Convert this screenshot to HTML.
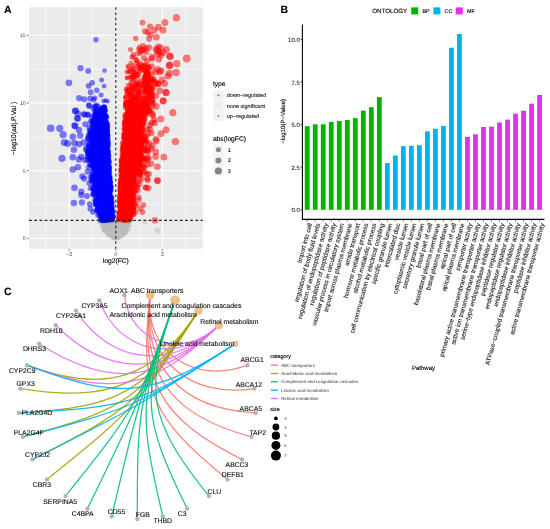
<!DOCTYPE html>
<html><head><meta charset="utf-8"><style>
html,body{margin:0;padding:0;background:#fff;}
svg{display:block;will-change:transform;filter:blur(0.25px);}
text{font-family:"Liberation Sans", sans-serif;text-rendering:geometricPrecision;}
text{stroke-width:0.12px;}
</style></head><body>
<svg width="550" height="529" viewBox="0 0 550 529">
<rect width="550" height="529" fill="#fff"/>
<text x="4" y="13" font-size="10.5" font-weight="bold" fill="#000" stroke="#000">A</text>
<rect x="29.0" y="7.2" width="173.8" height="241.6" fill="#EBEBEB"/>
<line x1="46.0" y1="7.2" x2="46.0" y2="248.8" stroke="#fff" stroke-width="0.5"/>
<line x1="92.5" y1="7.2" x2="92.5" y2="248.8" stroke="#fff" stroke-width="0.5"/>
<line x1="139.1" y1="7.2" x2="139.1" y2="248.8" stroke="#fff" stroke-width="0.5"/>
<line x1="185.6" y1="7.2" x2="185.6" y2="248.8" stroke="#fff" stroke-width="0.5"/>
<line x1="29.0" y1="204.6" x2="202.8" y2="204.6" stroke="#fff" stroke-width="0.5"/>
<line x1="29.0" y1="136.9" x2="202.8" y2="136.9" stroke="#fff" stroke-width="0.5"/>
<line x1="29.0" y1="69.2" x2="202.8" y2="69.2" stroke="#fff" stroke-width="0.5"/>
<line x1="69.2" y1="7.2" x2="69.2" y2="248.8" stroke="#fff" stroke-width="1"/>
<line x1="115.8" y1="7.2" x2="115.8" y2="248.8" stroke="#fff" stroke-width="1"/>
<line x1="162.4" y1="7.2" x2="162.4" y2="248.8" stroke="#fff" stroke-width="1"/>
<line x1="29.0" y1="238.4" x2="202.8" y2="238.4" stroke="#fff" stroke-width="1"/>
<line x1="29.0" y1="170.7" x2="202.8" y2="170.7" stroke="#fff" stroke-width="1"/>
<line x1="29.0" y1="103.0" x2="202.8" y2="103.0" stroke="#fff" stroke-width="1"/>
<line x1="29.0" y1="35.3" x2="202.8" y2="35.3" stroke="#fff" stroke-width="1"/>
<clipPath id="ca"><rect x="29.0" y="7.2" width="173.8" height="241.6"/></clipPath>
<g clip-path="url(#ca)">
<g fill="#BEBEBE" fill-opacity="0.5"><circle cx="123.9" cy="231.9" r="1.5"/><circle cx="126.0" cy="226.3" r="1.9"/><circle cx="116.0" cy="234.9" r="1.6"/><circle cx="114.5" cy="225.5" r="1.7"/><circle cx="114.9" cy="238.4" r="2.0"/><circle cx="105.5" cy="224.8" r="1.4"/><circle cx="114.2" cy="221.6" r="2.0"/><circle cx="114.9" cy="232.0" r="1.5"/><circle cx="106.5" cy="221.2" r="1.5"/><circle cx="104.0" cy="227.5" r="1.5"/><circle cx="126.4" cy="225.7" r="1.9"/><circle cx="119.4" cy="232.2" r="1.7"/><circle cx="126.5" cy="229.9" r="1.8"/><circle cx="113.3" cy="222.0" r="1.5"/><circle cx="114.9" cy="235.3" r="1.8"/><circle cx="118.5" cy="231.6" r="1.5"/><circle cx="109.4" cy="228.7" r="1.5"/><circle cx="113.9" cy="237.9" r="1.6"/><circle cx="117.7" cy="236.3" r="1.9"/><circle cx="118.4" cy="237.5" r="1.5"/><circle cx="127.6" cy="224.4" r="1.5"/><circle cx="116.5" cy="236.5" r="1.6"/><circle cx="110.0" cy="228.2" r="1.9"/><circle cx="118.1" cy="229.2" r="1.9"/><circle cx="112.7" cy="221.4" r="1.5"/><circle cx="116.0" cy="237.9" r="1.7"/><circle cx="113.7" cy="236.3" r="1.8"/><circle cx="116.3" cy="227.2" r="1.9"/><circle cx="128.1" cy="223.6" r="1.9"/><circle cx="110.2" cy="235.2" r="1.9"/><circle cx="119.1" cy="221.2" r="1.7"/><circle cx="111.6" cy="233.7" r="1.6"/><circle cx="112.4" cy="224.1" r="1.7"/><circle cx="108.6" cy="227.0" r="1.7"/><circle cx="115.8" cy="238.2" r="1.9"/><circle cx="116.9" cy="234.0" r="1.9"/><circle cx="125.5" cy="228.2" r="1.7"/><circle cx="126.4" cy="230.1" r="1.9"/><circle cx="120.1" cy="232.8" r="1.6"/><circle cx="107.7" cy="228.0" r="1.5"/><circle cx="119.2" cy="237.0" r="1.7"/><circle cx="118.8" cy="231.4" r="2.0"/><circle cx="119.2" cy="229.2" r="1.5"/><circle cx="113.4" cy="222.1" r="1.9"/><circle cx="108.9" cy="233.8" r="1.9"/><circle cx="115.8" cy="236.4" r="1.4"/><circle cx="102.3" cy="221.5" r="1.5"/><circle cx="117.4" cy="224.3" r="1.8"/><circle cx="120.9" cy="223.9" r="1.6"/><circle cx="117.1" cy="237.4" r="1.8"/><circle cx="110.3" cy="231.7" r="1.4"/><circle cx="123.9" cy="235.0" r="1.4"/><circle cx="110.3" cy="226.9" r="1.8"/><circle cx="111.4" cy="235.0" r="1.9"/><circle cx="123.6" cy="223.3" r="1.5"/><circle cx="118.1" cy="231.0" r="1.5"/><circle cx="118.9" cy="232.6" r="1.9"/><circle cx="121.1" cy="226.7" r="1.9"/><circle cx="103.0" cy="223.8" r="1.5"/><circle cx="125.7" cy="230.9" r="1.6"/><circle cx="120.5" cy="229.0" r="1.6"/><circle cx="121.6" cy="223.3" r="1.6"/><circle cx="115.2" cy="227.5" r="1.5"/><circle cx="116.1" cy="226.8" r="1.9"/><circle cx="112.7" cy="231.1" r="1.9"/><circle cx="105.7" cy="223.3" r="1.4"/><circle cx="112.9" cy="236.9" r="1.9"/><circle cx="108.4" cy="231.8" r="1.9"/><circle cx="123.0" cy="227.6" r="1.8"/><circle cx="121.4" cy="234.6" r="1.6"/><circle cx="116.6" cy="222.1" r="1.5"/><circle cx="118.0" cy="225.7" r="1.9"/><circle cx="106.6" cy="223.2" r="1.8"/><circle cx="125.5" cy="233.6" r="1.9"/><circle cx="114.6" cy="234.6" r="1.5"/><circle cx="121.5" cy="234.3" r="1.7"/><circle cx="113.4" cy="227.6" r="1.9"/><circle cx="113.2" cy="230.5" r="1.8"/><circle cx="124.1" cy="227.7" r="1.6"/><circle cx="121.9" cy="223.4" r="1.5"/><circle cx="121.1" cy="233.5" r="1.5"/><circle cx="129.6" cy="222.6" r="1.7"/><circle cx="121.3" cy="228.8" r="1.9"/><circle cx="123.2" cy="224.8" r="1.7"/><circle cx="109.7" cy="221.6" r="1.8"/><circle cx="106.6" cy="229.0" r="1.9"/><circle cx="113.6" cy="237.0" r="1.5"/><circle cx="102.9" cy="223.2" r="1.5"/><circle cx="125.3" cy="224.1" r="1.5"/><circle cx="111.7" cy="232.7" r="1.6"/><circle cx="119.2" cy="230.0" r="1.6"/><circle cx="122.1" cy="234.8" r="1.5"/><circle cx="127.8" cy="223.0" r="1.5"/><circle cx="114.5" cy="238.0" r="1.7"/><circle cx="112.6" cy="237.0" r="1.8"/><circle cx="107.5" cy="222.2" r="1.9"/><circle cx="121.4" cy="234.3" r="1.8"/><circle cx="119.2" cy="235.9" r="1.6"/><circle cx="122.8" cy="223.9" r="2.0"/><circle cx="113.1" cy="231.4" r="1.5"/><circle cx="105.0" cy="230.0" r="1.7"/><circle cx="112.5" cy="235.1" r="1.8"/><circle cx="124.1" cy="232.3" r="1.6"/><circle cx="123.4" cy="233.1" r="1.8"/><circle cx="117.2" cy="224.7" r="1.4"/><circle cx="109.1" cy="233.7" r="1.7"/><circle cx="121.2" cy="228.2" r="1.8"/><circle cx="118.1" cy="222.5" r="2.0"/><circle cx="114.6" cy="221.7" r="1.7"/><circle cx="117.7" cy="222.3" r="1.5"/><circle cx="111.4" cy="236.4" r="1.9"/><circle cx="117.7" cy="233.4" r="1.7"/><circle cx="122.9" cy="231.9" r="1.8"/><circle cx="117.3" cy="228.1" r="1.8"/><circle cx="115.1" cy="227.7" r="1.7"/><circle cx="124.6" cy="226.9" r="1.9"/><circle cx="113.6" cy="234.7" r="1.4"/><circle cx="123.8" cy="227.8" r="1.7"/><circle cx="119.8" cy="232.6" r="1.7"/><circle cx="109.5" cy="224.2" r="1.7"/><circle cx="114.7" cy="238.5" r="1.6"/><circle cx="125.9" cy="231.2" r="1.6"/><circle cx="128.1" cy="225.7" r="1.8"/><circle cx="125.3" cy="222.3" r="1.7"/><circle cx="114.5" cy="224.5" r="1.9"/><circle cx="123.7" cy="229.3" r="1.6"/><circle cx="110.2" cy="230.6" r="1.8"/><circle cx="108.2" cy="234.5" r="1.9"/><circle cx="104.5" cy="228.8" r="1.5"/><circle cx="113.5" cy="232.3" r="1.6"/><circle cx="116.6" cy="229.3" r="1.5"/><circle cx="114.2" cy="237.8" r="1.6"/><circle cx="113.8" cy="222.2" r="1.8"/><circle cx="106.1" cy="224.4" r="1.9"/><circle cx="125.8" cy="229.5" r="1.8"/><circle cx="118.7" cy="234.4" r="1.6"/><circle cx="115.5" cy="228.7" r="1.7"/><circle cx="108.6" cy="232.2" r="1.5"/><circle cx="128.2" cy="226.0" r="1.5"/><circle cx="115.5" cy="223.9" r="1.7"/><circle cx="109.2" cy="223.9" r="1.5"/><circle cx="114.3" cy="231.8" r="1.9"/><circle cx="127.6" cy="223.8" r="1.8"/><circle cx="119.3" cy="221.9" r="1.9"/><circle cx="128.7" cy="224.7" r="1.5"/><circle cx="101.3" cy="226.5" r="1.9"/><circle cx="115.7" cy="238.3" r="1.8"/><circle cx="127.5" cy="231.0" r="1.6"/><circle cx="103.7" cy="230.0" r="1.8"/><circle cx="124.9" cy="228.4" r="1.6"/><circle cx="106.2" cy="222.4" r="1.6"/><circle cx="126.2" cy="228.8" r="1.9"/><circle cx="123.2" cy="232.9" r="1.4"/><circle cx="111.9" cy="234.8" r="1.9"/><circle cx="110.4" cy="233.0" r="2.0"/><circle cx="121.5" cy="225.7" r="1.9"/><circle cx="116.9" cy="223.1" r="1.7"/><circle cx="111.2" cy="235.8" r="1.9"/><circle cx="112.1" cy="231.6" r="1.7"/><circle cx="113.6" cy="236.1" r="1.8"/><circle cx="115.3" cy="234.0" r="1.8"/><circle cx="104.6" cy="227.8" r="1.8"/><circle cx="122.7" cy="224.6" r="1.7"/><circle cx="115.8" cy="236.0" r="1.6"/><circle cx="107.8" cy="222.3" r="1.5"/><circle cx="115.2" cy="222.1" r="1.8"/><circle cx="113.3" cy="237.1" r="1.7"/><circle cx="105.5" cy="222.3" r="1.7"/><circle cx="110.9" cy="235.1" r="1.9"/><circle cx="110.6" cy="236.2" r="1.6"/><circle cx="109.3" cy="234.3" r="1.9"/><circle cx="113.6" cy="229.2" r="1.6"/><circle cx="113.1" cy="221.7" r="1.4"/><circle cx="125.1" cy="230.9" r="1.8"/><circle cx="117.9" cy="226.7" r="1.8"/><circle cx="117.4" cy="235.0" r="1.7"/><circle cx="110.4" cy="229.6" r="1.9"/><circle cx="119.1" cy="223.4" r="1.6"/><circle cx="113.0" cy="225.7" r="1.8"/><circle cx="108.8" cy="230.8" r="2.0"/><circle cx="108.3" cy="222.8" r="1.9"/><circle cx="112.5" cy="236.9" r="1.5"/><circle cx="125.5" cy="229.2" r="1.5"/><circle cx="114.5" cy="229.5" r="1.7"/><circle cx="113.7" cy="223.5" r="1.9"/><circle cx="123.6" cy="223.0" r="1.9"/><circle cx="126.9" cy="221.2" r="1.7"/><circle cx="115.9" cy="232.6" r="1.5"/><circle cx="102.4" cy="226.0" r="1.5"/><circle cx="113.7" cy="229.1" r="1.6"/><circle cx="111.1" cy="221.6" r="1.6"/><circle cx="122.1" cy="228.1" r="1.9"/><circle cx="116.4" cy="237.1" r="1.6"/><circle cx="114.9" cy="223.4" r="2.0"/><circle cx="122.2" cy="223.6" r="1.5"/><circle cx="117.0" cy="238.0" r="1.9"/><circle cx="103.9" cy="222.8" r="2.0"/><circle cx="129.2" cy="221.6" r="1.4"/><circle cx="114.5" cy="231.0" r="1.8"/><circle cx="125.0" cy="232.9" r="1.9"/><circle cx="123.4" cy="228.2" r="2.0"/><circle cx="114.0" cy="225.7" r="2.0"/><circle cx="126.8" cy="227.5" r="1.6"/><circle cx="116.2" cy="234.2" r="1.6"/><circle cx="107.6" cy="228.6" r="1.9"/><circle cx="120.1" cy="230.9" r="1.5"/><circle cx="109.7" cy="225.1" r="1.9"/><circle cx="111.5" cy="227.5" r="1.5"/><circle cx="121.5" cy="222.9" r="1.6"/><circle cx="107.1" cy="232.1" r="1.7"/><circle cx="114.2" cy="225.4" r="1.8"/><circle cx="122.5" cy="223.7" r="2.0"/><circle cx="108.3" cy="224.5" r="2.0"/><circle cx="117.5" cy="226.0" r="2.0"/><circle cx="115.0" cy="221.7" r="1.8"/><circle cx="111.4" cy="226.9" r="1.4"/><circle cx="105.5" cy="230.6" r="1.6"/><circle cx="103.7" cy="222.2" r="1.7"/><circle cx="121.6" cy="224.6" r="1.5"/><circle cx="118.1" cy="237.8" r="1.5"/><circle cx="101.9" cy="226.6" r="1.4"/><circle cx="120.9" cy="223.2" r="1.5"/><circle cx="115.2" cy="236.8" r="1.5"/><circle cx="118.7" cy="234.9" r="1.8"/><circle cx="109.6" cy="222.8" r="2.0"/><circle cx="117.7" cy="235.3" r="1.4"/><circle cx="111.6" cy="236.6" r="1.8"/><circle cx="120.6" cy="235.2" r="1.5"/><circle cx="127.0" cy="221.6" r="1.5"/><circle cx="115.6" cy="236.2" r="1.7"/><circle cx="113.2" cy="221.1" r="1.8"/><circle cx="124.8" cy="229.8" r="1.6"/><circle cx="127.9" cy="225.9" r="1.5"/><circle cx="130.8" cy="221.8" r="1.4"/><circle cx="117.0" cy="229.9" r="2.0"/><circle cx="113.9" cy="237.6" r="1.6"/><circle cx="118.7" cy="235.6" r="1.7"/><circle cx="124.7" cy="224.7" r="1.8"/><circle cx="116.3" cy="224.4" r="1.7"/><circle cx="113.4" cy="222.0" r="1.4"/><circle cx="102.4" cy="225.4" r="1.6"/><circle cx="110.8" cy="229.8" r="1.5"/><circle cx="121.3" cy="236.9" r="1.7"/><circle cx="114.3" cy="236.0" r="1.6"/><circle cx="111.3" cy="233.6" r="2.0"/><circle cx="125.4" cy="222.0" r="1.6"/><circle cx="104.7" cy="227.1" r="1.8"/><circle cx="119.9" cy="222.7" r="2.0"/><circle cx="119.4" cy="236.6" r="2.0"/><circle cx="126.2" cy="224.5" r="1.8"/><circle cx="109.0" cy="230.1" r="1.6"/><circle cx="106.0" cy="223.2" r="2.0"/><circle cx="102.2" cy="223.5" r="1.5"/><circle cx="118.0" cy="224.3" r="1.7"/><circle cx="120.9" cy="224.6" r="1.6"/><circle cx="127.4" cy="229.1" r="1.8"/><circle cx="126.9" cy="226.4" r="1.7"/><circle cx="116.2" cy="236.4" r="1.5"/><circle cx="114.1" cy="238.3" r="2.0"/><circle cx="105.1" cy="221.3" r="1.5"/><circle cx="117.4" cy="229.3" r="1.5"/><circle cx="119.0" cy="235.2" r="1.5"/><circle cx="119.4" cy="230.5" r="1.9"/><circle cx="115.4" cy="227.8" r="1.7"/><circle cx="119.6" cy="234.4" r="2.0"/><circle cx="115.5" cy="233.6" r="1.9"/><circle cx="118.7" cy="224.1" r="1.7"/><circle cx="114.7" cy="236.3" r="1.6"/><circle cx="113.7" cy="237.1" r="1.6"/><circle cx="119.0" cy="237.4" r="2.0"/><circle cx="105.1" cy="231.6" r="1.4"/><circle cx="110.6" cy="230.6" r="1.6"/><circle cx="123.8" cy="231.5" r="1.6"/><circle cx="103.7" cy="231.0" r="2.0"/><circle cx="126.2" cy="223.1" r="1.6"/><circle cx="112.6" cy="234.6" r="1.4"/><circle cx="122.4" cy="223.1" r="1.5"/><circle cx="110.7" cy="230.0" r="1.8"/><circle cx="112.6" cy="236.0" r="2.0"/><circle cx="124.8" cy="229.0" r="1.9"/><circle cx="124.2" cy="231.2" r="1.9"/><circle cx="122.8" cy="222.0" r="1.6"/><circle cx="118.4" cy="226.7" r="2.0"/><circle cx="107.6" cy="221.2" r="1.9"/><circle cx="116.2" cy="230.6" r="1.8"/><circle cx="106.1" cy="226.1" r="1.9"/><circle cx="105.9" cy="231.5" r="1.6"/><circle cx="117.2" cy="231.2" r="1.6"/><circle cx="118.8" cy="228.1" r="1.8"/><circle cx="122.9" cy="229.2" r="2.0"/><circle cx="105.5" cy="225.9" r="1.6"/><circle cx="117.5" cy="235.8" r="1.5"/><circle cx="108.5" cy="234.8" r="1.9"/><circle cx="106.1" cy="226.3" r="1.7"/><circle cx="115.2" cy="223.2" r="1.6"/><circle cx="125.2" cy="232.2" r="1.5"/><circle cx="115.0" cy="229.4" r="1.5"/><circle cx="125.3" cy="229.9" r="1.6"/><circle cx="111.8" cy="230.7" r="1.5"/><circle cx="102.5" cy="224.6" r="1.6"/><circle cx="119.0" cy="236.8" r="1.6"/><circle cx="111.1" cy="221.0" r="1.9"/><circle cx="122.0" cy="222.0" r="2.0"/><circle cx="123.2" cy="233.5" r="1.6"/><circle cx="122.3" cy="222.7" r="1.6"/><circle cx="116.3" cy="238.4" r="2.0"/><circle cx="128.9" cy="226.0" r="1.6"/><circle cx="106.9" cy="226.7" r="1.5"/><circle cx="126.4" cy="221.2" r="1.8"/><circle cx="108.8" cy="233.8" r="1.7"/><circle cx="114.8" cy="221.9" r="1.8"/><circle cx="107.8" cy="231.8" r="1.9"/><circle cx="118.1" cy="223.2" r="2.0"/><circle cx="113.7" cy="224.0" r="1.8"/><circle cx="118.8" cy="237.4" r="1.4"/><circle cx="124.3" cy="233.4" r="1.9"/><circle cx="114.6" cy="224.1" r="1.8"/><circle cx="116.7" cy="238.3" r="1.8"/><circle cx="111.7" cy="229.2" r="1.7"/><circle cx="109.2" cy="225.9" r="1.7"/><circle cx="126.9" cy="226.1" r="1.6"/><circle cx="124.7" cy="231.8" r="1.7"/><circle cx="118.9" cy="228.8" r="1.5"/><circle cx="117.1" cy="237.9" r="1.8"/><circle cx="115.3" cy="236.2" r="1.6"/><circle cx="121.0" cy="229.9" r="1.4"/><circle cx="120.1" cy="234.8" r="1.6"/><circle cx="108.3" cy="232.5" r="1.7"/><circle cx="113.6" cy="231.8" r="1.8"/><circle cx="121.2" cy="229.1" r="1.5"/><circle cx="119.7" cy="230.5" r="1.9"/><circle cx="123.9" cy="222.0" r="1.8"/><circle cx="109.9" cy="227.6" r="1.7"/><circle cx="119.3" cy="233.2" r="1.6"/><circle cx="114.1" cy="232.9" r="1.7"/><circle cx="103.0" cy="230.8" r="1.5"/><circle cx="105.4" cy="227.8" r="1.9"/><circle cx="107.3" cy="227.2" r="1.5"/><circle cx="113.0" cy="236.6" r="1.7"/><circle cx="111.4" cy="223.1" r="1.8"/><circle cx="115.4" cy="238.3" r="1.5"/><circle cx="114.9" cy="231.1" r="1.9"/><circle cx="109.3" cy="234.1" r="1.9"/><circle cx="114.6" cy="238.4" r="2.0"/><circle cx="118.8" cy="234.0" r="1.6"/><circle cx="125.6" cy="231.9" r="1.6"/><circle cx="121.3" cy="221.4" r="1.9"/><circle cx="120.7" cy="225.1" r="1.7"/><circle cx="113.8" cy="224.3" r="1.5"/><circle cx="113.3" cy="222.6" r="1.9"/><circle cx="120.2" cy="235.3" r="1.8"/><circle cx="123.0" cy="224.3" r="1.8"/><circle cx="123.1" cy="233.2" r="1.8"/><circle cx="112.8" cy="230.1" r="1.5"/><circle cx="113.5" cy="229.6" r="1.9"/><circle cx="120.8" cy="232.9" r="1.5"/><circle cx="106.3" cy="229.9" r="2.0"/><circle cx="122.4" cy="222.5" r="1.7"/><circle cx="116.3" cy="235.0" r="1.7"/><circle cx="110.3" cy="224.4" r="2.0"/><circle cx="107.7" cy="226.9" r="1.5"/><circle cx="118.0" cy="237.9" r="1.7"/><circle cx="106.4" cy="224.5" r="1.6"/><circle cx="127.3" cy="228.1" r="1.5"/><circle cx="108.7" cy="230.7" r="2.0"/><circle cx="106.3" cy="226.9" r="1.8"/><circle cx="103.3" cy="229.1" r="1.6"/><circle cx="115.1" cy="234.7" r="1.7"/><circle cx="126.0" cy="232.8" r="1.4"/><circle cx="111.1" cy="229.7" r="1.5"/><circle cx="130.0" cy="225.3" r="1.9"/><circle cx="112.7" cy="233.2" r="1.7"/><circle cx="114.1" cy="226.1" r="1.4"/><circle cx="114.8" cy="225.8" r="1.8"/><circle cx="110.4" cy="233.7" r="1.6"/><circle cx="122.0" cy="225.9" r="1.8"/><circle cx="110.9" cy="221.6" r="2.0"/><circle cx="113.0" cy="231.4" r="1.8"/><circle cx="114.9" cy="236.1" r="1.4"/><circle cx="125.1" cy="223.4" r="1.6"/><circle cx="119.0" cy="234.9" r="1.6"/><circle cx="121.2" cy="232.2" r="1.5"/><circle cx="117.2" cy="237.9" r="1.7"/><circle cx="107.4" cy="222.4" r="1.5"/><circle cx="114.3" cy="224.5" r="1.6"/><circle cx="108.6" cy="235.3" r="1.9"/><circle cx="114.7" cy="230.3" r="1.7"/><circle cx="126.9" cy="224.9" r="1.6"/><circle cx="127.6" cy="221.4" r="1.8"/><circle cx="122.2" cy="236.0" r="1.7"/><circle cx="115.4" cy="235.7" r="1.7"/><circle cx="124.4" cy="226.9" r="1.5"/><circle cx="112.3" cy="223.9" r="2.0"/><circle cx="118.1" cy="237.5" r="1.8"/><circle cx="112.5" cy="225.7" r="1.9"/><circle cx="103.6" cy="225.8" r="1.6"/><circle cx="108.9" cy="233.7" r="1.9"/><circle cx="118.7" cy="236.0" r="1.5"/><circle cx="118.7" cy="236.3" r="1.5"/><circle cx="114.4" cy="224.8" r="1.4"/><circle cx="115.3" cy="228.1" r="1.6"/><circle cx="111.2" cy="226.8" r="1.7"/><circle cx="124.5" cy="224.5" r="1.7"/><circle cx="122.4" cy="233.5" r="1.9"/><circle cx="120.6" cy="232.7" r="1.8"/><circle cx="107.6" cy="225.5" r="1.6"/><circle cx="119.0" cy="221.3" r="1.9"/><circle cx="118.9" cy="223.3" r="1.4"/><circle cx="110.8" cy="224.4" r="1.5"/><circle cx="112.1" cy="230.4" r="1.7"/><circle cx="109.2" cy="233.0" r="1.8"/><circle cx="107.7" cy="233.6" r="1.7"/><circle cx="114.3" cy="225.8" r="1.7"/><circle cx="111.1" cy="225.3" r="1.9"/><circle cx="103.8" cy="228.7" r="1.5"/><circle cx="128.8" cy="221.2" r="1.7"/><circle cx="104.6" cy="227.3" r="2.0"/><circle cx="115.7" cy="224.3" r="1.5"/><circle cx="121.3" cy="232.6" r="1.8"/><circle cx="108.5" cy="221.3" r="1.8"/><circle cx="113.4" cy="227.8" r="1.4"/><circle cx="108.4" cy="225.7" r="1.5"/><circle cx="113.4" cy="221.8" r="1.5"/><circle cx="111.3" cy="235.7" r="1.5"/><circle cx="112.3" cy="236.4" r="1.9"/><circle cx="104.0" cy="225.5" r="1.7"/><circle cx="123.4" cy="229.4" r="1.7"/><circle cx="114.6" cy="229.5" r="1.5"/><circle cx="107.8" cy="226.2" r="1.9"/><circle cx="107.3" cy="223.0" r="1.6"/><circle cx="112.5" cy="225.2" r="1.8"/><circle cx="116.9" cy="238.0" r="1.7"/><circle cx="110.6" cy="228.3" r="1.4"/><circle cx="121.4" cy="224.6" r="1.6"/><circle cx="116.4" cy="237.4" r="1.5"/><circle cx="112.2" cy="236.6" r="1.9"/><circle cx="119.4" cy="237.5" r="1.5"/><circle cx="114.9" cy="221.6" r="2.0"/><circle cx="110.3" cy="221.1" r="1.4"/><circle cx="105.4" cy="229.7" r="1.8"/><circle cx="124.6" cy="227.5" r="1.6"/><circle cx="123.3" cy="235.8" r="1.6"/><circle cx="119.3" cy="236.8" r="1.5"/><circle cx="116.3" cy="236.2" r="1.7"/><circle cx="128.2" cy="226.4" r="1.5"/><circle cx="110.2" cy="221.8" r="1.5"/><circle cx="127.6" cy="229.0" r="1.6"/><circle cx="111.0" cy="235.4" r="1.9"/><circle cx="118.2" cy="223.5" r="1.8"/><circle cx="111.9" cy="226.4" r="1.6"/><circle cx="127.4" cy="224.1" r="1.6"/><circle cx="116.2" cy="233.1" r="1.6"/><circle cx="114.7" cy="237.9" r="2.0"/><circle cx="122.3" cy="226.2" r="1.8"/><circle cx="119.5" cy="235.1" r="1.8"/><circle cx="115.4" cy="238.1" r="1.5"/><circle cx="113.3" cy="222.5" r="1.9"/><circle cx="130.3" cy="221.3" r="1.6"/><circle cx="122.4" cy="235.6" r="1.6"/><circle cx="125.1" cy="229.1" r="1.9"/><circle cx="115.8" cy="234.7" r="1.6"/><circle cx="120.3" cy="234.1" r="1.7"/><circle cx="115.7" cy="231.6" r="2.0"/><circle cx="113.1" cy="237.9" r="1.7"/><circle cx="125.6" cy="223.2" r="1.8"/><circle cx="116.3" cy="235.5" r="1.9"/><circle cx="123.4" cy="233.1" r="1.9"/><circle cx="114.7" cy="236.3" r="1.6"/><circle cx="109.3" cy="221.1" r="1.5"/><circle cx="115.8" cy="234.4" r="1.6"/><circle cx="123.7" cy="227.3" r="1.8"/><circle cx="117.8" cy="228.4" r="1.6"/><circle cx="119.9" cy="230.1" r="2.0"/><circle cx="109.9" cy="229.7" r="1.9"/><circle cx="126.3" cy="232.0" r="1.7"/><circle cx="122.7" cy="234.0" r="1.8"/><circle cx="116.9" cy="227.8" r="1.9"/><circle cx="118.5" cy="235.5" r="1.4"/><circle cx="115.4" cy="234.5" r="1.6"/><circle cx="124.3" cy="229.2" r="1.6"/><circle cx="124.6" cy="229.5" r="1.9"/><circle cx="111.3" cy="225.3" r="1.8"/><circle cx="120.0" cy="236.4" r="1.8"/><circle cx="113.5" cy="232.1" r="1.9"/><circle cx="125.9" cy="229.4" r="1.5"/><circle cx="114.7" cy="234.4" r="1.7"/><circle cx="125.1" cy="223.6" r="1.5"/><circle cx="124.5" cy="225.5" r="1.9"/><circle cx="112.1" cy="229.8" r="1.5"/><circle cx="109.4" cy="229.7" r="1.6"/><circle cx="114.2" cy="222.1" r="1.8"/><circle cx="117.6" cy="238.1" r="1.9"/><circle cx="122.7" cy="228.8" r="1.7"/><circle cx="116.3" cy="238.1" r="1.9"/><circle cx="124.7" cy="226.5" r="1.5"/><circle cx="109.1" cy="224.1" r="1.4"/><circle cx="118.5" cy="226.2" r="1.9"/><circle cx="109.9" cy="227.7" r="1.5"/><circle cx="109.6" cy="222.1" r="2.0"/><circle cx="116.6" cy="233.8" r="1.8"/><circle cx="111.6" cy="232.0" r="1.5"/><circle cx="118.6" cy="234.7" r="1.4"/><circle cx="114.1" cy="236.8" r="1.8"/><circle cx="123.1" cy="230.6" r="1.8"/><circle cx="120.2" cy="223.8" r="1.4"/><circle cx="115.7" cy="223.3" r="1.9"/><circle cx="100.4" cy="223.1" r="1.6"/><circle cx="108.5" cy="229.9" r="1.6"/><circle cx="108.4" cy="234.8" r="2.0"/><circle cx="111.7" cy="230.8" r="1.5"/><circle cx="125.2" cy="226.7" r="1.9"/><circle cx="105.8" cy="232.7" r="1.8"/><circle cx="110.9" cy="232.8" r="1.5"/><circle cx="106.7" cy="228.5" r="1.5"/><circle cx="123.4" cy="224.1" r="1.8"/><circle cx="119.0" cy="233.8" r="1.8"/><circle cx="108.9" cy="223.0" r="1.5"/><circle cx="119.9" cy="222.9" r="1.6"/><circle cx="108.6" cy="227.8" r="1.7"/><circle cx="112.1" cy="237.3" r="2.0"/><circle cx="122.6" cy="227.1" r="1.8"/><circle cx="119.3" cy="226.1" r="1.5"/><circle cx="103.4" cy="229.4" r="1.9"/><circle cx="122.4" cy="221.8" r="1.5"/><circle cx="119.3" cy="230.2" r="1.7"/><circle cx="116.6" cy="238.1" r="1.4"/><circle cx="127.6" cy="223.1" r="1.9"/><circle cx="117.3" cy="231.1" r="1.8"/><circle cx="115.1" cy="226.8" r="1.8"/><circle cx="104.7" cy="224.8" r="1.5"/><circle cx="120.4" cy="236.0" r="1.7"/><circle cx="116.0" cy="236.1" r="1.6"/><circle cx="120.1" cy="223.6" r="1.6"/><circle cx="121.8" cy="225.5" r="1.7"/><circle cx="122.1" cy="225.5" r="1.8"/><circle cx="114.1" cy="233.9" r="1.6"/><circle cx="117.6" cy="238.3" r="1.9"/><circle cx="120.7" cy="230.5" r="1.5"/><circle cx="118.2" cy="225.2" r="1.5"/><circle cx="112.6" cy="237.8" r="1.9"/><circle cx="115.0" cy="229.5" r="1.5"/><circle cx="121.9" cy="232.0" r="1.6"/><circle cx="116.0" cy="237.4" r="2.0"/><circle cx="126.8" cy="223.7" r="1.8"/><circle cx="116.4" cy="235.7" r="1.6"/><circle cx="121.1" cy="236.1" r="1.9"/><circle cx="107.9" cy="225.8" r="1.7"/><circle cx="107.3" cy="225.9" r="1.6"/><circle cx="107.7" cy="234.5" r="1.8"/><circle cx="110.6" cy="221.9" r="2.0"/><circle cx="111.8" cy="235.9" r="1.7"/><circle cx="115.0" cy="224.0" r="1.9"/><circle cx="104.6" cy="227.9" r="2.0"/><circle cx="110.2" cy="229.9" r="1.8"/><circle cx="111.0" cy="229.4" r="1.6"/><circle cx="108.5" cy="221.9" r="1.4"/><circle cx="120.7" cy="233.7" r="1.8"/><circle cx="119.6" cy="224.9" r="1.8"/><circle cx="129.4" cy="229.6" r="1.7"/><circle cx="110.8" cy="232.9" r="1.8"/><circle cx="115.7" cy="236.7" r="1.5"/><circle cx="106.6" cy="230.3" r="1.9"/><circle cx="113.0" cy="222.2" r="1.9"/><circle cx="113.4" cy="222.4" r="1.8"/><circle cx="124.8" cy="233.3" r="1.8"/><circle cx="119.6" cy="234.0" r="1.4"/><circle cx="122.0" cy="222.5" r="1.6"/><circle cx="116.3" cy="221.2" r="1.8"/><circle cx="123.3" cy="227.0" r="1.7"/><circle cx="123.3" cy="222.7" r="1.5"/><circle cx="118.3" cy="237.8" r="1.9"/><circle cx="128.0" cy="227.6" r="2.0"/><circle cx="122.3" cy="222.1" r="1.7"/><circle cx="106.0" cy="232.1" r="1.5"/><circle cx="113.1" cy="233.9" r="1.6"/><circle cx="127.9" cy="225.1" r="1.8"/><circle cx="121.9" cy="233.3" r="1.4"/><circle cx="107.8" cy="229.2" r="2.0"/><circle cx="114.4" cy="232.0" r="1.9"/><circle cx="109.3" cy="230.3" r="2.0"/><circle cx="118.2" cy="237.2" r="1.6"/><circle cx="108.7" cy="232.4" r="1.4"/><circle cx="123.3" cy="221.2" r="1.8"/><circle cx="120.4" cy="234.6" r="1.9"/><circle cx="124.0" cy="232.5" r="1.4"/><circle cx="113.0" cy="225.7" r="1.5"/><circle cx="111.0" cy="236.3" r="1.9"/><circle cx="110.4" cy="224.9" r="1.9"/><circle cx="107.0" cy="228.9" r="2.0"/><circle cx="110.7" cy="234.8" r="1.6"/><circle cx="112.5" cy="233.6" r="1.4"/><circle cx="125.9" cy="226.2" r="1.8"/><circle cx="110.7" cy="234.1" r="1.9"/><circle cx="116.3" cy="238.3" r="2.0"/><circle cx="116.1" cy="238.4" r="1.6"/><circle cx="115.4" cy="229.1" r="1.4"/><circle cx="117.8" cy="234.4" r="1.5"/><circle cx="119.7" cy="225.1" r="1.7"/><circle cx="117.8" cy="224.5" r="1.9"/><circle cx="115.0" cy="236.7" r="1.9"/><circle cx="121.4" cy="234.8" r="1.6"/><circle cx="125.7" cy="225.2" r="1.6"/><circle cx="115.9" cy="236.3" r="1.7"/><circle cx="109.4" cy="224.9" r="1.6"/><circle cx="106.4" cy="230.0" r="1.5"/><circle cx="119.4" cy="228.8" r="1.6"/><circle cx="117.4" cy="230.9" r="1.9"/><circle cx="124.5" cy="223.1" r="1.8"/><circle cx="114.4" cy="223.8" r="1.9"/><circle cx="112.7" cy="235.1" r="1.7"/><circle cx="123.0" cy="232.7" r="2.0"/><circle cx="119.3" cy="236.4" r="1.7"/><circle cx="123.6" cy="224.0" r="1.5"/><circle cx="118.5" cy="234.0" r="2.0"/><circle cx="110.8" cy="229.4" r="1.9"/><circle cx="115.7" cy="226.9" r="1.8"/><circle cx="123.6" cy="228.0" r="1.8"/><circle cx="104.1" cy="225.4" r="2.0"/><circle cx="126.2" cy="232.3" r="1.8"/><circle cx="113.3" cy="228.3" r="1.5"/><circle cx="116.4" cy="228.5" r="1.6"/><circle cx="118.9" cy="226.0" r="1.8"/><circle cx="118.3" cy="232.6" r="1.6"/><circle cx="122.3" cy="235.8" r="1.4"/><circle cx="116.9" cy="237.8" r="1.9"/><circle cx="125.4" cy="231.4" r="1.7"/><circle cx="109.9" cy="232.7" r="1.6"/><circle cx="121.9" cy="233.4" r="2.0"/><circle cx="121.5" cy="232.0" r="1.5"/><circle cx="123.9" cy="233.5" r="1.9"/><circle cx="127.2" cy="222.0" r="1.8"/><circle cx="122.1" cy="228.5" r="1.7"/><circle cx="102.9" cy="225.6" r="1.9"/><circle cx="105.0" cy="224.7" r="1.7"/><circle cx="122.2" cy="231.3" r="2.0"/><circle cx="115.3" cy="236.5" r="2.0"/><circle cx="119.5" cy="225.0" r="1.9"/><circle cx="115.5" cy="224.5" r="1.9"/><circle cx="118.4" cy="231.8" r="1.5"/><circle cx="120.6" cy="236.0" r="2.0"/><circle cx="111.0" cy="230.8" r="1.6"/><circle cx="115.5" cy="230.0" r="2.0"/><circle cx="113.2" cy="235.2" r="1.9"/><circle cx="117.1" cy="234.5" r="1.7"/><circle cx="109.1" cy="222.9" r="1.6"/><circle cx="114.0" cy="228.4" r="1.5"/><circle cx="120.1" cy="221.9" r="1.7"/><circle cx="115.7" cy="237.4" r="1.9"/><circle cx="113.3" cy="237.7" r="2.0"/><circle cx="126.3" cy="229.1" r="1.4"/><circle cx="157.3" cy="230.5" r="3.1"/><circle cx="145.0" cy="222.5" r="2.2"/></g>
<polygon fill="#0000FF" points="99.0,118.0 98.7,120.6 98.3,123.3 97.9,125.9 97.5,128.6 97.2,131.2 96.8,133.8 96.5,136.5 96.1,139.1 96.0,141.8 96.0,144.4 96.0,147.1 96.0,149.7 96.0,152.3 96.0,155.0 96.3,157.6 96.7,160.3 97.1,162.9 97.4,165.5 97.8,168.2 98.1,170.8 98.2,173.5 98.4,176.1 98.6,178.7 98.8,181.4 98.9,184.0 99.2,186.7 99.5,189.3 99.9,191.9 100.2,194.6 100.5,197.2 100.9,199.9 101.2,202.5 101.5,205.2 102.3,207.8 103.1,210.4 103.9,213.1 104.9,215.7 106.2,218.4 107.5,221.0 113.8,221.0 113.6,218.4 113.4,215.7 113.2,213.1 113.0,210.4 112.8,207.8 112.6,205.2 112.4,202.5 112.2,199.9 112.0,197.2 111.8,194.6 111.6,191.9 111.3,189.3 111.1,186.7 110.8,184.0 110.6,181.4 110.4,178.7 110.1,176.1 109.9,173.5 109.7,170.8 109.5,168.2 109.4,165.5 109.3,162.9 109.3,160.3 109.2,157.6 109.1,155.0 109.0,152.3 108.8,149.7 108.7,147.1 108.6,144.4 108.4,141.8 108.3,139.1 108.1,136.5 108.0,133.8 107.9,131.2 107.7,128.6 107.6,125.9 107.3,123.3 107.1,120.6 106.8,118.0"/>
<polygon fill="#FF0000" points="125.2,112.0 125.0,114.8 124.9,117.6 124.7,120.4 124.6,123.2 124.3,126.0 124.0,128.8 123.7,131.6 123.5,134.4 123.2,137.2 122.9,139.9 122.6,142.7 122.3,145.5 122.1,148.3 121.8,151.1 121.5,153.9 121.3,156.7 121.1,159.5 121.0,162.3 120.8,165.1 120.7,167.9 120.5,170.7 120.4,173.5 120.2,176.3 120.1,179.1 120.0,181.9 119.8,184.7 119.7,187.5 119.5,190.3 119.4,193.1 119.3,195.8 119.1,198.6 119.0,201.4 118.9,204.2 118.7,207.0 118.6,209.8 118.5,212.6 118.3,215.4 118.2,218.2 118.0,221.0 126.0,221.0 126.7,218.2 127.4,215.4 128.0,212.6 128.5,209.8 129.1,207.0 129.4,204.2 129.1,201.4 128.7,198.6 128.5,195.8 128.5,193.1 128.5,190.3 128.5,187.5 128.6,184.7 129.3,181.9 130.1,179.1 130.8,176.3 131.5,173.5 132.3,170.7 133.0,167.9 133.7,165.1 134.3,162.3 134.9,159.5 135.5,156.7 135.5,153.9 135.5,151.1 135.5,148.3 135.5,145.5 135.5,142.7 135.5,139.9 135.7,137.2 135.9,134.4 136.1,131.6 136.2,128.8 136.4,126.0 136.9,123.2 137.4,120.4 138.0,117.6 138.5,114.8 139.1,112.0"/>
<g fill="#0000FF" fill-opacity="0.5"><circle cx="111.4" cy="210.5" r="2.0"/><circle cx="97.2" cy="159.1" r="2.6"/><circle cx="108.3" cy="169.8" r="2.2"/><circle cx="110.3" cy="214.6" r="2.0"/><circle cx="97.5" cy="137.3" r="2.6"/><circle cx="110.9" cy="217.8" r="2.0"/><circle cx="93.2" cy="157.5" r="2.8"/><circle cx="100.8" cy="140.5" r="2.5"/><circle cx="100.6" cy="138.9" r="2.5"/><circle cx="102.9" cy="170.9" r="2.4"/><circle cx="98.3" cy="165.3" r="2.6"/><circle cx="112.8" cy="209.6" r="1.8"/><circle cx="101.5" cy="116.4" r="2.5"/><circle cx="99.1" cy="115.4" r="2.6"/><circle cx="107.6" cy="129.4" r="2.2"/><circle cx="102.9" cy="180.3" r="2.4"/><circle cx="106.3" cy="198.8" r="2.3"/><circle cx="103.9" cy="166.7" r="2.4"/><circle cx="103.1" cy="181.2" r="2.4"/><circle cx="102.0" cy="184.3" r="2.5"/><circle cx="101.0" cy="111.4" r="2.5"/><circle cx="93.8" cy="140.4" r="2.8"/><circle cx="102.6" cy="220.8" r="2.4"/><circle cx="105.1" cy="150.1" r="2.3"/><circle cx="112.2" cy="215.7" r="1.9"/><circle cx="109.0" cy="168.1" r="2.1"/><circle cx="104.7" cy="137.6" r="2.3"/><circle cx="104.8" cy="107.1" r="2.3"/><circle cx="98.6" cy="137.0" r="2.6"/><circle cx="98.4" cy="149.0" r="2.6"/><circle cx="100.4" cy="162.2" r="2.5"/><circle cx="104.0" cy="163.1" r="2.4"/><circle cx="103.7" cy="174.2" r="2.4"/><circle cx="106.1" cy="166.1" r="2.3"/><circle cx="98.1" cy="113.7" r="2.6"/><circle cx="104.0" cy="142.8" r="2.4"/><circle cx="107.8" cy="217.2" r="2.2"/><circle cx="104.9" cy="112.8" r="2.3"/><circle cx="96.2" cy="193.9" r="2.7"/><circle cx="104.4" cy="166.3" r="2.3"/><circle cx="111.0" cy="191.1" r="2.0"/><circle cx="104.9" cy="150.2" r="2.3"/><circle cx="100.1" cy="154.5" r="2.5"/><circle cx="106.1" cy="170.7" r="2.3"/><circle cx="113.0" cy="211.9" r="1.8"/><circle cx="100.2" cy="149.8" r="2.5"/><circle cx="104.1" cy="121.3" r="2.4"/><circle cx="98.7" cy="114.5" r="2.6"/><circle cx="104.3" cy="209.1" r="2.4"/><circle cx="97.9" cy="148.1" r="2.6"/><circle cx="94.7" cy="125.5" r="2.7"/><circle cx="106.1" cy="179.3" r="2.3"/><circle cx="105.1" cy="205.4" r="2.3"/><circle cx="107.1" cy="179.7" r="2.2"/><circle cx="105.6" cy="129.3" r="2.3"/><circle cx="106.5" cy="158.5" r="2.3"/><circle cx="107.2" cy="142.7" r="2.2"/><circle cx="104.3" cy="110.9" r="2.4"/><circle cx="111.6" cy="217.6" r="1.9"/><circle cx="99.7" cy="164.4" r="2.5"/><circle cx="104.9" cy="127.3" r="2.3"/><circle cx="112.8" cy="209.4" r="1.8"/><circle cx="110.0" cy="219.5" r="2.0"/><circle cx="110.0" cy="202.4" r="2.0"/><circle cx="98.3" cy="141.2" r="2.6"/><circle cx="105.4" cy="133.9" r="2.3"/><circle cx="102.1" cy="171.6" r="2.5"/><circle cx="108.2" cy="178.0" r="2.2"/><circle cx="107.0" cy="208.8" r="2.2"/><circle cx="101.4" cy="217.7" r="2.5"/><circle cx="107.0" cy="212.0" r="2.2"/><circle cx="102.4" cy="151.3" r="2.4"/><circle cx="109.8" cy="178.2" r="2.1"/><circle cx="107.8" cy="126.0" r="2.2"/><circle cx="97.9" cy="171.0" r="2.6"/><circle cx="103.7" cy="119.3" r="2.4"/><circle cx="99.5" cy="124.5" r="2.6"/><circle cx="102.8" cy="125.8" r="2.4"/><circle cx="96.0" cy="146.7" r="2.7"/><circle cx="106.2" cy="147.7" r="2.3"/><circle cx="104.8" cy="190.9" r="2.3"/><circle cx="101.3" cy="120.0" r="2.5"/><circle cx="98.1" cy="124.5" r="2.6"/><circle cx="111.1" cy="185.7" r="2.0"/><circle cx="106.3" cy="187.5" r="2.3"/><circle cx="105.0" cy="191.4" r="2.3"/><circle cx="103.5" cy="192.4" r="2.4"/><circle cx="109.5" cy="186.4" r="2.1"/><circle cx="102.5" cy="174.6" r="2.4"/><circle cx="102.2" cy="194.7" r="2.4"/><circle cx="99.2" cy="120.7" r="2.6"/><circle cx="105.4" cy="136.4" r="2.3"/><circle cx="105.9" cy="194.7" r="2.3"/><circle cx="104.3" cy="134.1" r="2.4"/><circle cx="104.6" cy="172.3" r="2.3"/><circle cx="103.3" cy="142.0" r="2.4"/><circle cx="94.7" cy="161.3" r="2.7"/><circle cx="98.4" cy="204.3" r="2.6"/><circle cx="110.4" cy="186.2" r="2.0"/><circle cx="106.7" cy="162.9" r="2.2"/><circle cx="104.6" cy="143.5" r="2.3"/><circle cx="96.1" cy="201.3" r="2.7"/><circle cx="96.9" cy="185.8" r="2.7"/><circle cx="109.6" cy="162.3" r="2.1"/><circle cx="104.9" cy="207.8" r="2.3"/><circle cx="93.6" cy="189.5" r="2.8"/><circle cx="105.8" cy="219.1" r="2.3"/><circle cx="111.5" cy="186.6" r="1.9"/><circle cx="104.2" cy="211.0" r="2.4"/><circle cx="103.2" cy="174.4" r="2.4"/><circle cx="97.3" cy="191.4" r="2.6"/><circle cx="106.9" cy="205.1" r="2.2"/><circle cx="106.9" cy="121.9" r="2.2"/><circle cx="104.6" cy="166.1" r="2.3"/><circle cx="105.0" cy="180.3" r="2.3"/><circle cx="107.2" cy="117.5" r="2.2"/><circle cx="105.9" cy="199.6" r="2.3"/><circle cx="96.3" cy="192.0" r="2.7"/><circle cx="99.2" cy="214.6" r="2.6"/><circle cx="106.2" cy="154.7" r="2.3"/><circle cx="91.2" cy="165.5" r="2.8"/><circle cx="108.2" cy="212.2" r="2.2"/><circle cx="103.8" cy="159.1" r="2.4"/><circle cx="100.4" cy="204.3" r="2.5"/><circle cx="106.5" cy="160.2" r="2.2"/><circle cx="104.9" cy="150.8" r="2.3"/><circle cx="108.1" cy="143.9" r="2.2"/><circle cx="96.2" cy="136.6" r="2.7"/><circle cx="102.2" cy="161.3" r="2.4"/><circle cx="100.2" cy="130.5" r="2.5"/><circle cx="96.1" cy="203.6" r="2.7"/><circle cx="111.2" cy="218.5" r="2.0"/><circle cx="101.4" cy="122.8" r="2.5"/><circle cx="101.9" cy="117.0" r="2.5"/><circle cx="103.9" cy="107.6" r="2.4"/><circle cx="111.0" cy="214.2" r="2.0"/><circle cx="103.5" cy="119.7" r="2.4"/><circle cx="100.8" cy="188.3" r="2.5"/><circle cx="106.6" cy="147.0" r="2.2"/><circle cx="90.1" cy="134.8" r="2.9"/><circle cx="104.7" cy="140.4" r="2.3"/><circle cx="110.0" cy="189.3" r="2.0"/><circle cx="103.3" cy="111.1" r="2.4"/><circle cx="108.2" cy="207.4" r="2.2"/><circle cx="100.6" cy="176.3" r="2.5"/><circle cx="88.0" cy="139.1" r="2.9"/><circle cx="96.8" cy="136.0" r="2.7"/><circle cx="106.9" cy="185.6" r="2.2"/><circle cx="105.2" cy="182.9" r="2.3"/><circle cx="107.2" cy="148.6" r="2.2"/><circle cx="90.7" cy="150.4" r="2.9"/><circle cx="99.3" cy="164.9" r="2.6"/><circle cx="113.3" cy="212.0" r="1.8"/><circle cx="100.1" cy="173.1" r="2.5"/><circle cx="109.9" cy="204.9" r="2.1"/><circle cx="104.6" cy="184.1" r="2.3"/><circle cx="100.7" cy="175.7" r="2.5"/><circle cx="107.5" cy="167.8" r="2.2"/><circle cx="103.9" cy="188.3" r="2.4"/><circle cx="97.7" cy="168.0" r="2.6"/><circle cx="109.8" cy="193.1" r="2.1"/><circle cx="101.9" cy="132.9" r="2.5"/><circle cx="106.4" cy="149.1" r="2.3"/><circle cx="111.4" cy="208.2" r="2.0"/><circle cx="101.9" cy="157.3" r="2.5"/><circle cx="106.7" cy="205.2" r="2.2"/><circle cx="106.2" cy="214.8" r="2.3"/><circle cx="92.1" cy="177.4" r="2.8"/><circle cx="103.8" cy="123.3" r="2.4"/><circle cx="105.4" cy="196.3" r="2.3"/><circle cx="101.6" cy="186.7" r="2.5"/><circle cx="96.0" cy="145.5" r="2.7"/><circle cx="104.0" cy="207.2" r="2.4"/><circle cx="102.5" cy="167.0" r="2.4"/><circle cx="105.8" cy="117.4" r="2.3"/><circle cx="97.0" cy="118.9" r="2.6"/><circle cx="102.7" cy="138.3" r="2.4"/><circle cx="91.4" cy="180.8" r="2.8"/><circle cx="95.8" cy="202.3" r="2.7"/><circle cx="106.8" cy="123.0" r="2.2"/><circle cx="102.3" cy="111.9" r="2.4"/><circle cx="99.4" cy="182.1" r="2.6"/><circle cx="103.4" cy="158.9" r="2.4"/><circle cx="96.9" cy="162.5" r="2.7"/><circle cx="107.3" cy="202.9" r="2.2"/><circle cx="103.6" cy="212.9" r="2.4"/><circle cx="112.8" cy="217.7" r="1.8"/><circle cx="108.5" cy="198.6" r="2.1"/><circle cx="104.8" cy="107.4" r="2.3"/><circle cx="98.4" cy="129.2" r="2.6"/><circle cx="103.9" cy="178.4" r="2.4"/><circle cx="106.6" cy="216.5" r="2.2"/><circle cx="104.8" cy="120.7" r="2.3"/><circle cx="99.4" cy="170.5" r="2.6"/><circle cx="91.6" cy="157.5" r="2.8"/><circle cx="104.7" cy="158.6" r="2.3"/><circle cx="91.9" cy="142.9" r="2.8"/><circle cx="92.1" cy="143.2" r="2.8"/><circle cx="100.2" cy="139.5" r="2.5"/><circle cx="106.8" cy="123.5" r="2.2"/><circle cx="104.2" cy="174.8" r="2.4"/><circle cx="101.0" cy="163.0" r="2.5"/><circle cx="108.2" cy="191.7" r="2.2"/><circle cx="105.0" cy="184.0" r="2.3"/><circle cx="109.8" cy="216.3" r="2.1"/><circle cx="108.1" cy="151.1" r="2.2"/><circle cx="112.5" cy="209.2" r="1.9"/><circle cx="97.1" cy="156.1" r="2.6"/><circle cx="111.5" cy="186.2" r="1.9"/><circle cx="97.9" cy="201.3" r="2.6"/><circle cx="92.3" cy="157.5" r="2.8"/><circle cx="109.8" cy="163.0" r="2.1"/><circle cx="109.5" cy="183.1" r="2.1"/><circle cx="104.0" cy="124.4" r="2.4"/><circle cx="107.7" cy="172.4" r="2.2"/><circle cx="107.0" cy="122.5" r="2.2"/><circle cx="93.5" cy="137.9" r="2.8"/><circle cx="99.8" cy="182.2" r="2.5"/><circle cx="111.4" cy="218.2" r="2.0"/><circle cx="103.8" cy="220.9" r="2.4"/><circle cx="103.9" cy="142.0" r="2.4"/><circle cx="106.5" cy="128.7" r="2.2"/><circle cx="108.2" cy="170.9" r="2.2"/><circle cx="103.6" cy="162.4" r="2.4"/><circle cx="96.3" cy="155.5" r="2.7"/><circle cx="111.4" cy="197.5" r="1.9"/><circle cx="105.7" cy="191.4" r="2.3"/><circle cx="105.4" cy="175.6" r="2.3"/><circle cx="96.0" cy="182.0" r="2.7"/><circle cx="101.1" cy="177.8" r="2.5"/><circle cx="106.9" cy="187.9" r="2.2"/><circle cx="105.9" cy="213.8" r="2.3"/><circle cx="104.4" cy="215.7" r="2.4"/><circle cx="105.8" cy="219.0" r="2.3"/><circle cx="101.7" cy="206.9" r="2.5"/><circle cx="104.3" cy="123.7" r="2.4"/><circle cx="105.7" cy="163.6" r="2.3"/><circle cx="110.9" cy="198.8" r="2.0"/><circle cx="105.1" cy="145.9" r="2.3"/><circle cx="109.3" cy="180.4" r="2.1"/><circle cx="99.0" cy="117.1" r="2.6"/><circle cx="107.9" cy="135.4" r="2.2"/><circle cx="106.6" cy="157.9" r="2.2"/><circle cx="98.7" cy="119.2" r="2.6"/><circle cx="97.8" cy="160.6" r="2.6"/><circle cx="93.6" cy="138.5" r="2.8"/><circle cx="112.6" cy="207.1" r="1.9"/><circle cx="96.5" cy="148.7" r="2.7"/><circle cx="105.0" cy="155.7" r="2.3"/><circle cx="101.7" cy="201.0" r="2.5"/><circle cx="110.3" cy="175.4" r="2.0"/><circle cx="106.8" cy="116.3" r="2.2"/><circle cx="99.8" cy="137.0" r="2.5"/><circle cx="100.9" cy="180.9" r="2.5"/><circle cx="100.5" cy="134.9" r="2.5"/><circle cx="100.7" cy="140.6" r="2.5"/><circle cx="102.3" cy="182.2" r="2.4"/><circle cx="108.1" cy="168.3" r="2.2"/><circle cx="108.0" cy="143.0" r="2.2"/><circle cx="105.4" cy="175.3" r="2.3"/><circle cx="103.1" cy="183.3" r="2.4"/><circle cx="104.5" cy="114.7" r="2.3"/><circle cx="106.2" cy="143.6" r="2.3"/><circle cx="102.2" cy="147.4" r="2.4"/><circle cx="107.9" cy="208.8" r="2.2"/><circle cx="104.4" cy="116.5" r="2.4"/><circle cx="93.1" cy="151.9" r="2.8"/><circle cx="107.9" cy="134.4" r="2.2"/><circle cx="104.8" cy="189.8" r="2.3"/><circle cx="109.5" cy="201.9" r="2.1"/><circle cx="103.7" cy="117.4" r="2.4"/><circle cx="112.9" cy="207.2" r="1.8"/><circle cx="110.7" cy="189.9" r="2.0"/><circle cx="108.2" cy="137.0" r="2.2"/><circle cx="112.1" cy="212.6" r="1.9"/><circle cx="99.0" cy="145.8" r="2.6"/><circle cx="111.6" cy="199.6" r="1.9"/><circle cx="96.9" cy="119.9" r="2.7"/><circle cx="105.8" cy="164.1" r="2.3"/><circle cx="100.0" cy="169.5" r="2.5"/><circle cx="96.2" cy="210.6" r="2.7"/><circle cx="105.1" cy="204.5" r="2.3"/><circle cx="103.6" cy="173.9" r="2.4"/><circle cx="103.9" cy="116.6" r="2.4"/><circle cx="105.3" cy="161.2" r="2.3"/><circle cx="108.2" cy="155.1" r="2.2"/><circle cx="108.1" cy="220.6" r="2.2"/><circle cx="108.8" cy="188.3" r="2.1"/><circle cx="103.0" cy="158.4" r="2.4"/><circle cx="90.3" cy="153.9" r="2.9"/><circle cx="108.0" cy="197.4" r="2.2"/><circle cx="92.5" cy="122.6" r="2.8"/><circle cx="104.8" cy="202.5" r="2.3"/><circle cx="108.3" cy="187.3" r="2.1"/><circle cx="99.9" cy="161.8" r="2.5"/><circle cx="106.4" cy="191.4" r="2.3"/><circle cx="101.1" cy="157.6" r="2.5"/><circle cx="103.0" cy="128.3" r="2.4"/><circle cx="108.5" cy="159.7" r="2.1"/><circle cx="95.2" cy="116.5" r="2.7"/><circle cx="95.6" cy="121.5" r="2.7"/><circle cx="105.5" cy="162.2" r="2.3"/><circle cx="111.0" cy="203.3" r="2.0"/><circle cx="104.2" cy="135.4" r="2.4"/><circle cx="105.3" cy="169.0" r="2.3"/><circle cx="112.3" cy="218.9" r="1.9"/><circle cx="109.2" cy="203.6" r="2.1"/><circle cx="109.8" cy="211.2" r="2.1"/><circle cx="95.9" cy="187.7" r="2.7"/><circle cx="98.7" cy="178.6" r="2.6"/><circle cx="110.1" cy="177.8" r="2.0"/><circle cx="108.2" cy="179.9" r="2.2"/><circle cx="90.8" cy="165.1" r="2.9"/><circle cx="108.4" cy="153.4" r="2.1"/><circle cx="100.9" cy="139.5" r="2.5"/><circle cx="104.2" cy="118.5" r="2.4"/><circle cx="106.4" cy="154.4" r="2.3"/><circle cx="103.7" cy="197.6" r="2.4"/><circle cx="101.6" cy="174.6" r="2.5"/><circle cx="105.8" cy="130.8" r="2.3"/><circle cx="105.2" cy="202.2" r="2.3"/><circle cx="102.5" cy="115.0" r="2.4"/><circle cx="103.6" cy="214.1" r="2.4"/><circle cx="110.4" cy="185.2" r="2.0"/><circle cx="107.1" cy="175.0" r="2.2"/><circle cx="100.9" cy="159.3" r="2.5"/><circle cx="112.5" cy="203.3" r="1.9"/><circle cx="100.8" cy="108.6" r="2.5"/><circle cx="95.1" cy="110.7" r="2.7"/><circle cx="98.9" cy="171.1" r="2.6"/><circle cx="105.3" cy="146.2" r="2.3"/><circle cx="91.0" cy="158.0" r="2.8"/><circle cx="110.3" cy="172.9" r="2.0"/><circle cx="106.3" cy="115.4" r="2.3"/><circle cx="109.6" cy="219.3" r="2.1"/><circle cx="111.1" cy="188.0" r="2.0"/><circle cx="95.8" cy="123.0" r="2.7"/><circle cx="104.0" cy="194.4" r="2.4"/><circle cx="101.1" cy="172.5" r="2.5"/><circle cx="105.6" cy="189.0" r="2.3"/><circle cx="93.4" cy="194.3" r="2.8"/><circle cx="110.1" cy="220.1" r="2.0"/><circle cx="104.5" cy="125.4" r="2.3"/><circle cx="112.9" cy="220.6" r="1.8"/><circle cx="105.3" cy="166.4" r="2.3"/><circle cx="103.5" cy="135.1" r="2.4"/><circle cx="108.3" cy="154.9" r="2.2"/><circle cx="94.3" cy="153.8" r="2.7"/><circle cx="106.5" cy="210.5" r="2.2"/><circle cx="109.3" cy="171.6" r="2.1"/><circle cx="101.3" cy="118.7" r="2.5"/><circle cx="102.6" cy="191.9" r="2.4"/><circle cx="108.9" cy="168.7" r="2.1"/><circle cx="97.5" cy="202.3" r="2.6"/><circle cx="104.4" cy="115.8" r="2.3"/><circle cx="103.3" cy="207.4" r="2.4"/><circle cx="109.1" cy="210.2" r="2.1"/><circle cx="96.2" cy="109.0" r="2.7"/><circle cx="105.3" cy="166.4" r="2.3"/><circle cx="99.3" cy="125.7" r="2.6"/><circle cx="97.2" cy="172.1" r="2.6"/><circle cx="104.3" cy="121.7" r="2.4"/><circle cx="106.5" cy="209.7" r="2.2"/><circle cx="102.7" cy="133.1" r="2.4"/><circle cx="101.6" cy="187.0" r="2.5"/><circle cx="108.1" cy="185.4" r="2.2"/><circle cx="96.0" cy="148.9" r="2.7"/><circle cx="98.2" cy="136.7" r="2.6"/><circle cx="111.5" cy="212.5" r="1.9"/><circle cx="103.9" cy="114.8" r="2.4"/><circle cx="103.7" cy="141.3" r="2.4"/><circle cx="91.2" cy="149.6" r="2.8"/><circle cx="101.7" cy="178.0" r="2.5"/><circle cx="93.9" cy="154.4" r="2.8"/><circle cx="94.9" cy="124.5" r="2.7"/><circle cx="110.5" cy="176.5" r="2.0"/><circle cx="110.6" cy="192.9" r="2.0"/><circle cx="101.8" cy="190.8" r="2.5"/><circle cx="104.4" cy="167.8" r="2.4"/><circle cx="96.1" cy="147.3" r="2.7"/><circle cx="102.5" cy="109.5" r="2.4"/><circle cx="100.3" cy="172.5" r="2.5"/><circle cx="106.0" cy="182.8" r="2.3"/><circle cx="100.8" cy="162.4" r="2.5"/><circle cx="106.3" cy="216.9" r="2.3"/><circle cx="103.1" cy="135.3" r="2.4"/><circle cx="105.9" cy="202.2" r="2.3"/><circle cx="99.7" cy="192.3" r="2.5"/><circle cx="99.1" cy="210.9" r="2.6"/><circle cx="112.9" cy="213.4" r="1.8"/><circle cx="96.0" cy="139.3" r="2.7"/><circle cx="108.2" cy="213.2" r="2.2"/><circle cx="94.1" cy="158.2" r="2.7"/><circle cx="106.3" cy="188.1" r="2.3"/><circle cx="102.3" cy="216.3" r="2.4"/><circle cx="100.4" cy="179.2" r="2.5"/><circle cx="94.0" cy="177.9" r="2.8"/><circle cx="96.1" cy="119.3" r="2.7"/><circle cx="105.3" cy="179.4" r="2.3"/><circle cx="99.0" cy="139.8" r="2.6"/><circle cx="103.2" cy="156.5" r="2.4"/><circle cx="98.2" cy="155.4" r="2.6"/><circle cx="108.5" cy="218.3" r="2.1"/><circle cx="100.3" cy="183.8" r="2.5"/><circle cx="100.0" cy="193.0" r="2.5"/><circle cx="100.6" cy="131.8" r="2.5"/><circle cx="94.2" cy="147.0" r="2.7"/><circle cx="101.4" cy="208.7" r="2.5"/><circle cx="107.9" cy="125.6" r="2.2"/><circle cx="106.8" cy="216.3" r="2.2"/><circle cx="104.6" cy="160.9" r="2.3"/><circle cx="94.8" cy="156.7" r="2.7"/><circle cx="99.3" cy="170.5" r="2.6"/><circle cx="106.1" cy="162.7" r="2.3"/><circle cx="100.5" cy="165.7" r="2.5"/><circle cx="94.2" cy="160.5" r="2.7"/><circle cx="106.5" cy="190.5" r="2.2"/><circle cx="101.5" cy="143.8" r="2.5"/><circle cx="101.0" cy="131.1" r="2.5"/><circle cx="104.5" cy="161.7" r="2.3"/><circle cx="102.0" cy="121.6" r="2.5"/><circle cx="95.0" cy="163.1" r="2.7"/><circle cx="105.4" cy="168.3" r="2.3"/><circle cx="102.8" cy="199.1" r="2.4"/><circle cx="93.6" cy="124.2" r="2.8"/><circle cx="96.2" cy="157.5" r="2.7"/><circle cx="101.1" cy="198.7" r="2.5"/><circle cx="89.9" cy="150.9" r="2.9"/><circle cx="95.3" cy="204.5" r="2.7"/><circle cx="108.5" cy="192.3" r="2.1"/><circle cx="100.7" cy="115.1" r="2.5"/><circle cx="108.2" cy="156.2" r="2.2"/><circle cx="103.8" cy="197.3" r="2.4"/><circle cx="99.9" cy="171.8" r="2.5"/><circle cx="100.6" cy="187.5" r="2.5"/><circle cx="104.6" cy="220.0" r="2.3"/><circle cx="110.0" cy="187.7" r="2.1"/><circle cx="98.4" cy="173.9" r="2.6"/><circle cx="112.8" cy="205.5" r="1.8"/><circle cx="106.2" cy="161.2" r="2.3"/><circle cx="104.2" cy="109.5" r="2.4"/><circle cx="97.0" cy="143.4" r="2.6"/><circle cx="104.4" cy="179.2" r="2.4"/><circle cx="104.3" cy="215.8" r="2.4"/><circle cx="101.1" cy="180.5" r="2.5"/><circle cx="95.9" cy="144.7" r="2.7"/><circle cx="106.7" cy="220.3" r="2.2"/><circle cx="94.8" cy="157.9" r="2.7"/><circle cx="103.4" cy="138.2" r="2.4"/><circle cx="101.3" cy="174.7" r="2.5"/><circle cx="100.1" cy="151.6" r="2.5"/><circle cx="98.3" cy="124.5" r="2.6"/><circle cx="100.1" cy="191.7" r="2.5"/><circle cx="107.3" cy="189.4" r="2.2"/><circle cx="112.8" cy="218.2" r="1.8"/><circle cx="98.5" cy="127.5" r="2.6"/><circle cx="105.0" cy="212.0" r="2.3"/><circle cx="108.8" cy="200.5" r="2.1"/><circle cx="108.0" cy="141.2" r="2.2"/><circle cx="109.6" cy="166.6" r="2.1"/><circle cx="107.6" cy="182.9" r="2.2"/><circle cx="104.9" cy="148.3" r="2.3"/><circle cx="105.4" cy="124.0" r="2.3"/><circle cx="112.3" cy="204.6" r="1.9"/><circle cx="106.0" cy="130.8" r="2.3"/><circle cx="104.8" cy="167.9" r="2.3"/><circle cx="108.4" cy="162.0" r="2.1"/><circle cx="110.9" cy="211.3" r="2.0"/><circle cx="104.1" cy="175.3" r="2.4"/><circle cx="96.6" cy="160.6" r="2.7"/><circle cx="103.5" cy="218.7" r="2.4"/><circle cx="107.5" cy="152.5" r="2.2"/><circle cx="108.2" cy="193.1" r="2.2"/><circle cx="98.6" cy="138.9" r="2.6"/><circle cx="106.5" cy="196.3" r="2.2"/><circle cx="104.1" cy="195.7" r="2.4"/><circle cx="102.6" cy="203.6" r="2.4"/><circle cx="100.2" cy="167.2" r="2.5"/><circle cx="92.2" cy="137.6" r="2.8"/><circle cx="106.8" cy="183.1" r="2.2"/><circle cx="113.2" cy="212.0" r="1.8"/><circle cx="101.0" cy="147.7" r="2.5"/><circle cx="101.6" cy="111.5" r="2.5"/><circle cx="104.9" cy="133.2" r="2.3"/><circle cx="113.1" cy="214.3" r="1.8"/><circle cx="102.9" cy="108.4" r="2.4"/><circle cx="105.4" cy="116.9" r="2.3"/><circle cx="105.5" cy="122.9" r="2.3"/><circle cx="108.5" cy="210.1" r="2.1"/><circle cx="92.1" cy="156.0" r="2.8"/><circle cx="101.4" cy="189.5" r="2.5"/><circle cx="106.5" cy="191.0" r="2.2"/><circle cx="103.6" cy="161.6" r="2.4"/><circle cx="110.2" cy="193.7" r="2.0"/><circle cx="107.1" cy="164.6" r="2.2"/><circle cx="99.1" cy="173.5" r="2.6"/><circle cx="102.5" cy="147.3" r="2.4"/><circle cx="103.9" cy="106.9" r="2.4"/><circle cx="96.2" cy="179.0" r="2.7"/><circle cx="104.9" cy="142.6" r="2.3"/><circle cx="102.3" cy="143.7" r="2.4"/><circle cx="105.9" cy="208.8" r="2.3"/><circle cx="106.9" cy="153.6" r="2.2"/><circle cx="102.7" cy="123.4" r="2.4"/><circle cx="107.0" cy="183.0" r="2.2"/><circle cx="98.5" cy="173.1" r="2.6"/><circle cx="106.2" cy="117.4" r="2.3"/><circle cx="88.0" cy="152.1" r="2.9"/><circle cx="106.2" cy="180.9" r="2.3"/><circle cx="107.9" cy="144.2" r="2.2"/><circle cx="101.7" cy="219.6" r="2.5"/><circle cx="111.8" cy="200.6" r="1.9"/><circle cx="102.3" cy="169.4" r="2.4"/><circle cx="108.8" cy="212.5" r="2.1"/><circle cx="101.2" cy="114.0" r="2.5"/><circle cx="103.7" cy="137.9" r="2.4"/><circle cx="100.3" cy="212.5" r="2.5"/><circle cx="98.1" cy="169.9" r="2.6"/><circle cx="104.7" cy="131.5" r="2.3"/><circle cx="101.1" cy="176.5" r="2.5"/><circle cx="105.9" cy="193.5" r="2.3"/><circle cx="103.2" cy="180.1" r="2.4"/><circle cx="101.8" cy="115.7" r="2.5"/><circle cx="100.9" cy="114.3" r="2.5"/><circle cx="108.6" cy="158.6" r="2.1"/><circle cx="105.5" cy="110.8" r="2.3"/><circle cx="96.3" cy="121.1" r="2.7"/><circle cx="106.0" cy="184.3" r="2.3"/><circle cx="106.1" cy="162.1" r="2.3"/><circle cx="100.2" cy="121.3" r="2.5"/><circle cx="98.9" cy="208.6" r="2.6"/><circle cx="104.4" cy="154.3" r="2.4"/><circle cx="108.8" cy="209.3" r="2.1"/><circle cx="110.7" cy="180.7" r="2.0"/><circle cx="109.8" cy="182.0" r="2.1"/><circle cx="109.0" cy="160.5" r="2.1"/><circle cx="106.8" cy="187.4" r="2.2"/><circle cx="93.1" cy="140.1" r="2.8"/><circle cx="100.5" cy="141.7" r="2.5"/><circle cx="110.6" cy="208.4" r="2.0"/><circle cx="108.1" cy="135.4" r="2.2"/><circle cx="96.3" cy="156.3" r="2.7"/><circle cx="110.5" cy="195.0" r="2.0"/><circle cx="107.2" cy="150.0" r="2.2"/><circle cx="96.4" cy="154.0" r="2.7"/><circle cx="110.5" cy="211.9" r="2.0"/><circle cx="105.7" cy="135.7" r="2.3"/><circle cx="93.5" cy="139.8" r="2.8"/><circle cx="102.6" cy="209.6" r="2.4"/><circle cx="104.3" cy="143.7" r="2.4"/><circle cx="100.4" cy="150.0" r="2.5"/><circle cx="109.3" cy="209.1" r="2.1"/><circle cx="103.9" cy="149.0" r="2.4"/><circle cx="104.2" cy="220.7" r="2.4"/><circle cx="110.4" cy="202.9" r="2.0"/><circle cx="103.0" cy="205.5" r="2.4"/><circle cx="106.6" cy="138.0" r="2.2"/><circle cx="104.2" cy="137.0" r="2.4"/><circle cx="111.4" cy="195.8" r="2.0"/><circle cx="103.8" cy="203.5" r="2.4"/><circle cx="97.9" cy="137.9" r="2.6"/><circle cx="97.8" cy="135.7" r="2.6"/><circle cx="97.0" cy="140.1" r="2.6"/><circle cx="103.0" cy="127.6" r="2.4"/><circle cx="107.0" cy="160.2" r="2.2"/><circle cx="110.0" cy="169.2" r="2.0"/><circle cx="104.7" cy="182.7" r="2.3"/><circle cx="92.3" cy="117.1" r="2.8"/><circle cx="99.8" cy="134.1" r="2.5"/><circle cx="92.8" cy="125.2" r="2.8"/><circle cx="97.5" cy="143.1" r="2.6"/><circle cx="100.1" cy="133.3" r="2.5"/><circle cx="111.0" cy="214.6" r="2.0"/><circle cx="97.5" cy="154.9" r="2.6"/><circle cx="102.7" cy="127.8" r="2.4"/><circle cx="101.1" cy="186.8" r="2.5"/><circle cx="111.7" cy="218.3" r="1.9"/><circle cx="98.1" cy="200.2" r="2.6"/><circle cx="99.6" cy="184.9" r="2.6"/><circle cx="94.6" cy="155.4" r="2.7"/><circle cx="95.1" cy="158.2" r="2.7"/><circle cx="99.7" cy="146.8" r="2.5"/><circle cx="109.2" cy="201.4" r="2.1"/><circle cx="108.1" cy="201.1" r="2.2"/><circle cx="106.5" cy="167.7" r="2.2"/><circle cx="107.2" cy="207.1" r="2.2"/><circle cx="101.8" cy="185.3" r="2.5"/><circle cx="101.0" cy="188.8" r="2.5"/><circle cx="98.1" cy="143.0" r="2.6"/><circle cx="103.5" cy="139.8" r="2.4"/><circle cx="103.7" cy="138.2" r="2.4"/><circle cx="104.1" cy="212.2" r="2.4"/><circle cx="96.2" cy="200.8" r="2.7"/><circle cx="108.2" cy="210.9" r="2.2"/><circle cx="109.0" cy="203.1" r="2.1"/><circle cx="97.7" cy="201.3" r="2.6"/><circle cx="94.9" cy="161.9" r="2.7"/><circle cx="107.7" cy="197.2" r="2.2"/><circle cx="99.1" cy="131.1" r="2.6"/><circle cx="106.0" cy="185.7" r="2.3"/><circle cx="100.6" cy="115.2" r="2.5"/><circle cx="109.5" cy="217.6" r="2.1"/><circle cx="97.3" cy="208.9" r="2.6"/><circle cx="97.3" cy="130.9" r="2.6"/><circle cx="104.2" cy="197.5" r="2.4"/><circle cx="107.7" cy="203.2" r="2.2"/><circle cx="95.1" cy="115.1" r="2.7"/><circle cx="93.8" cy="176.1" r="2.8"/><circle cx="96.5" cy="160.1" r="2.7"/><circle cx="102.1" cy="181.7" r="2.5"/><circle cx="105.3" cy="209.6" r="2.3"/><circle cx="96.7" cy="192.7" r="2.7"/><circle cx="96.6" cy="136.3" r="2.7"/><circle cx="99.1" cy="174.9" r="2.6"/><circle cx="96.3" cy="175.6" r="2.7"/><circle cx="101.7" cy="109.8" r="2.5"/><circle cx="107.0" cy="127.0" r="2.2"/><circle cx="108.4" cy="153.3" r="2.1"/><circle cx="106.9" cy="132.4" r="2.2"/><circle cx="97.6" cy="139.3" r="2.6"/><circle cx="106.4" cy="187.8" r="2.3"/><circle cx="100.4" cy="217.1" r="2.5"/><circle cx="107.3" cy="164.3" r="2.2"/><circle cx="98.9" cy="184.6" r="2.6"/><circle cx="106.4" cy="196.8" r="2.3"/><circle cx="108.4" cy="187.5" r="2.1"/><circle cx="99.9" cy="185.8" r="2.5"/><circle cx="104.2" cy="106.6" r="2.4"/><circle cx="99.1" cy="207.9" r="2.6"/><circle cx="93.1" cy="130.4" r="2.8"/><circle cx="93.1" cy="132.7" r="2.8"/><circle cx="94.8" cy="170.0" r="2.7"/><circle cx="104.2" cy="178.3" r="2.4"/><circle cx="103.2" cy="196.1" r="2.4"/><circle cx="100.5" cy="145.7" r="2.5"/><circle cx="106.1" cy="215.5" r="2.3"/><circle cx="100.9" cy="182.7" r="2.5"/><circle cx="109.3" cy="205.3" r="2.1"/><circle cx="109.8" cy="166.4" r="2.1"/><circle cx="99.4" cy="119.3" r="2.6"/><circle cx="102.0" cy="109.9" r="2.5"/><circle cx="102.9" cy="184.0" r="2.4"/><circle cx="102.1" cy="160.8" r="2.5"/><circle cx="94.8" cy="162.3" r="2.7"/><circle cx="93.4" cy="149.5" r="2.8"/><circle cx="98.8" cy="132.4" r="2.6"/><circle cx="94.5" cy="166.0" r="2.7"/><circle cx="97.0" cy="141.4" r="2.6"/><circle cx="109.9" cy="210.2" r="2.1"/><circle cx="107.6" cy="132.5" r="2.2"/><circle cx="109.4" cy="217.8" r="2.1"/><circle cx="103.7" cy="206.9" r="2.4"/><circle cx="105.1" cy="156.0" r="2.3"/><circle cx="98.8" cy="197.9" r="2.6"/><circle cx="106.8" cy="177.7" r="2.2"/><circle cx="104.8" cy="165.2" r="2.3"/><circle cx="107.6" cy="202.0" r="2.2"/><circle cx="108.8" cy="203.9" r="2.1"/><circle cx="108.3" cy="135.2" r="2.2"/><circle cx="110.9" cy="211.6" r="2.0"/><circle cx="104.3" cy="113.5" r="2.4"/><circle cx="101.8" cy="108.2" r="2.5"/><circle cx="104.4" cy="167.1" r="2.4"/><circle cx="97.9" cy="146.7" r="2.6"/><circle cx="102.9" cy="160.4" r="2.4"/><circle cx="104.9" cy="166.6" r="2.3"/><circle cx="107.5" cy="165.4" r="2.2"/><circle cx="110.7" cy="211.8" r="2.0"/><circle cx="99.0" cy="212.8" r="2.6"/><circle cx="104.4" cy="151.8" r="2.3"/><circle cx="105.7" cy="145.1" r="2.3"/><circle cx="95.8" cy="185.5" r="2.7"/><circle cx="98.6" cy="134.8" r="2.6"/><circle cx="97.0" cy="157.9" r="2.6"/><circle cx="108.5" cy="192.2" r="2.1"/><circle cx="101.5" cy="108.3" r="2.5"/><circle cx="111.5" cy="197.8" r="1.9"/><circle cx="102.5" cy="193.9" r="2.4"/><circle cx="104.5" cy="156.4" r="2.3"/><circle cx="98.7" cy="140.6" r="2.6"/><circle cx="107.1" cy="173.3" r="2.2"/><circle cx="103.6" cy="146.0" r="2.4"/><circle cx="103.4" cy="202.9" r="2.4"/><circle cx="93.5" cy="178.7" r="2.8"/><circle cx="106.5" cy="147.3" r="2.2"/><circle cx="111.1" cy="201.5" r="2.0"/><circle cx="101.1" cy="180.5" r="2.5"/><circle cx="96.0" cy="127.0" r="2.7"/><circle cx="104.3" cy="159.4" r="2.4"/><circle cx="107.5" cy="167.8" r="2.2"/><circle cx="102.4" cy="215.5" r="2.4"/><circle cx="108.2" cy="148.9" r="2.2"/><circle cx="98.1" cy="163.2" r="2.6"/><circle cx="103.2" cy="218.7" r="2.4"/><circle cx="108.0" cy="160.8" r="2.2"/><circle cx="107.2" cy="203.5" r="2.2"/><circle cx="101.6" cy="122.7" r="2.5"/><circle cx="95.3" cy="157.2" r="2.7"/><circle cx="107.6" cy="133.1" r="2.2"/><circle cx="107.5" cy="209.3" r="2.2"/><circle cx="99.1" cy="174.6" r="2.6"/><circle cx="100.6" cy="137.2" r="2.5"/><circle cx="99.9" cy="122.1" r="2.5"/><circle cx="90.5" cy="160.2" r="2.9"/><circle cx="97.8" cy="122.7" r="2.6"/><circle cx="101.5" cy="167.3" r="2.5"/><circle cx="107.7" cy="193.4" r="2.2"/><circle cx="106.7" cy="147.7" r="2.2"/><circle cx="106.1" cy="131.2" r="2.3"/><circle cx="99.3" cy="153.5" r="2.6"/><circle cx="97.8" cy="131.0" r="2.6"/><circle cx="100.3" cy="205.2" r="2.5"/><circle cx="104.3" cy="122.6" r="2.4"/><circle cx="107.4" cy="194.6" r="2.2"/><circle cx="106.3" cy="150.4" r="2.3"/><circle cx="104.2" cy="193.3" r="2.4"/><circle cx="98.8" cy="197.7" r="2.6"/><circle cx="102.5" cy="127.3" r="2.4"/><circle cx="110.1" cy="196.2" r="2.0"/><circle cx="104.1" cy="215.6" r="2.4"/><circle cx="96.6" cy="176.2" r="2.7"/><circle cx="107.0" cy="184.5" r="2.2"/><circle cx="103.1" cy="149.1" r="2.4"/><circle cx="100.3" cy="132.0" r="2.5"/><circle cx="93.6" cy="195.0" r="2.8"/><circle cx="107.0" cy="202.9" r="2.2"/><circle cx="107.7" cy="135.7" r="2.2"/><circle cx="107.9" cy="124.8" r="2.2"/><circle cx="105.6" cy="152.5" r="2.3"/><circle cx="99.2" cy="182.5" r="2.6"/><circle cx="98.7" cy="153.9" r="2.6"/><circle cx="108.9" cy="217.4" r="2.1"/><circle cx="106.8" cy="199.9" r="2.2"/><circle cx="110.4" cy="212.6" r="2.0"/><circle cx="99.6" cy="179.7" r="2.6"/><circle cx="105.3" cy="196.2" r="2.3"/><circle cx="113.1" cy="216.1" r="1.8"/><circle cx="100.9" cy="114.1" r="2.5"/><circle cx="94.3" cy="177.0" r="2.7"/><circle cx="90.6" cy="133.5" r="2.9"/><circle cx="108.3" cy="200.2" r="2.1"/><circle cx="88.8" cy="138.8" r="2.9"/><circle cx="109.6" cy="194.7" r="2.1"/><circle cx="97.9" cy="150.3" r="2.6"/><circle cx="102.3" cy="185.2" r="2.4"/><circle cx="105.8" cy="188.1" r="2.3"/><circle cx="103.8" cy="211.9" r="2.4"/><circle cx="104.8" cy="208.2" r="2.3"/><circle cx="106.4" cy="162.1" r="2.3"/><circle cx="104.6" cy="189.2" r="2.3"/><circle cx="98.5" cy="132.9" r="2.6"/><circle cx="100.3" cy="122.9" r="2.5"/><circle cx="104.1" cy="191.8" r="2.4"/><circle cx="104.3" cy="211.7" r="2.4"/><circle cx="110.4" cy="195.2" r="2.0"/><circle cx="109.5" cy="170.7" r="2.1"/><circle cx="110.8" cy="182.9" r="2.0"/><circle cx="103.1" cy="193.5" r="2.4"/><circle cx="104.3" cy="176.4" r="2.4"/><circle cx="96.1" cy="153.7" r="2.7"/><circle cx="97.4" cy="206.0" r="2.6"/><circle cx="103.5" cy="154.4" r="2.4"/><circle cx="108.2" cy="211.3" r="2.2"/><circle cx="104.9" cy="200.7" r="2.3"/><circle cx="97.4" cy="200.0" r="2.6"/><circle cx="108.7" cy="204.2" r="2.1"/><circle cx="107.7" cy="219.7" r="2.2"/><circle cx="111.0" cy="220.0" r="2.0"/><circle cx="101.9" cy="169.1" r="2.5"/><circle cx="108.0" cy="155.3" r="2.2"/><circle cx="104.0" cy="193.8" r="2.4"/><circle cx="108.9" cy="217.8" r="2.1"/><circle cx="101.6" cy="182.9" r="2.5"/><circle cx="101.8" cy="112.5" r="2.5"/><circle cx="101.3" cy="114.6" r="2.5"/><circle cx="98.8" cy="165.0" r="2.6"/><circle cx="110.8" cy="199.5" r="2.0"/><circle cx="103.6" cy="209.7" r="2.4"/><circle cx="99.6" cy="155.0" r="2.6"/><circle cx="100.1" cy="170.8" r="2.5"/><circle cx="104.3" cy="170.3" r="2.4"/><circle cx="106.7" cy="122.4" r="2.2"/><circle cx="94.3" cy="106.4" r="2.7"/><circle cx="94.8" cy="171.5" r="2.7"/><circle cx="94.0" cy="169.4" r="2.8"/><circle cx="105.8" cy="207.3" r="2.3"/><circle cx="93.2" cy="132.8" r="2.8"/><circle cx="111.7" cy="206.1" r="1.9"/><circle cx="106.9" cy="143.3" r="2.2"/><circle cx="104.4" cy="173.2" r="2.3"/><circle cx="104.1" cy="191.1" r="2.4"/><circle cx="99.6" cy="128.5" r="2.6"/><circle cx="107.3" cy="215.6" r="2.2"/><circle cx="101.4" cy="216.8" r="2.5"/><circle cx="113.0" cy="218.0" r="1.8"/><circle cx="103.6" cy="107.0" r="2.4"/><circle cx="98.1" cy="184.4" r="2.6"/><circle cx="111.4" cy="187.3" r="2.0"/><circle cx="105.1" cy="208.9" r="2.3"/><circle cx="106.8" cy="135.2" r="2.2"/><circle cx="101.7" cy="126.0" r="2.5"/><circle cx="95.9" cy="201.7" r="2.7"/><circle cx="96.2" cy="142.2" r="2.7"/><circle cx="102.1" cy="118.6" r="2.5"/><circle cx="93.0" cy="122.1" r="2.8"/><circle cx="110.4" cy="184.5" r="2.0"/><circle cx="100.9" cy="172.8" r="2.5"/><circle cx="98.7" cy="195.3" r="2.6"/><circle cx="102.8" cy="201.5" r="2.4"/><circle cx="104.1" cy="107.2" r="2.4"/><circle cx="111.3" cy="214.3" r="2.0"/><circle cx="109.0" cy="208.9" r="2.1"/><circle cx="110.2" cy="214.3" r="2.0"/><circle cx="96.0" cy="197.5" r="2.7"/><circle cx="102.8" cy="156.0" r="2.4"/><circle cx="101.4" cy="140.6" r="2.5"/><circle cx="105.0" cy="212.2" r="2.3"/><circle cx="87.5" cy="160.1" r="3.0"/><circle cx="97.0" cy="167.6" r="2.6"/><circle cx="102.1" cy="190.2" r="2.4"/><circle cx="109.3" cy="189.1" r="2.1"/><circle cx="94.9" cy="189.6" r="2.7"/><circle cx="109.2" cy="182.2" r="2.1"/><circle cx="97.1" cy="169.8" r="2.6"/><circle cx="105.5" cy="197.3" r="2.3"/><circle cx="108.4" cy="157.4" r="2.1"/><circle cx="94.2" cy="142.2" r="2.7"/><circle cx="102.0" cy="211.9" r="2.5"/><circle cx="103.6" cy="205.5" r="2.4"/><circle cx="106.6" cy="192.2" r="2.2"/><circle cx="101.0" cy="131.3" r="2.5"/><circle cx="100.7" cy="115.7" r="2.5"/><circle cx="103.6" cy="213.2" r="2.4"/><circle cx="101.2" cy="215.3" r="2.5"/><circle cx="92.8" cy="143.4" r="2.8"/><circle cx="111.1" cy="182.9" r="2.0"/><circle cx="103.9" cy="111.2" r="2.4"/><circle cx="105.1" cy="157.1" r="2.3"/><circle cx="100.6" cy="190.8" r="2.5"/><circle cx="100.5" cy="153.5" r="2.5"/><circle cx="107.3" cy="201.5" r="2.2"/><circle cx="103.8" cy="212.3" r="2.4"/><circle cx="95.7" cy="127.6" r="2.7"/><circle cx="102.1" cy="189.1" r="2.4"/><circle cx="94.5" cy="155.2" r="2.7"/><circle cx="91.8" cy="132.0" r="2.8"/><circle cx="108.7" cy="152.1" r="2.1"/><circle cx="97.7" cy="166.9" r="2.6"/><circle cx="111.2" cy="210.5" r="2.0"/><circle cx="107.7" cy="197.2" r="2.2"/><circle cx="102.7" cy="108.1" r="2.4"/><circle cx="106.1" cy="117.3" r="2.3"/><circle cx="110.2" cy="220.4" r="2.0"/><circle cx="105.3" cy="175.1" r="2.3"/><circle cx="109.8" cy="180.8" r="2.1"/><circle cx="99.8" cy="152.5" r="2.5"/><circle cx="106.6" cy="204.0" r="2.2"/><circle cx="108.2" cy="175.1" r="2.2"/><circle cx="99.2" cy="178.9" r="2.6"/><circle cx="102.6" cy="140.7" r="2.4"/><circle cx="112.2" cy="198.3" r="1.9"/><circle cx="94.1" cy="136.6" r="2.7"/><circle cx="107.0" cy="127.6" r="2.2"/><circle cx="106.7" cy="179.4" r="2.2"/><circle cx="109.4" cy="204.1" r="2.1"/><circle cx="108.4" cy="145.8" r="2.1"/><circle cx="104.0" cy="146.8" r="2.4"/><circle cx="106.0" cy="129.0" r="2.3"/><circle cx="107.8" cy="180.1" r="2.2"/><circle cx="102.8" cy="197.7" r="2.4"/><circle cx="106.1" cy="126.2" r="2.3"/><circle cx="110.0" cy="172.7" r="2.0"/><circle cx="107.8" cy="173.2" r="2.2"/><circle cx="104.3" cy="123.9" r="2.4"/><circle cx="107.9" cy="172.2" r="2.2"/><circle cx="99.7" cy="143.3" r="2.5"/><circle cx="92.6" cy="134.9" r="2.8"/><circle cx="109.5" cy="219.6" r="2.1"/><circle cx="98.5" cy="121.9" r="2.6"/><circle cx="96.8" cy="151.5" r="2.7"/><circle cx="101.7" cy="181.7" r="2.5"/><circle cx="97.1" cy="158.4" r="2.6"/><circle cx="103.3" cy="111.1" r="2.4"/><circle cx="103.2" cy="207.5" r="2.4"/><circle cx="100.8" cy="139.6" r="2.5"/><circle cx="98.2" cy="159.2" r="2.6"/><circle cx="104.3" cy="211.8" r="2.4"/><circle cx="113.3" cy="218.0" r="1.8"/><circle cx="103.3" cy="212.5" r="2.4"/><circle cx="109.1" cy="159.1" r="2.1"/><circle cx="106.1" cy="195.0" r="2.3"/><circle cx="104.9" cy="205.7" r="2.3"/><circle cx="96.7" cy="134.7" r="2.7"/><circle cx="113.4" cy="218.0" r="1.8"/><circle cx="99.7" cy="123.3" r="2.5"/><circle cx="106.4" cy="185.9" r="2.3"/><circle cx="108.2" cy="139.5" r="2.2"/><circle cx="103.8" cy="136.7" r="2.4"/><circle cx="99.8" cy="127.6" r="2.5"/><circle cx="112.8" cy="215.2" r="1.8"/><circle cx="97.2" cy="126.5" r="2.6"/><circle cx="113.1" cy="212.2" r="1.8"/><circle cx="105.1" cy="131.0" r="2.3"/><circle cx="104.1" cy="149.9" r="2.4"/><circle cx="107.7" cy="136.3" r="2.2"/><circle cx="102.4" cy="219.8" r="2.4"/><circle cx="92.7" cy="122.2" r="2.8"/><circle cx="101.9" cy="207.0" r="2.5"/><circle cx="103.9" cy="146.6" r="2.4"/><circle cx="110.6" cy="216.2" r="2.0"/><circle cx="102.3" cy="195.6" r="2.4"/><circle cx="107.6" cy="142.4" r="2.2"/><circle cx="110.0" cy="170.0" r="2.0"/><circle cx="90.3" cy="130.4" r="2.9"/><circle cx="97.2" cy="158.6" r="2.6"/><circle cx="102.9" cy="112.6" r="2.4"/><circle cx="110.4" cy="188.4" r="2.0"/><circle cx="103.9" cy="179.0" r="2.4"/><circle cx="106.3" cy="143.3" r="2.3"/><circle cx="105.3" cy="110.2" r="2.3"/><circle cx="113.6" cy="214.9" r="1.8"/><circle cx="103.0" cy="126.1" r="2.4"/><circle cx="105.2" cy="149.7" r="2.3"/><circle cx="103.6" cy="112.4" r="2.4"/><circle cx="92.1" cy="156.0" r="2.8"/><circle cx="98.5" cy="158.0" r="2.6"/><circle cx="106.7" cy="172.6" r="2.2"/><circle cx="97.5" cy="149.2" r="2.6"/><circle cx="98.1" cy="140.8" r="2.6"/><circle cx="105.1" cy="199.3" r="2.3"/><circle cx="105.3" cy="144.1" r="2.3"/><circle cx="106.1" cy="150.2" r="2.3"/><circle cx="103.8" cy="167.9" r="2.4"/><circle cx="104.7" cy="143.5" r="2.3"/><circle cx="96.7" cy="193.1" r="2.7"/><circle cx="99.8" cy="121.1" r="2.5"/><circle cx="92.5" cy="149.2" r="2.8"/><circle cx="107.3" cy="160.2" r="2.2"/><circle cx="104.0" cy="141.7" r="2.4"/><circle cx="96.0" cy="204.8" r="2.7"/><circle cx="105.9" cy="152.7" r="2.3"/><circle cx="100.1" cy="160.1" r="2.5"/><circle cx="95.4" cy="165.5" r="2.7"/><circle cx="102.7" cy="203.8" r="2.4"/><circle cx="98.3" cy="137.2" r="2.6"/><circle cx="107.7" cy="203.7" r="2.2"/><circle cx="113.2" cy="215.8" r="1.8"/><circle cx="99.1" cy="142.7" r="2.6"/><circle cx="107.4" cy="131.4" r="2.2"/><circle cx="101.2" cy="199.6" r="2.5"/><circle cx="107.2" cy="148.0" r="2.2"/><circle cx="108.4" cy="138.2" r="2.1"/><circle cx="94.7" cy="120.3" r="2.7"/><circle cx="102.5" cy="181.2" r="2.4"/><circle cx="113.0" cy="214.7" r="1.8"/><circle cx="99.6" cy="209.1" r="2.6"/><circle cx="100.7" cy="178.5" r="2.5"/><circle cx="96.9" cy="162.1" r="2.7"/><circle cx="111.1" cy="218.6" r="2.0"/><circle cx="111.4" cy="186.2" r="2.0"/><circle cx="113.5" cy="216.6" r="1.8"/><circle cx="110.9" cy="189.1" r="2.0"/><circle cx="100.7" cy="190.0" r="2.5"/><circle cx="104.1" cy="190.4" r="2.4"/><circle cx="96.4" cy="126.2" r="2.7"/><circle cx="99.7" cy="141.1" r="2.5"/><circle cx="105.2" cy="118.6" r="2.3"/><circle cx="111.1" cy="214.2" r="2.0"/><circle cx="102.1" cy="220.5" r="2.5"/><circle cx="104.5" cy="180.3" r="2.3"/><circle cx="97.6" cy="129.8" r="2.6"/><circle cx="98.9" cy="126.1" r="2.6"/><circle cx="105.6" cy="163.0" r="2.3"/><circle cx="106.5" cy="156.8" r="2.3"/><circle cx="97.8" cy="134.5" r="2.6"/><circle cx="90.5" cy="121.7" r="2.9"/><circle cx="106.1" cy="184.8" r="2.3"/><circle cx="111.8" cy="200.0" r="1.9"/><circle cx="103.9" cy="118.2" r="2.4"/><circle cx="108.1" cy="147.6" r="2.2"/><circle cx="89.0" cy="146.6" r="2.9"/><circle cx="98.0" cy="173.5" r="2.6"/><circle cx="107.4" cy="180.2" r="2.2"/><circle cx="92.5" cy="159.0" r="2.8"/><circle cx="102.0" cy="207.5" r="2.5"/><circle cx="100.1" cy="156.8" r="2.5"/><circle cx="97.2" cy="146.9" r="2.6"/><circle cx="111.5" cy="197.3" r="1.9"/><circle cx="111.8" cy="205.1" r="1.9"/><circle cx="108.6" cy="208.7" r="2.1"/><circle cx="95.7" cy="131.4" r="2.7"/><circle cx="98.4" cy="134.6" r="2.6"/><circle cx="100.9" cy="164.8" r="2.5"/><circle cx="113.5" cy="217.8" r="1.8"/><circle cx="96.8" cy="181.9" r="2.7"/><circle cx="102.0" cy="182.2" r="2.5"/><circle cx="96.0" cy="149.6" r="2.7"/><circle cx="111.9" cy="220.1" r="1.9"/><circle cx="99.8" cy="133.0" r="2.5"/><circle cx="100.5" cy="175.3" r="2.5"/><circle cx="100.5" cy="187.7" r="2.5"/><circle cx="111.5" cy="201.8" r="1.9"/><circle cx="102.5" cy="202.1" r="2.4"/><circle cx="95.1" cy="156.3" r="2.7"/><circle cx="106.4" cy="143.2" r="2.3"/><circle cx="100.1" cy="219.0" r="2.5"/><circle cx="107.1" cy="174.7" r="2.2"/><circle cx="88.9" cy="144.5" r="2.9"/><circle cx="103.8" cy="127.7" r="2.4"/><circle cx="101.3" cy="201.1" r="2.5"/><circle cx="104.1" cy="205.7" r="2.4"/><circle cx="108.9" cy="176.5" r="2.1"/><circle cx="105.9" cy="156.1" r="2.3"/><circle cx="99.5" cy="186.1" r="2.6"/><circle cx="105.9" cy="219.0" r="2.3"/><circle cx="109.7" cy="177.4" r="2.1"/><circle cx="105.2" cy="199.4" r="2.3"/><circle cx="104.0" cy="209.1" r="2.4"/><circle cx="107.7" cy="196.3" r="2.2"/><circle cx="109.1" cy="167.4" r="2.1"/><circle cx="102.6" cy="132.4" r="2.4"/><circle cx="94.0" cy="190.0" r="2.8"/><circle cx="110.0" cy="204.0" r="2.0"/><circle cx="104.8" cy="217.3" r="2.3"/><circle cx="99.4" cy="129.4" r="2.6"/><circle cx="104.4" cy="124.8" r="2.4"/><circle cx="107.3" cy="183.6" r="2.2"/><circle cx="110.5" cy="203.5" r="2.0"/><circle cx="102.9" cy="120.1" r="2.4"/><circle cx="105.8" cy="181.2" r="2.3"/><circle cx="104.6" cy="142.7" r="2.3"/><circle cx="105.7" cy="220.9" r="2.3"/><circle cx="101.6" cy="153.5" r="2.5"/><circle cx="94.2" cy="120.8" r="2.7"/><circle cx="96.8" cy="199.0" r="2.7"/><circle cx="99.2" cy="146.6" r="2.6"/><circle cx="98.9" cy="160.0" r="2.6"/><circle cx="98.2" cy="126.8" r="2.6"/><circle cx="97.3" cy="150.1" r="2.6"/><circle cx="92.0" cy="127.1" r="2.8"/><circle cx="103.3" cy="141.7" r="2.4"/><circle cx="107.1" cy="177.4" r="2.2"/><circle cx="94.2" cy="146.4" r="2.7"/><circle cx="105.0" cy="186.9" r="2.3"/><circle cx="108.4" cy="211.1" r="2.1"/><circle cx="108.8" cy="177.2" r="2.1"/><circle cx="95.6" cy="113.0" r="2.7"/><circle cx="103.2" cy="217.0" r="2.4"/><circle cx="101.2" cy="134.7" r="2.5"/><circle cx="97.5" cy="151.8" r="2.6"/><circle cx="92.2" cy="171.8" r="2.8"/><circle cx="106.0" cy="181.7" r="2.3"/><circle cx="101.3" cy="151.3" r="2.5"/><circle cx="95.0" cy="162.3" r="2.7"/><circle cx="99.3" cy="182.6" r="2.6"/><circle cx="101.9" cy="164.2" r="2.5"/><circle cx="96.1" cy="144.6" r="2.7"/><circle cx="108.6" cy="159.0" r="2.1"/><circle cx="109.6" cy="156.1" r="2.1"/><circle cx="107.7" cy="145.6" r="2.2"/><circle cx="104.5" cy="179.8" r="2.3"/><circle cx="104.8" cy="170.2" r="2.3"/><circle cx="89.3" cy="159.1" r="2.9"/><circle cx="110.0" cy="191.3" r="2.0"/><circle cx="101.0" cy="202.0" r="2.5"/><circle cx="103.8" cy="184.9" r="2.4"/><circle cx="96.0" cy="151.2" r="2.7"/><circle cx="109.4" cy="214.7" r="2.1"/><circle cx="98.5" cy="123.6" r="2.6"/><circle cx="112.7" cy="201.3" r="1.8"/><circle cx="102.5" cy="160.2" r="2.4"/><circle cx="104.4" cy="157.5" r="2.4"/><circle cx="109.6" cy="205.2" r="2.1"/><circle cx="107.0" cy="185.6" r="2.2"/><circle cx="109.7" cy="218.4" r="2.1"/><circle cx="106.8" cy="208.7" r="2.2"/><circle cx="101.4" cy="125.1" r="2.5"/><circle cx="99.3" cy="169.2" r="2.6"/><circle cx="100.6" cy="197.4" r="2.5"/><circle cx="95.4" cy="120.9" r="2.7"/><circle cx="106.6" cy="173.5" r="2.2"/><circle cx="108.7" cy="220.3" r="2.1"/><circle cx="102.1" cy="139.5" r="2.4"/><circle cx="105.1" cy="125.2" r="2.3"/><circle cx="103.9" cy="145.3" r="2.4"/><circle cx="105.8" cy="151.6" r="2.3"/><circle cx="100.7" cy="144.9" r="2.5"/><circle cx="108.8" cy="161.4" r="2.1"/><circle cx="105.3" cy="204.2" r="2.3"/><circle cx="104.2" cy="170.8" r="2.4"/><circle cx="110.8" cy="178.6" r="2.0"/><circle cx="104.5" cy="124.2" r="2.3"/><circle cx="94.9" cy="118.5" r="2.7"/><circle cx="113.2" cy="216.1" r="1.8"/><circle cx="100.2" cy="151.9" r="2.5"/><circle cx="105.8" cy="215.7" r="2.3"/><circle cx="107.2" cy="150.6" r="2.2"/><circle cx="105.3" cy="184.0" r="2.3"/><circle cx="108.4" cy="186.3" r="2.1"/><circle cx="101.3" cy="121.8" r="2.5"/><circle cx="98.3" cy="119.3" r="2.6"/><circle cx="106.2" cy="162.5" r="2.3"/><circle cx="106.3" cy="126.4" r="2.3"/><circle cx="107.0" cy="146.1" r="2.2"/><circle cx="99.8" cy="134.5" r="2.5"/><circle cx="108.2" cy="148.0" r="2.2"/><circle cx="101.9" cy="164.1" r="2.5"/><circle cx="96.5" cy="147.8" r="2.7"/><circle cx="97.2" cy="150.6" r="2.6"/><circle cx="100.0" cy="167.4" r="2.5"/><circle cx="111.6" cy="188.5" r="1.9"/><circle cx="102.7" cy="115.1" r="2.4"/><circle cx="112.0" cy="220.8" r="1.9"/><circle cx="101.8" cy="161.3" r="2.5"/><circle cx="111.8" cy="213.3" r="1.9"/><circle cx="104.8" cy="108.7" r="2.3"/><circle cx="97.1" cy="117.4" r="2.6"/><circle cx="106.6" cy="123.0" r="2.2"/><circle cx="103.3" cy="212.3" r="2.4"/><circle cx="108.7" cy="159.2" r="2.1"/><circle cx="108.4" cy="205.5" r="2.1"/><circle cx="94.3" cy="189.8" r="2.7"/><circle cx="102.2" cy="121.6" r="2.4"/><circle cx="98.3" cy="153.5" r="2.6"/><circle cx="103.3" cy="150.1" r="2.4"/><circle cx="97.0" cy="163.7" r="2.6"/><circle cx="107.8" cy="196.0" r="2.2"/><circle cx="105.2" cy="121.0" r="2.3"/><circle cx="112.0" cy="213.6" r="1.9"/><circle cx="100.5" cy="166.3" r="2.5"/><circle cx="100.6" cy="154.0" r="2.5"/><circle cx="97.2" cy="190.1" r="2.6"/><circle cx="96.5" cy="143.9" r="2.7"/><circle cx="94.0" cy="191.6" r="2.8"/><circle cx="107.9" cy="159.6" r="2.2"/><circle cx="107.7" cy="166.5" r="2.2"/><circle cx="107.3" cy="133.7" r="2.2"/><circle cx="103.8" cy="135.4" r="2.4"/><circle cx="102.9" cy="207.0" r="2.4"/><circle cx="108.6" cy="177.2" r="2.1"/><circle cx="102.8" cy="160.3" r="2.4"/><circle cx="111.9" cy="198.2" r="1.9"/><circle cx="105.2" cy="212.2" r="2.3"/><circle cx="107.0" cy="130.2" r="2.2"/><circle cx="106.8" cy="220.8" r="2.2"/><circle cx="101.8" cy="110.4" r="2.5"/><circle cx="108.3" cy="181.2" r="2.2"/><circle cx="98.2" cy="142.4" r="2.6"/><circle cx="103.5" cy="141.0" r="2.4"/><circle cx="102.3" cy="168.3" r="2.4"/><circle cx="102.8" cy="180.2" r="2.4"/><circle cx="105.6" cy="161.9" r="2.3"/><circle cx="105.9" cy="191.8" r="2.3"/><circle cx="104.9" cy="216.0" r="2.3"/><circle cx="89.9" cy="131.3" r="2.9"/><circle cx="100.2" cy="139.4" r="2.5"/><circle cx="97.6" cy="180.8" r="2.6"/><circle cx="92.8" cy="159.0" r="2.8"/><circle cx="94.4" cy="148.3" r="2.7"/><circle cx="104.4" cy="169.4" r="2.4"/><circle cx="100.2" cy="190.0" r="2.5"/><circle cx="101.1" cy="211.8" r="2.5"/><circle cx="106.2" cy="215.1" r="2.3"/><circle cx="112.9" cy="202.8" r="1.8"/><circle cx="98.9" cy="151.8" r="2.6"/><circle cx="112.6" cy="209.3" r="1.9"/><circle cx="102.2" cy="191.4" r="2.4"/><circle cx="108.0" cy="132.0" r="2.2"/><circle cx="109.4" cy="216.3" r="2.1"/><circle cx="94.1" cy="140.5" r="2.7"/><circle cx="92.7" cy="188.5" r="2.8"/><circle cx="109.2" cy="189.8" r="2.1"/><circle cx="99.4" cy="211.8" r="2.6"/><circle cx="102.8" cy="186.8" r="2.4"/><circle cx="102.2" cy="219.3" r="2.4"/><circle cx="101.3" cy="117.7" r="2.5"/><circle cx="104.8" cy="114.4" r="2.3"/><circle cx="101.4" cy="134.5" r="2.5"/><circle cx="106.4" cy="177.1" r="2.3"/><circle cx="104.9" cy="160.5" r="2.3"/><circle cx="103.9" cy="120.9" r="2.4"/><circle cx="105.7" cy="135.2" r="2.3"/><circle cx="110.2" cy="177.5" r="2.0"/><circle cx="97.8" cy="158.1" r="2.6"/><circle cx="112.3" cy="197.0" r="1.9"/><circle cx="101.3" cy="165.3" r="2.5"/><circle cx="108.5" cy="208.7" r="2.1"/><circle cx="103.0" cy="196.5" r="2.4"/><circle cx="101.5" cy="168.3" r="2.5"/><circle cx="101.8" cy="153.1" r="2.5"/><circle cx="97.2" cy="136.6" r="2.6"/><circle cx="100.2" cy="145.6" r="2.5"/><circle cx="91.6" cy="152.8" r="2.8"/><circle cx="90.9" cy="153.5" r="2.9"/><circle cx="98.6" cy="132.5" r="2.6"/><circle cx="105.0" cy="166.0" r="2.3"/><circle cx="101.9" cy="124.6" r="2.5"/><circle cx="112.2" cy="207.8" r="1.9"/><circle cx="99.8" cy="174.4" r="2.5"/><circle cx="100.1" cy="122.5" r="2.5"/><circle cx="96.4" cy="149.7" r="2.7"/><circle cx="107.6" cy="141.4" r="2.2"/><circle cx="106.6" cy="129.8" r="2.2"/><circle cx="100.3" cy="166.8" r="2.5"/><circle cx="98.2" cy="133.0" r="2.6"/><circle cx="107.3" cy="129.3" r="2.2"/><circle cx="111.5" cy="190.6" r="1.9"/><circle cx="104.8" cy="161.1" r="2.3"/><circle cx="106.6" cy="187.4" r="2.2"/><circle cx="109.2" cy="165.6" r="2.1"/><circle cx="108.6" cy="169.3" r="2.1"/><circle cx="106.0" cy="147.8" r="2.3"/><circle cx="109.6" cy="160.8" r="2.1"/><circle cx="107.8" cy="166.8" r="2.2"/><circle cx="109.0" cy="151.4" r="2.1"/><circle cx="107.7" cy="203.4" r="2.2"/><circle cx="97.4" cy="140.4" r="2.6"/><circle cx="98.9" cy="137.4" r="2.6"/><circle cx="99.8" cy="151.6" r="2.5"/><circle cx="105.9" cy="199.2" r="2.3"/><circle cx="110.5" cy="205.6" r="2.0"/><circle cx="109.9" cy="176.0" r="2.1"/><circle cx="106.5" cy="153.4" r="2.2"/><circle cx="95.1" cy="184.9" r="2.7"/><circle cx="104.9" cy="203.5" r="2.3"/><circle cx="99.4" cy="140.0" r="2.6"/><circle cx="100.5" cy="186.9" r="2.5"/><circle cx="99.9" cy="191.4" r="2.5"/><circle cx="105.8" cy="156.8" r="2.3"/><circle cx="97.6" cy="128.5" r="2.6"/><circle cx="101.4" cy="180.5" r="2.5"/><circle cx="104.6" cy="136.2" r="2.3"/><circle cx="104.9" cy="154.3" r="2.3"/><circle cx="107.9" cy="173.7" r="2.2"/><circle cx="108.1" cy="217.3" r="2.2"/><circle cx="93.9" cy="128.7" r="2.8"/><circle cx="105.6" cy="119.7" r="2.3"/><circle cx="108.6" cy="173.1" r="2.1"/><circle cx="110.5" cy="215.3" r="2.0"/><circle cx="105.4" cy="115.8" r="2.3"/><circle cx="109.2" cy="184.2" r="2.1"/><circle cx="100.4" cy="112.7" r="2.5"/><circle cx="105.9" cy="174.5" r="2.3"/><circle cx="100.9" cy="125.4" r="2.5"/><circle cx="106.8" cy="186.0" r="2.2"/><circle cx="88.2" cy="153.5" r="2.9"/><circle cx="109.4" cy="185.5" r="2.1"/><circle cx="96.9" cy="141.8" r="2.7"/><circle cx="104.2" cy="119.9" r="2.4"/><circle cx="102.1" cy="132.9" r="2.5"/><circle cx="104.6" cy="143.6" r="2.3"/><circle cx="101.7" cy="130.9" r="2.5"/><circle cx="104.1" cy="134.8" r="2.4"/><circle cx="105.7" cy="173.7" r="2.3"/><circle cx="107.4" cy="162.0" r="2.2"/><circle cx="97.5" cy="203.3" r="2.6"/><circle cx="105.9" cy="168.6" r="2.3"/><circle cx="104.4" cy="173.2" r="2.4"/><circle cx="110.3" cy="191.4" r="2.0"/><circle cx="110.0" cy="206.2" r="2.0"/><circle cx="104.8" cy="178.1" r="2.3"/><circle cx="101.3" cy="114.3" r="2.5"/><circle cx="101.8" cy="164.4" r="2.5"/><circle cx="103.4" cy="113.6" r="2.4"/><circle cx="101.0" cy="180.2" r="2.5"/><circle cx="99.2" cy="118.5" r="2.6"/><circle cx="106.5" cy="173.2" r="2.2"/><circle cx="105.1" cy="129.1" r="2.3"/><circle cx="104.6" cy="206.4" r="2.3"/><circle cx="102.9" cy="122.4" r="2.4"/><circle cx="99.2" cy="186.1" r="2.6"/><circle cx="111.8" cy="190.7" r="1.9"/><circle cx="100.6" cy="143.7" r="2.5"/><circle cx="105.7" cy="179.0" r="2.3"/><circle cx="106.0" cy="150.0" r="2.3"/><circle cx="92.5" cy="141.8" r="2.8"/><circle cx="96.8" cy="141.9" r="2.7"/><circle cx="97.9" cy="110.7" r="2.6"/><circle cx="109.9" cy="187.5" r="2.1"/><circle cx="105.7" cy="119.4" r="2.3"/><circle cx="107.3" cy="134.6" r="2.2"/><circle cx="103.9" cy="121.5" r="2.4"/><circle cx="99.5" cy="201.2" r="2.6"/><circle cx="108.0" cy="172.1" r="2.2"/><circle cx="108.3" cy="165.3" r="2.1"/><circle cx="99.7" cy="177.9" r="2.5"/><circle cx="103.9" cy="201.6" r="2.4"/><circle cx="111.2" cy="182.3" r="2.0"/><circle cx="101.6" cy="170.4" r="2.5"/><circle cx="106.3" cy="148.0" r="2.3"/><circle cx="105.9" cy="170.7" r="2.3"/><circle cx="113.2" cy="219.7" r="1.8"/><circle cx="93.2" cy="176.5" r="2.8"/><circle cx="100.7" cy="166.4" r="2.5"/><circle cx="110.8" cy="209.8" r="2.0"/><circle cx="103.3" cy="117.0" r="2.4"/><circle cx="100.3" cy="118.2" r="2.5"/><circle cx="102.0" cy="199.7" r="2.5"/><circle cx="97.8" cy="215.2" r="2.6"/><circle cx="104.7" cy="116.5" r="2.3"/><circle cx="103.1" cy="112.2" r="2.4"/><circle cx="103.8" cy="109.4" r="2.4"/><circle cx="98.6" cy="177.3" r="2.6"/><circle cx="103.3" cy="127.7" r="2.4"/><circle cx="105.1" cy="175.6" r="2.3"/><circle cx="104.1" cy="186.5" r="2.4"/><circle cx="102.1" cy="110.7" r="2.5"/><circle cx="108.6" cy="207.9" r="2.1"/><circle cx="108.7" cy="141.1" r="2.1"/><circle cx="99.7" cy="174.8" r="2.5"/><circle cx="107.6" cy="152.6" r="2.2"/><circle cx="88.0" cy="151.5" r="2.9"/><circle cx="105.7" cy="158.2" r="2.3"/><circle cx="102.6" cy="107.6" r="2.4"/><circle cx="95.5" cy="161.1" r="2.7"/><circle cx="101.5" cy="142.5" r="2.5"/><circle cx="102.9" cy="153.1" r="2.4"/><circle cx="106.8" cy="130.6" r="2.2"/><circle cx="104.8" cy="150.5" r="2.3"/><circle cx="97.5" cy="190.3" r="2.6"/><circle cx="111.6" cy="219.4" r="1.9"/><circle cx="94.6" cy="134.7" r="2.7"/><circle cx="103.6" cy="207.6" r="2.4"/><circle cx="110.7" cy="181.3" r="2.0"/><circle cx="102.7" cy="123.2" r="2.4"/><circle cx="103.1" cy="110.5" r="2.4"/><circle cx="107.7" cy="209.3" r="2.2"/><circle cx="91.6" cy="139.0" r="2.8"/><circle cx="107.7" cy="123.9" r="2.2"/><circle cx="109.8" cy="185.6" r="2.1"/><circle cx="100.9" cy="191.0" r="2.5"/><circle cx="111.8" cy="210.5" r="1.9"/><circle cx="109.2" cy="168.9" r="2.1"/><circle cx="106.2" cy="147.9" r="2.3"/><circle cx="92.2" cy="148.6" r="2.8"/><circle cx="106.4" cy="135.5" r="2.3"/><circle cx="101.5" cy="183.5" r="2.5"/><circle cx="109.4" cy="215.2" r="2.1"/><circle cx="101.2" cy="121.2" r="2.5"/><circle cx="88.7" cy="156.4" r="2.9"/><circle cx="100.9" cy="152.4" r="2.5"/><circle cx="96.0" cy="120.6" r="2.7"/><circle cx="104.2" cy="179.2" r="2.4"/><circle cx="103.3" cy="219.3" r="2.4"/><circle cx="97.9" cy="143.9" r="2.6"/><circle cx="106.8" cy="193.2" r="2.2"/><circle cx="108.4" cy="211.0" r="2.1"/><circle cx="108.9" cy="143.2" r="2.1"/><circle cx="110.7" cy="212.9" r="2.0"/><circle cx="101.0" cy="195.4" r="2.5"/><circle cx="104.1" cy="184.6" r="2.4"/><circle cx="94.6" cy="134.3" r="2.7"/><circle cx="100.2" cy="144.0" r="2.5"/><circle cx="98.1" cy="123.3" r="2.6"/><circle cx="107.1" cy="210.5" r="2.2"/><circle cx="103.3" cy="201.7" r="2.4"/><circle cx="102.0" cy="121.4" r="2.5"/><circle cx="105.1" cy="172.3" r="2.3"/><circle cx="97.4" cy="136.5" r="2.6"/><circle cx="111.5" cy="197.2" r="1.9"/><circle cx="92.8" cy="176.8" r="2.8"/><circle cx="104.2" cy="215.5" r="2.4"/><circle cx="105.3" cy="193.2" r="2.3"/><circle cx="102.4" cy="123.2" r="2.4"/><circle cx="103.1" cy="154.8" r="2.4"/><circle cx="104.0" cy="177.2" r="2.4"/><circle cx="110.8" cy="212.2" r="2.0"/><circle cx="96.7" cy="154.6" r="2.7"/><circle cx="96.0" cy="133.6" r="2.7"/><circle cx="94.8" cy="144.6" r="2.7"/><circle cx="92.8" cy="140.6" r="2.8"/><circle cx="99.3" cy="129.6" r="2.6"/><circle cx="89.4" cy="151.5" r="2.9"/><circle cx="98.2" cy="140.7" r="2.6"/><circle cx="103.2" cy="170.0" r="2.4"/><circle cx="112.7" cy="210.4" r="1.8"/><circle cx="112.5" cy="216.4" r="1.9"/><circle cx="97.1" cy="130.2" r="2.6"/><circle cx="108.0" cy="176.4" r="2.2"/><circle cx="101.5" cy="187.6" r="2.5"/><circle cx="106.1" cy="129.4" r="2.3"/><circle cx="99.2" cy="172.4" r="2.6"/><circle cx="92.7" cy="135.0" r="2.8"/><circle cx="108.9" cy="153.8" r="2.1"/><circle cx="97.7" cy="149.3" r="2.6"/><circle cx="106.1" cy="202.3" r="2.3"/><circle cx="94.9" cy="139.0" r="2.7"/><circle cx="106.3" cy="173.3" r="2.3"/><circle cx="94.2" cy="178.2" r="2.7"/><circle cx="94.3" cy="149.9" r="2.7"/><circle cx="105.6" cy="213.9" r="2.3"/><circle cx="93.6" cy="150.2" r="2.8"/><circle cx="107.9" cy="149.5" r="2.2"/><circle cx="109.6" cy="189.6" r="2.1"/><circle cx="110.0" cy="167.6" r="2.1"/><circle cx="110.5" cy="192.9" r="2.0"/><circle cx="107.9" cy="129.4" r="2.2"/><circle cx="103.1" cy="128.9" r="2.4"/><circle cx="103.2" cy="194.1" r="2.4"/><circle cx="94.7" cy="156.6" r="2.7"/><circle cx="111.0" cy="206.6" r="2.0"/><circle cx="93.8" cy="138.9" r="2.8"/><circle cx="92.9" cy="139.7" r="2.8"/><circle cx="105.2" cy="207.2" r="2.3"/><circle cx="99.4" cy="153.5" r="2.6"/><circle cx="101.3" cy="124.3" r="2.5"/><circle cx="105.9" cy="137.4" r="2.3"/><circle cx="98.0" cy="197.6" r="2.6"/><circle cx="108.4" cy="142.6" r="2.1"/><circle cx="105.4" cy="175.0" r="2.3"/><circle cx="102.8" cy="204.3" r="2.4"/><circle cx="108.1" cy="180.8" r="2.2"/><circle cx="101.1" cy="195.8" r="2.5"/><circle cx="112.0" cy="218.7" r="1.9"/><circle cx="102.4" cy="146.5" r="2.4"/><circle cx="109.5" cy="208.6" r="2.1"/><circle cx="108.6" cy="174.5" r="2.1"/><circle cx="88.6" cy="135.2" r="2.9"/><circle cx="98.4" cy="127.0" r="2.6"/><circle cx="94.1" cy="149.7" r="2.7"/><circle cx="108.1" cy="127.6" r="2.2"/><circle cx="105.0" cy="197.8" r="2.3"/><circle cx="107.1" cy="175.1" r="2.2"/><circle cx="97.3" cy="115.5" r="2.6"/><circle cx="103.8" cy="208.8" r="2.4"/><circle cx="110.5" cy="179.3" r="2.0"/><circle cx="105.7" cy="162.6" r="2.3"/><circle cx="105.6" cy="128.0" r="2.3"/><circle cx="96.0" cy="165.6" r="2.7"/><circle cx="105.5" cy="212.7" r="2.3"/><circle cx="109.6" cy="178.1" r="2.1"/><circle cx="105.2" cy="164.4" r="2.3"/><circle cx="91.6" cy="180.6" r="2.8"/><circle cx="99.4" cy="174.4" r="2.6"/><circle cx="103.7" cy="182.3" r="2.4"/><circle cx="105.6" cy="134.9" r="2.3"/><circle cx="95.8" cy="128.9" r="2.7"/><circle cx="104.7" cy="110.0" r="2.3"/><circle cx="103.8" cy="204.0" r="2.4"/><circle cx="105.0" cy="107.4" r="2.3"/><circle cx="97.1" cy="141.5" r="2.6"/><circle cx="100.3" cy="178.2" r="2.5"/><circle cx="104.4" cy="168.9" r="2.3"/><circle cx="107.0" cy="211.1" r="2.2"/><circle cx="101.5" cy="136.5" r="2.5"/><circle cx="107.1" cy="124.8" r="2.2"/><circle cx="107.2" cy="130.3" r="2.2"/><circle cx="104.9" cy="168.7" r="2.3"/><circle cx="109.0" cy="145.5" r="2.1"/><circle cx="107.1" cy="164.0" r="2.2"/><circle cx="106.4" cy="189.1" r="2.3"/><circle cx="99.4" cy="149.0" r="2.6"/><circle cx="103.9" cy="186.7" r="2.4"/><circle cx="104.8" cy="111.4" r="2.3"/><circle cx="99.3" cy="173.9" r="2.6"/><circle cx="103.6" cy="211.7" r="2.4"/><circle cx="105.8" cy="214.4" r="2.3"/><circle cx="100.5" cy="176.7" r="2.5"/><circle cx="111.6" cy="219.3" r="1.9"/><circle cx="96.1" cy="139.1" r="2.7"/><circle cx="100.0" cy="146.3" r="2.5"/><circle cx="107.2" cy="163.2" r="2.2"/><circle cx="100.1" cy="169.9" r="2.5"/><circle cx="104.0" cy="202.8" r="2.4"/><circle cx="101.2" cy="163.1" r="2.5"/><circle cx="102.3" cy="116.0" r="2.4"/><circle cx="100.6" cy="190.3" r="2.5"/><circle cx="97.8" cy="137.6" r="2.6"/><circle cx="105.6" cy="209.2" r="2.3"/><circle cx="107.7" cy="136.4" r="2.2"/><circle cx="105.5" cy="146.1" r="2.3"/><circle cx="95.0" cy="127.6" r="2.7"/><circle cx="99.3" cy="146.8" r="2.6"/><circle cx="109.0" cy="179.8" r="2.1"/><circle cx="100.1" cy="142.8" r="2.5"/><circle cx="100.9" cy="116.1" r="2.5"/><circle cx="99.6" cy="178.3" r="2.6"/><circle cx="93.0" cy="194.0" r="2.8"/><circle cx="104.1" cy="124.2" r="2.4"/><circle cx="107.3" cy="160.5" r="2.2"/><circle cx="103.7" cy="118.9" r="2.4"/><circle cx="102.9" cy="110.9" r="2.4"/><circle cx="93.4" cy="155.0" r="2.8"/><circle cx="98.6" cy="145.0" r="2.6"/><circle cx="103.6" cy="208.5" r="2.4"/><circle cx="105.7" cy="110.2" r="2.3"/><circle cx="107.9" cy="184.7" r="2.2"/><circle cx="104.3" cy="193.9" r="2.4"/><circle cx="108.8" cy="159.7" r="2.1"/><circle cx="107.8" cy="169.0" r="2.2"/><circle cx="97.3" cy="140.5" r="2.6"/><circle cx="98.5" cy="141.1" r="2.6"/><circle cx="105.7" cy="116.8" r="2.3"/><circle cx="112.1" cy="211.5" r="1.9"/><circle cx="99.3" cy="113.0" r="2.6"/><circle cx="102.0" cy="127.6" r="2.5"/><circle cx="107.5" cy="192.9" r="2.2"/><circle cx="99.0" cy="164.2" r="2.6"/><circle cx="100.3" cy="170.2" r="2.5"/><circle cx="88.8" cy="145.9" r="2.9"/><circle cx="97.1" cy="191.4" r="2.6"/><circle cx="93.3" cy="159.0" r="2.8"/><circle cx="93.6" cy="136.8" r="2.8"/><circle cx="95.6" cy="163.1" r="2.7"/><circle cx="99.2" cy="109.8" r="2.6"/><circle cx="95.1" cy="123.8" r="2.7"/><circle cx="94.3" cy="122.0" r="2.7"/><circle cx="95.0" cy="183.4" r="2.7"/><circle cx="95.1" cy="185.1" r="2.7"/><circle cx="94.2" cy="136.3" r="2.7"/><circle cx="94.4" cy="143.0" r="2.7"/><circle cx="96.2" cy="191.9" r="2.7"/><circle cx="93.5" cy="151.4" r="2.8"/><circle cx="92.6" cy="147.3" r="2.8"/><circle cx="101.2" cy="211.6" r="2.5"/><circle cx="93.9" cy="167.9" r="2.8"/><circle cx="88.7" cy="167.2" r="2.9"/><circle cx="93.4" cy="174.8" r="2.8"/><circle cx="96.2" cy="113.2" r="2.7"/><circle cx="91.7" cy="152.6" r="2.8"/><circle cx="96.5" cy="193.5" r="2.7"/><circle cx="96.4" cy="179.1" r="2.7"/><circle cx="96.3" cy="204.4" r="2.7"/><circle cx="91.4" cy="143.3" r="2.8"/><circle cx="95.1" cy="160.7" r="2.7"/><circle cx="94.8" cy="135.4" r="2.7"/><circle cx="95.6" cy="130.2" r="2.7"/><circle cx="97.2" cy="119.9" r="2.6"/><circle cx="91.1" cy="131.6" r="2.8"/><circle cx="94.1" cy="127.9" r="2.7"/><circle cx="81.3" cy="156.8" r="3.1"/><circle cx="88.5" cy="153.9" r="2.9"/><circle cx="96.0" cy="191.0" r="2.7"/><circle cx="95.1" cy="192.4" r="2.7"/><circle cx="94.3" cy="167.5" r="2.7"/><circle cx="94.4" cy="179.7" r="2.7"/><circle cx="90.9" cy="159.9" r="2.9"/><circle cx="89.5" cy="143.3" r="2.9"/><circle cx="89.8" cy="163.6" r="2.9"/><circle cx="90.5" cy="177.0" r="2.9"/><circle cx="99.6" cy="213.0" r="2.6"/><circle cx="98.3" cy="196.5" r="2.6"/><circle cx="94.8" cy="116.8" r="2.7"/><circle cx="93.5" cy="177.9" r="2.8"/><circle cx="92.5" cy="119.9" r="2.8"/><circle cx="95.8" cy="176.0" r="2.7"/><circle cx="94.8" cy="199.9" r="2.7"/><circle cx="96.4" cy="184.1" r="2.7"/><circle cx="94.5" cy="123.2" r="2.7"/><circle cx="90.9" cy="155.2" r="2.9"/><circle cx="94.1" cy="131.2" r="2.7"/><circle cx="95.9" cy="180.1" r="2.7"/><circle cx="95.0" cy="185.3" r="2.7"/><circle cx="90.6" cy="188.1" r="2.9"/><circle cx="86.5" cy="148.1" r="3.0"/><circle cx="95.9" cy="173.5" r="2.7"/><circle cx="94.2" cy="132.6" r="2.7"/><circle cx="97.5" cy="209.4" r="2.6"/><circle cx="97.2" cy="210.6" r="2.6"/><circle cx="97.1" cy="111.5" r="2.6"/><circle cx="94.7" cy="169.9" r="2.7"/><circle cx="97.3" cy="186.1" r="2.6"/><circle cx="90.3" cy="135.0" r="2.9"/><circle cx="95.2" cy="112.0" r="2.7"/><circle cx="98.2" cy="106.4" r="2.6"/><circle cx="96.8" cy="184.9" r="2.7"/><circle cx="93.4" cy="108.4" r="2.8"/><circle cx="91.9" cy="151.3" r="2.8"/><circle cx="98.4" cy="194.6" r="2.6"/><circle cx="94.1" cy="114.9" r="2.7"/><circle cx="95.7" cy="184.9" r="2.7"/><circle cx="87.6" cy="156.0" r="3.0"/><circle cx="89.8" cy="151.6" r="2.9"/><circle cx="93.5" cy="161.5" r="2.8"/><circle cx="91.1" cy="147.7" r="2.8"/><circle cx="98.4" cy="201.2" r="2.6"/><circle cx="93.2" cy="181.1" r="2.8"/><circle cx="87.9" cy="151.4" r="2.9"/><circle cx="96.3" cy="123.3" r="2.7"/><circle cx="92.3" cy="163.7" r="2.8"/><circle cx="100.3" cy="220.8" r="2.5"/><circle cx="98.5" cy="204.6" r="2.6"/><circle cx="97.1" cy="117.0" r="2.6"/><circle cx="91.3" cy="148.1" r="2.8"/><circle cx="94.5" cy="160.0" r="2.7"/><circle cx="91.2" cy="153.3" r="2.8"/><circle cx="96.3" cy="122.4" r="2.7"/><circle cx="94.2" cy="130.3" r="2.7"/><circle cx="93.2" cy="166.9" r="2.8"/><circle cx="93.7" cy="186.4" r="2.8"/><circle cx="96.0" cy="39.7" r="2.7"/><circle cx="80.5" cy="68.2" r="3.1"/><circle cx="88.2" cy="70.9" r="2.9"/><circle cx="104.5" cy="70.6" r="2.3"/><circle cx="68.9" cy="82.8" r="3.4"/><circle cx="101.6" cy="79.9" r="2.5"/><circle cx="92.2" cy="82.8" r="2.8"/><circle cx="88.6" cy="85.8" r="2.9"/><circle cx="104.1" cy="86.2" r="2.4"/><circle cx="96.8" cy="90.2" r="2.7"/><circle cx="90.7" cy="92.2" r="2.9"/><circle cx="101.1" cy="95.1" r="2.5"/><circle cx="79.2" cy="98.1" r="3.2"/><circle cx="84.2" cy="99.2" r="3.0"/><circle cx="90.2" cy="98.4" r="2.9"/><circle cx="94.7" cy="98.1" r="2.7"/><circle cx="93.5" cy="99.7" r="2.8"/><circle cx="103.7" cy="101.1" r="2.4"/><circle cx="105.7" cy="100.5" r="2.3"/><circle cx="107.7" cy="101.3" r="2.2"/><circle cx="88.9" cy="105.0" r="2.9"/><circle cx="96.4" cy="105.0" r="2.7"/><circle cx="75.2" cy="111.0" r="3.3"/><circle cx="77.9" cy="113.6" r="3.2"/><circle cx="83.8" cy="114.3" r="3.1"/><circle cx="87.8" cy="114.3" r="2.9"/><circle cx="77.2" cy="118.3" r="3.2"/><circle cx="74.6" cy="125.6" r="3.3"/><circle cx="50.7" cy="128.3" r="3.8"/><circle cx="59.7" cy="128.3" r="3.6"/><circle cx="63.1" cy="134.7" r="3.6"/><circle cx="72.8" cy="136.8" r="3.3"/><circle cx="64.3" cy="142.4" r="3.5"/><circle cx="67.7" cy="143.6" r="3.5"/><circle cx="74.5" cy="143.0" r="3.3"/><circle cx="79.0" cy="144.1" r="3.2"/><circle cx="73.9" cy="149.8" r="3.3"/><circle cx="72.8" cy="157.2" r="3.3"/><circle cx="62.0" cy="158.3" r="3.6"/><circle cx="75.6" cy="110.7" r="3.3"/><circle cx="77.9" cy="118.6" r="3.2"/><circle cx="75.1" cy="126.0" r="3.3"/><circle cx="79.0" cy="130.0" r="3.2"/><circle cx="80.2" cy="135.6" r="3.2"/><circle cx="84.7" cy="114.6" r="3.0"/><circle cx="88.1" cy="115.2" r="2.9"/><circle cx="85.3" cy="124.3" r="3.0"/><circle cx="89.2" cy="127.7" r="2.9"/><circle cx="89.2" cy="106.1" r="2.9"/><circle cx="96.0" cy="106.1" r="2.7"/><circle cx="83.6" cy="142.4" r="3.1"/><circle cx="79.0" cy="159.4" r="3.2"/><circle cx="72.8" cy="169.5" r="3.3"/><circle cx="77.9" cy="167.3" r="3.2"/><circle cx="82.4" cy="176.3" r="3.1"/><circle cx="84.1" cy="178.6" r="3.1"/><circle cx="74.5" cy="187.7" r="3.3"/><circle cx="81.3" cy="191.7" r="3.1"/><circle cx="81.3" cy="195.1" r="3.1"/><circle cx="73.9" cy="203.0" r="3.3"/><circle cx="81.9" cy="202.4" r="3.1"/><circle cx="89.2" cy="183.1" r="2.9"/><circle cx="87.5" cy="171.8" r="3.0"/><circle cx="89.8" cy="204.1" r="2.9"/><circle cx="90.4" cy="208.7" r="2.9"/><circle cx="92.6" cy="174.1" r="2.8"/><circle cx="86.0" cy="150.0" r="3.0"/><circle cx="85.0" cy="160.0" r="3.0"/><circle cx="88.0" cy="138.0" r="2.9"/><circle cx="87.0" cy="196.0" r="3.0"/><circle cx="93.0" cy="212.0" r="2.8"/></g>
<g fill="#FF0000" fill-opacity="0.5"><circle cx="133.3" cy="213.4" r="2.6"/><circle cx="129.6" cy="212.4" r="2.5"/><circle cx="139.5" cy="161.5" r="2.8"/><circle cx="130.5" cy="131.5" r="2.5"/><circle cx="123.8" cy="128.8" r="2.2"/><circle cx="123.5" cy="195.9" r="2.2"/><circle cx="123.2" cy="192.8" r="2.1"/><circle cx="120.2" cy="196.8" r="2.0"/><circle cx="129.5" cy="201.5" r="2.5"/><circle cx="122.1" cy="169.2" r="2.1"/><circle cx="119.6" cy="209.0" r="1.9"/><circle cx="119.8" cy="180.4" r="1.9"/><circle cx="129.8" cy="177.3" r="2.5"/><circle cx="125.5" cy="201.9" r="2.3"/><circle cx="126.3" cy="179.8" r="2.3"/><circle cx="123.9" cy="193.7" r="2.2"/><circle cx="130.0" cy="212.8" r="2.5"/><circle cx="129.4" cy="148.2" r="2.4"/><circle cx="127.3" cy="191.7" r="2.4"/><circle cx="139.8" cy="136.0" r="2.8"/><circle cx="136.8" cy="159.5" r="2.7"/><circle cx="132.4" cy="206.2" r="2.6"/><circle cx="121.5" cy="217.9" r="2.0"/><circle cx="130.4" cy="214.9" r="2.5"/><circle cx="127.9" cy="192.5" r="2.4"/><circle cx="128.3" cy="203.2" r="2.4"/><circle cx="129.4" cy="207.5" r="2.4"/><circle cx="130.7" cy="174.7" r="2.5"/><circle cx="124.7" cy="129.0" r="2.2"/><circle cx="130.1" cy="77.3" r="2.5"/><circle cx="120.4" cy="192.9" r="2.0"/><circle cx="124.5" cy="192.8" r="2.2"/><circle cx="119.9" cy="189.3" r="1.9"/><circle cx="128.1" cy="171.0" r="2.4"/><circle cx="134.3" cy="180.5" r="2.6"/><circle cx="119.6" cy="187.8" r="1.9"/><circle cx="131.1" cy="165.1" r="2.5"/><circle cx="121.3" cy="180.6" r="2.0"/><circle cx="137.7" cy="126.5" r="2.8"/><circle cx="121.9" cy="165.4" r="2.1"/><circle cx="124.0" cy="176.9" r="2.2"/><circle cx="120.2" cy="169.6" r="1.9"/><circle cx="133.5" cy="130.7" r="2.6"/><circle cx="128.2" cy="111.9" r="2.4"/><circle cx="128.7" cy="180.1" r="2.4"/><circle cx="143.8" cy="109.3" r="2.9"/><circle cx="124.5" cy="196.8" r="2.2"/><circle cx="141.1" cy="120.6" r="2.9"/><circle cx="133.9" cy="194.2" r="2.6"/><circle cx="122.2" cy="143.2" r="2.1"/><circle cx="122.0" cy="209.5" r="2.1"/><circle cx="134.7" cy="126.6" r="2.7"/><circle cx="125.2" cy="116.9" r="2.3"/><circle cx="131.3" cy="182.6" r="2.5"/><circle cx="128.1" cy="194.4" r="2.4"/><circle cx="136.7" cy="142.4" r="2.7"/><circle cx="138.1" cy="157.7" r="2.8"/><circle cx="124.6" cy="181.0" r="2.2"/><circle cx="133.7" cy="135.6" r="2.6"/><circle cx="129.3" cy="147.4" r="2.4"/><circle cx="124.8" cy="169.3" r="2.2"/><circle cx="126.8" cy="136.6" r="2.3"/><circle cx="131.7" cy="115.1" r="2.5"/><circle cx="123.0" cy="210.3" r="2.1"/><circle cx="137.6" cy="111.1" r="2.8"/><circle cx="126.4" cy="219.5" r="2.3"/><circle cx="129.0" cy="202.8" r="2.4"/><circle cx="137.9" cy="154.6" r="2.8"/><circle cx="123.4" cy="204.7" r="2.2"/><circle cx="143.9" cy="97.7" r="2.9"/><circle cx="130.8" cy="168.9" r="2.5"/><circle cx="130.4" cy="142.9" r="2.5"/><circle cx="133.1" cy="136.3" r="2.6"/><circle cx="127.3" cy="208.7" r="2.4"/><circle cx="139.6" cy="88.1" r="2.8"/><circle cx="121.5" cy="204.9" r="2.0"/><circle cx="125.4" cy="101.8" r="2.3"/><circle cx="131.5" cy="182.8" r="2.5"/><circle cx="130.7" cy="134.4" r="2.5"/><circle cx="130.9" cy="164.5" r="2.5"/><circle cx="119.1" cy="212.3" r="1.9"/><circle cx="124.3" cy="197.2" r="2.2"/><circle cx="135.7" cy="106.6" r="2.7"/><circle cx="133.6" cy="136.8" r="2.6"/><circle cx="124.3" cy="159.7" r="2.2"/><circle cx="120.3" cy="187.6" r="2.0"/><circle cx="147.6" cy="68.0" r="3.1"/><circle cx="120.8" cy="205.1" r="2.0"/><circle cx="130.0" cy="202.5" r="2.5"/><circle cx="120.0" cy="215.9" r="1.9"/><circle cx="136.5" cy="123.5" r="2.7"/><circle cx="129.0" cy="125.0" r="2.4"/><circle cx="120.6" cy="201.4" r="2.0"/><circle cx="130.0" cy="163.0" r="2.5"/><circle cx="132.8" cy="129.2" r="2.6"/><circle cx="136.3" cy="76.8" r="2.7"/><circle cx="125.4" cy="125.4" r="2.3"/><circle cx="129.2" cy="182.6" r="2.4"/><circle cx="122.9" cy="189.5" r="2.1"/><circle cx="126.3" cy="143.0" r="2.3"/><circle cx="126.2" cy="211.4" r="2.3"/><circle cx="123.5" cy="162.4" r="2.2"/><circle cx="135.6" cy="163.4" r="2.7"/><circle cx="134.5" cy="148.1" r="2.6"/><circle cx="127.1" cy="149.2" r="2.3"/><circle cx="128.9" cy="143.6" r="2.4"/><circle cx="121.8" cy="200.4" r="2.1"/><circle cx="125.3" cy="153.8" r="2.3"/><circle cx="130.0" cy="127.4" r="2.5"/><circle cx="134.4" cy="153.2" r="2.6"/><circle cx="124.3" cy="212.3" r="2.2"/><circle cx="132.7" cy="178.2" r="2.6"/><circle cx="130.0" cy="107.8" r="2.5"/><circle cx="121.9" cy="151.2" r="2.1"/><circle cx="139.0" cy="157.1" r="2.8"/><circle cx="136.9" cy="74.7" r="2.7"/><circle cx="125.8" cy="216.5" r="2.3"/><circle cx="120.6" cy="211.2" r="2.0"/><circle cx="146.4" cy="107.1" r="3.0"/><circle cx="123.9" cy="167.6" r="2.2"/><circle cx="124.8" cy="137.8" r="2.2"/><circle cx="133.7" cy="124.8" r="2.6"/><circle cx="131.0" cy="132.9" r="2.5"/><circle cx="138.3" cy="94.2" r="2.8"/><circle cx="126.7" cy="184.1" r="2.3"/><circle cx="137.6" cy="144.6" r="2.7"/><circle cx="122.9" cy="185.5" r="2.1"/><circle cx="128.1" cy="199.3" r="2.4"/><circle cx="126.7" cy="170.1" r="2.3"/><circle cx="140.7" cy="141.7" r="2.9"/><circle cx="124.8" cy="114.1" r="2.2"/><circle cx="131.7" cy="179.7" r="2.5"/><circle cx="132.3" cy="182.5" r="2.6"/><circle cx="127.9" cy="195.3" r="2.4"/><circle cx="136.9" cy="113.7" r="2.7"/><circle cx="147.9" cy="91.5" r="3.1"/><circle cx="126.9" cy="206.9" r="2.3"/><circle cx="124.4" cy="174.2" r="2.2"/><circle cx="134.1" cy="105.5" r="2.6"/><circle cx="122.5" cy="186.6" r="2.1"/><circle cx="132.4" cy="95.2" r="2.6"/><circle cx="125.8" cy="177.4" r="2.3"/><circle cx="126.7" cy="167.9" r="2.3"/><circle cx="122.6" cy="187.4" r="2.1"/><circle cx="130.6" cy="105.5" r="2.5"/><circle cx="122.1" cy="210.3" r="2.1"/><circle cx="120.2" cy="214.1" r="2.0"/><circle cx="124.2" cy="219.2" r="2.2"/><circle cx="120.0" cy="193.5" r="1.9"/><circle cx="126.5" cy="137.7" r="2.3"/><circle cx="119.6" cy="218.5" r="1.9"/><circle cx="129.5" cy="175.2" r="2.5"/><circle cx="122.5" cy="187.8" r="2.1"/><circle cx="120.8" cy="180.9" r="2.0"/><circle cx="138.2" cy="124.1" r="2.8"/><circle cx="132.6" cy="203.8" r="2.6"/><circle cx="124.1" cy="179.1" r="2.2"/><circle cx="132.3" cy="126.0" r="2.6"/><circle cx="122.9" cy="146.0" r="2.1"/><circle cx="141.2" cy="114.7" r="2.9"/><circle cx="137.6" cy="152.9" r="2.8"/><circle cx="126.2" cy="219.8" r="2.3"/><circle cx="125.1" cy="146.7" r="2.3"/><circle cx="137.1" cy="148.2" r="2.7"/><circle cx="123.8" cy="197.9" r="2.2"/><circle cx="128.7" cy="102.8" r="2.4"/><circle cx="127.7" cy="110.6" r="2.4"/><circle cx="131.6" cy="191.1" r="2.5"/><circle cx="131.7" cy="112.5" r="2.5"/><circle cx="129.9" cy="174.8" r="2.5"/><circle cx="127.5" cy="199.5" r="2.4"/><circle cx="127.6" cy="168.9" r="2.4"/><circle cx="134.5" cy="102.2" r="2.6"/><circle cx="132.4" cy="124.0" r="2.6"/><circle cx="125.7" cy="166.2" r="2.3"/><circle cx="126.8" cy="215.7" r="2.3"/><circle cx="124.9" cy="180.0" r="2.2"/><circle cx="125.2" cy="185.2" r="2.3"/><circle cx="122.5" cy="172.9" r="2.1"/><circle cx="139.0" cy="139.5" r="2.8"/><circle cx="129.9" cy="174.4" r="2.5"/><circle cx="139.3" cy="71.4" r="2.8"/><circle cx="127.1" cy="150.5" r="2.3"/><circle cx="131.9" cy="198.9" r="2.5"/><circle cx="128.2" cy="123.8" r="2.4"/><circle cx="123.9" cy="179.3" r="2.2"/><circle cx="126.8" cy="188.0" r="2.3"/><circle cx="134.0" cy="116.7" r="2.6"/><circle cx="128.0" cy="204.4" r="2.4"/><circle cx="137.3" cy="129.0" r="2.7"/><circle cx="124.4" cy="216.7" r="2.2"/><circle cx="128.5" cy="141.8" r="2.4"/><circle cx="129.4" cy="174.9" r="2.4"/><circle cx="124.2" cy="215.0" r="2.2"/><circle cx="123.0" cy="199.9" r="2.1"/><circle cx="120.7" cy="159.4" r="2.0"/><circle cx="128.9" cy="122.3" r="2.4"/><circle cx="125.9" cy="175.3" r="2.3"/><circle cx="124.8" cy="172.0" r="2.2"/><circle cx="133.1" cy="97.6" r="2.6"/><circle cx="132.3" cy="146.6" r="2.6"/><circle cx="122.2" cy="211.8" r="2.1"/><circle cx="135.8" cy="164.4" r="2.7"/><circle cx="131.1" cy="120.4" r="2.5"/><circle cx="125.3" cy="178.8" r="2.3"/><circle cx="138.4" cy="155.5" r="2.8"/><circle cx="130.5" cy="210.9" r="2.5"/><circle cx="138.1" cy="160.0" r="2.8"/><circle cx="145.1" cy="82.2" r="3.0"/><circle cx="138.4" cy="117.5" r="2.8"/><circle cx="135.1" cy="119.6" r="2.7"/><circle cx="122.6" cy="215.3" r="2.1"/><circle cx="128.2" cy="143.7" r="2.4"/><circle cx="124.6" cy="142.4" r="2.2"/><circle cx="119.3" cy="218.2" r="1.9"/><circle cx="133.5" cy="124.0" r="2.6"/><circle cx="124.4" cy="176.1" r="2.2"/><circle cx="118.2" cy="214.9" r="1.8"/><circle cx="120.2" cy="210.5" r="2.0"/><circle cx="127.1" cy="117.3" r="2.3"/><circle cx="124.0" cy="157.6" r="2.2"/><circle cx="130.3" cy="130.1" r="2.5"/><circle cx="132.3" cy="185.6" r="2.6"/><circle cx="134.8" cy="129.3" r="2.7"/><circle cx="125.9" cy="119.8" r="2.3"/><circle cx="133.8" cy="132.6" r="2.6"/><circle cx="141.8" cy="112.5" r="2.9"/><circle cx="127.6" cy="187.5" r="2.4"/><circle cx="132.4" cy="133.6" r="2.6"/><circle cx="137.5" cy="148.8" r="2.7"/><circle cx="135.3" cy="133.1" r="2.7"/><circle cx="133.4" cy="146.3" r="2.6"/><circle cx="134.0" cy="136.8" r="2.6"/><circle cx="127.7" cy="142.9" r="2.4"/><circle cx="120.2" cy="186.6" r="1.9"/><circle cx="126.5" cy="119.3" r="2.3"/><circle cx="127.4" cy="184.0" r="2.4"/><circle cx="127.1" cy="142.2" r="2.3"/><circle cx="144.8" cy="105.4" r="3.0"/><circle cx="141.4" cy="110.6" r="2.9"/><circle cx="121.9" cy="209.4" r="2.1"/><circle cx="130.7" cy="89.7" r="2.5"/><circle cx="128.5" cy="133.2" r="2.4"/><circle cx="123.3" cy="205.0" r="2.2"/><circle cx="129.4" cy="102.0" r="2.4"/><circle cx="127.2" cy="124.7" r="2.4"/><circle cx="139.0" cy="132.2" r="2.8"/><circle cx="126.6" cy="201.8" r="2.3"/><circle cx="136.9" cy="109.9" r="2.7"/><circle cx="121.9" cy="214.7" r="2.1"/><circle cx="142.1" cy="110.6" r="2.9"/><circle cx="123.0" cy="169.2" r="2.1"/><circle cx="119.4" cy="194.3" r="1.9"/><circle cx="124.2" cy="168.4" r="2.2"/><circle cx="121.5" cy="162.1" r="2.0"/><circle cx="131.7" cy="153.5" r="2.5"/><circle cx="132.2" cy="130.2" r="2.6"/><circle cx="117.8" cy="220.1" r="1.7"/><circle cx="139.9" cy="149.3" r="2.8"/><circle cx="126.9" cy="178.3" r="2.3"/><circle cx="134.3" cy="171.3" r="2.6"/><circle cx="119.9" cy="216.6" r="1.9"/><circle cx="135.4" cy="129.1" r="2.7"/><circle cx="142.5" cy="116.5" r="2.9"/><circle cx="124.7" cy="209.2" r="2.2"/><circle cx="124.2" cy="162.3" r="2.2"/><circle cx="133.6" cy="178.5" r="2.6"/><circle cx="133.3" cy="176.5" r="2.6"/><circle cx="126.6" cy="195.4" r="2.3"/><circle cx="127.6" cy="202.0" r="2.4"/><circle cx="128.2" cy="185.7" r="2.4"/><circle cx="128.1" cy="67.4" r="2.4"/><circle cx="124.8" cy="201.9" r="2.2"/><circle cx="128.0" cy="89.9" r="2.4"/><circle cx="120.1" cy="204.3" r="1.9"/><circle cx="130.9" cy="63.3" r="2.5"/><circle cx="120.6" cy="194.5" r="2.0"/><circle cx="133.7" cy="178.2" r="2.6"/><circle cx="130.9" cy="82.1" r="2.5"/><circle cx="124.8" cy="192.0" r="2.2"/><circle cx="120.8" cy="171.0" r="2.0"/><circle cx="128.4" cy="110.8" r="2.4"/><circle cx="126.7" cy="206.6" r="2.3"/><circle cx="129.9" cy="172.4" r="2.5"/><circle cx="131.4" cy="156.6" r="2.5"/><circle cx="133.9" cy="214.6" r="2.6"/><circle cx="139.5" cy="123.6" r="2.8"/><circle cx="136.2" cy="119.7" r="2.7"/><circle cx="121.4" cy="208.4" r="2.0"/><circle cx="141.0" cy="117.3" r="2.9"/><circle cx="131.6" cy="199.6" r="2.5"/><circle cx="136.0" cy="124.5" r="2.7"/><circle cx="124.9" cy="199.2" r="2.2"/><circle cx="135.3" cy="149.8" r="2.7"/><circle cx="131.9" cy="175.6" r="2.5"/><circle cx="128.8" cy="174.3" r="2.4"/><circle cx="141.2" cy="148.1" r="2.9"/><circle cx="136.0" cy="163.5" r="2.7"/><circle cx="128.7" cy="179.5" r="2.4"/><circle cx="135.8" cy="113.5" r="2.7"/><circle cx="123.0" cy="211.2" r="2.1"/><circle cx="125.3" cy="200.3" r="2.3"/><circle cx="142.6" cy="124.3" r="2.9"/><circle cx="138.0" cy="126.6" r="2.8"/><circle cx="131.0" cy="148.1" r="2.5"/><circle cx="127.2" cy="194.1" r="2.4"/><circle cx="126.8" cy="163.3" r="2.3"/><circle cx="123.9" cy="138.1" r="2.2"/><circle cx="128.5" cy="193.8" r="2.4"/><circle cx="135.7" cy="122.5" r="2.7"/><circle cx="123.7" cy="186.6" r="2.2"/><circle cx="120.1" cy="192.0" r="1.9"/><circle cx="141.0" cy="107.2" r="2.9"/><circle cx="133.5" cy="169.8" r="2.6"/><circle cx="123.7" cy="172.7" r="2.2"/><circle cx="125.0" cy="217.7" r="2.2"/><circle cx="130.0" cy="136.0" r="2.5"/><circle cx="127.5" cy="156.2" r="2.4"/><circle cx="123.0" cy="213.5" r="2.1"/><circle cx="136.0" cy="112.5" r="2.7"/><circle cx="133.7" cy="209.0" r="2.6"/><circle cx="127.8" cy="144.5" r="2.4"/><circle cx="132.1" cy="141.7" r="2.6"/><circle cx="124.5" cy="220.4" r="2.2"/><circle cx="128.3" cy="147.6" r="2.4"/><circle cx="133.3" cy="129.5" r="2.6"/><circle cx="134.0" cy="124.2" r="2.6"/><circle cx="128.0" cy="185.0" r="2.4"/><circle cx="121.9" cy="177.8" r="2.1"/><circle cx="133.5" cy="128.4" r="2.6"/><circle cx="127.5" cy="160.6" r="2.4"/><circle cx="141.1" cy="134.5" r="2.9"/><circle cx="129.8" cy="201.9" r="2.5"/><circle cx="125.4" cy="143.5" r="2.3"/><circle cx="120.9" cy="175.4" r="2.0"/><circle cx="127.7" cy="210.9" r="2.4"/><circle cx="124.4" cy="128.4" r="2.2"/><circle cx="130.8" cy="215.4" r="2.5"/><circle cx="127.7" cy="159.4" r="2.4"/><circle cx="128.4" cy="178.4" r="2.4"/><circle cx="125.2" cy="132.6" r="2.3"/><circle cx="126.8" cy="184.9" r="2.3"/><circle cx="130.1" cy="188.4" r="2.5"/><circle cx="134.8" cy="172.5" r="2.7"/><circle cx="123.7" cy="204.9" r="2.2"/><circle cx="137.7" cy="157.7" r="2.8"/><circle cx="133.7" cy="75.5" r="2.6"/><circle cx="131.7" cy="210.9" r="2.5"/><circle cx="130.0" cy="169.5" r="2.5"/><circle cx="126.8" cy="175.3" r="2.3"/><circle cx="132.8" cy="173.3" r="2.6"/><circle cx="132.2" cy="89.4" r="2.6"/><circle cx="130.3" cy="134.6" r="2.5"/><circle cx="126.3" cy="104.5" r="2.3"/><circle cx="127.9" cy="179.5" r="2.4"/><circle cx="130.5" cy="204.0" r="2.5"/><circle cx="121.3" cy="180.8" r="2.0"/><circle cx="125.0" cy="199.1" r="2.2"/><circle cx="139.8" cy="140.3" r="2.8"/><circle cx="140.3" cy="84.9" r="2.8"/><circle cx="126.1" cy="150.0" r="2.3"/><circle cx="143.3" cy="118.6" r="2.9"/><circle cx="138.7" cy="136.8" r="2.8"/><circle cx="132.8" cy="128.4" r="2.6"/><circle cx="130.8" cy="120.4" r="2.5"/><circle cx="120.6" cy="184.1" r="2.0"/><circle cx="125.7" cy="173.2" r="2.3"/><circle cx="128.1" cy="200.2" r="2.4"/><circle cx="124.2" cy="219.2" r="2.2"/><circle cx="132.6" cy="128.2" r="2.6"/><circle cx="121.4" cy="213.8" r="2.0"/><circle cx="125.0" cy="193.7" r="2.2"/><circle cx="126.9" cy="168.9" r="2.3"/><circle cx="128.3" cy="217.8" r="2.4"/><circle cx="127.6" cy="162.7" r="2.4"/><circle cx="136.1" cy="83.3" r="2.7"/><circle cx="129.7" cy="111.5" r="2.5"/><circle cx="131.4" cy="137.8" r="2.5"/><circle cx="120.8" cy="185.1" r="2.0"/><circle cx="135.1" cy="169.3" r="2.7"/><circle cx="119.5" cy="183.5" r="1.9"/><circle cx="131.9" cy="77.9" r="2.5"/><circle cx="139.3" cy="129.6" r="2.8"/><circle cx="126.1" cy="167.9" r="2.3"/><circle cx="133.0" cy="180.1" r="2.6"/><circle cx="127.2" cy="152.8" r="2.4"/><circle cx="126.3" cy="125.6" r="2.3"/><circle cx="128.7" cy="137.4" r="2.4"/><circle cx="123.4" cy="192.9" r="2.2"/><circle cx="130.8" cy="187.7" r="2.5"/><circle cx="138.8" cy="129.5" r="2.8"/><circle cx="128.8" cy="215.2" r="2.4"/><circle cx="133.7" cy="90.6" r="2.6"/><circle cx="131.9" cy="127.8" r="2.5"/><circle cx="132.6" cy="153.5" r="2.6"/><circle cx="131.6" cy="198.0" r="2.5"/><circle cx="124.8" cy="169.2" r="2.2"/><circle cx="128.4" cy="182.6" r="2.4"/><circle cx="122.4" cy="215.3" r="2.1"/><circle cx="134.4" cy="144.6" r="2.6"/><circle cx="124.4" cy="120.5" r="2.2"/><circle cx="137.7" cy="150.0" r="2.8"/><circle cx="122.3" cy="169.0" r="2.1"/><circle cx="128.8" cy="113.2" r="2.4"/><circle cx="132.0" cy="88.3" r="2.6"/><circle cx="125.2" cy="188.7" r="2.3"/><circle cx="129.4" cy="219.7" r="2.4"/><circle cx="125.4" cy="213.0" r="2.3"/><circle cx="123.6" cy="145.8" r="2.2"/><circle cx="138.4" cy="155.5" r="2.8"/><circle cx="119.7" cy="200.9" r="1.9"/><circle cx="125.2" cy="219.2" r="2.3"/><circle cx="132.7" cy="143.3" r="2.6"/><circle cx="125.8" cy="215.4" r="2.3"/><circle cx="127.8" cy="185.4" r="2.4"/><circle cx="124.6" cy="115.3" r="2.2"/><circle cx="126.2" cy="155.1" r="2.3"/><circle cx="132.9" cy="65.5" r="2.6"/><circle cx="132.2" cy="149.7" r="2.6"/><circle cx="121.9" cy="164.0" r="2.1"/><circle cx="122.1" cy="197.3" r="2.1"/><circle cx="125.1" cy="140.1" r="2.2"/><circle cx="120.2" cy="179.5" r="2.0"/><circle cx="125.4" cy="181.1" r="2.3"/><circle cx="123.6" cy="164.2" r="2.2"/><circle cx="126.5" cy="175.1" r="2.3"/><circle cx="124.3" cy="156.2" r="2.2"/><circle cx="130.8" cy="174.7" r="2.5"/><circle cx="122.7" cy="156.3" r="2.1"/><circle cx="127.9" cy="210.7" r="2.4"/><circle cx="136.3" cy="109.3" r="2.7"/><circle cx="120.5" cy="205.1" r="2.0"/><circle cx="123.5" cy="191.0" r="2.2"/><circle cx="133.7" cy="72.7" r="2.6"/><circle cx="124.5" cy="187.8" r="2.2"/><circle cx="132.8" cy="144.1" r="2.6"/><circle cx="120.7" cy="162.1" r="2.0"/><circle cx="123.1" cy="163.4" r="2.1"/><circle cx="127.4" cy="189.8" r="2.4"/><circle cx="122.2" cy="159.5" r="2.1"/><circle cx="134.3" cy="177.8" r="2.6"/><circle cx="124.4" cy="125.8" r="2.2"/><circle cx="140.9" cy="99.6" r="2.9"/><circle cx="122.5" cy="181.7" r="2.1"/><circle cx="130.3" cy="219.7" r="2.5"/><circle cx="143.0" cy="101.5" r="2.9"/><circle cx="119.0" cy="210.6" r="1.9"/><circle cx="122.2" cy="146.8" r="2.1"/><circle cx="124.7" cy="179.9" r="2.2"/><circle cx="129.7" cy="131.9" r="2.5"/><circle cx="124.1" cy="184.5" r="2.2"/><circle cx="131.2" cy="153.3" r="2.5"/><circle cx="128.3" cy="196.9" r="2.4"/><circle cx="135.2" cy="133.3" r="2.7"/><circle cx="138.7" cy="140.3" r="2.8"/><circle cx="136.6" cy="176.5" r="2.7"/><circle cx="125.3" cy="107.8" r="2.3"/><circle cx="122.9" cy="218.1" r="2.1"/><circle cx="132.6" cy="174.4" r="2.6"/><circle cx="119.0" cy="217.8" r="1.9"/><circle cx="126.3" cy="120.0" r="2.3"/><circle cx="121.9" cy="186.7" r="2.1"/><circle cx="138.7" cy="123.3" r="2.8"/><circle cx="142.8" cy="102.9" r="2.9"/><circle cx="134.2" cy="154.1" r="2.6"/><circle cx="136.7" cy="157.7" r="2.7"/><circle cx="123.1" cy="168.3" r="2.1"/><circle cx="124.9" cy="157.0" r="2.2"/><circle cx="124.4" cy="122.5" r="2.2"/><circle cx="132.1" cy="183.4" r="2.6"/><circle cx="132.9" cy="131.9" r="2.6"/><circle cx="127.3" cy="134.9" r="2.4"/><circle cx="125.4" cy="195.3" r="2.3"/><circle cx="124.6" cy="183.4" r="2.2"/><circle cx="127.7" cy="188.8" r="2.4"/><circle cx="120.5" cy="211.9" r="2.0"/><circle cx="122.3" cy="203.7" r="2.1"/><circle cx="125.9" cy="125.8" r="2.3"/><circle cx="121.4" cy="218.2" r="2.0"/><circle cx="137.9" cy="163.7" r="2.8"/><circle cx="120.4" cy="168.4" r="2.0"/><circle cx="137.5" cy="133.5" r="2.7"/><circle cx="123.0" cy="147.2" r="2.1"/><circle cx="122.6" cy="168.2" r="2.1"/><circle cx="144.6" cy="86.0" r="3.0"/><circle cx="130.6" cy="188.0" r="2.5"/><circle cx="137.9" cy="142.4" r="2.8"/><circle cx="120.9" cy="184.6" r="2.0"/><circle cx="126.3" cy="189.4" r="2.3"/><circle cx="125.9" cy="175.7" r="2.3"/><circle cx="126.4" cy="100.7" r="2.3"/><circle cx="133.3" cy="169.0" r="2.6"/><circle cx="137.9" cy="143.1" r="2.8"/><circle cx="126.1" cy="187.3" r="2.3"/><circle cx="121.5" cy="186.9" r="2.0"/><circle cx="139.3" cy="161.5" r="2.8"/><circle cx="127.0" cy="189.3" r="2.3"/><circle cx="136.0" cy="114.7" r="2.7"/><circle cx="133.7" cy="199.4" r="2.6"/><circle cx="119.0" cy="217.4" r="1.9"/><circle cx="132.0" cy="209.4" r="2.5"/><circle cx="122.0" cy="198.9" r="2.1"/><circle cx="129.6" cy="149.4" r="2.5"/><circle cx="118.4" cy="213.1" r="1.8"/><circle cx="124.8" cy="168.8" r="2.2"/><circle cx="137.0" cy="125.2" r="2.7"/><circle cx="129.4" cy="166.4" r="2.4"/><circle cx="118.6" cy="203.5" r="1.8"/><circle cx="124.6" cy="182.9" r="2.2"/><circle cx="120.1" cy="201.4" r="1.9"/><circle cx="133.6" cy="86.7" r="2.6"/><circle cx="122.3" cy="217.5" r="2.1"/><circle cx="123.3" cy="212.0" r="2.2"/><circle cx="125.7" cy="161.5" r="2.3"/><circle cx="127.8" cy="212.1" r="2.4"/><circle cx="131.5" cy="120.5" r="2.5"/><circle cx="140.5" cy="144.4" r="2.8"/><circle cx="126.6" cy="118.6" r="2.3"/><circle cx="123.8" cy="181.9" r="2.2"/><circle cx="131.1" cy="211.4" r="2.5"/><circle cx="131.2" cy="213.0" r="2.5"/><circle cx="130.1" cy="102.1" r="2.5"/><circle cx="121.2" cy="193.8" r="2.0"/><circle cx="121.9" cy="168.4" r="2.1"/><circle cx="130.6" cy="126.0" r="2.5"/><circle cx="127.3" cy="208.7" r="2.4"/><circle cx="125.0" cy="164.7" r="2.2"/><circle cx="146.1" cy="89.8" r="3.0"/><circle cx="134.5" cy="145.8" r="2.6"/><circle cx="121.4" cy="183.4" r="2.0"/><circle cx="135.2" cy="203.5" r="2.7"/><circle cx="138.4" cy="123.0" r="2.8"/><circle cx="124.1" cy="172.5" r="2.2"/><circle cx="125.7" cy="103.8" r="2.3"/><circle cx="120.9" cy="210.7" r="2.0"/><circle cx="133.7" cy="71.5" r="2.6"/><circle cx="130.4" cy="217.6" r="2.5"/><circle cx="121.3" cy="169.2" r="2.0"/><circle cx="125.7" cy="191.8" r="2.3"/><circle cx="119.9" cy="181.8" r="1.9"/><circle cx="122.2" cy="161.9" r="2.1"/><circle cx="131.5" cy="153.5" r="2.5"/><circle cx="132.0" cy="124.2" r="2.6"/><circle cx="137.5" cy="134.5" r="2.7"/><circle cx="127.9" cy="105.5" r="2.4"/><circle cx="132.9" cy="132.1" r="2.6"/><circle cx="130.4" cy="180.0" r="2.5"/><circle cx="128.9" cy="167.5" r="2.4"/><circle cx="127.8" cy="169.5" r="2.4"/><circle cx="129.4" cy="164.8" r="2.4"/><circle cx="122.9" cy="214.7" r="2.1"/><circle cx="126.0" cy="203.5" r="2.3"/><circle cx="138.3" cy="131.6" r="2.8"/><circle cx="126.9" cy="168.2" r="2.3"/><circle cx="122.8" cy="217.4" r="2.1"/><circle cx="141.0" cy="132.1" r="2.9"/><circle cx="124.4" cy="185.7" r="2.2"/><circle cx="129.3" cy="179.3" r="2.4"/><circle cx="124.3" cy="181.9" r="2.2"/><circle cx="134.3" cy="168.1" r="2.6"/><circle cx="120.2" cy="190.4" r="2.0"/><circle cx="127.8" cy="145.7" r="2.4"/><circle cx="119.7" cy="213.7" r="1.9"/><circle cx="126.7" cy="169.5" r="2.3"/><circle cx="128.0" cy="141.0" r="2.4"/><circle cx="124.1" cy="178.2" r="2.2"/><circle cx="129.6" cy="183.8" r="2.5"/><circle cx="127.6" cy="211.6" r="2.4"/><circle cx="129.8" cy="177.8" r="2.5"/><circle cx="135.6" cy="164.0" r="2.7"/><circle cx="124.9" cy="142.9" r="2.2"/><circle cx="137.8" cy="152.0" r="2.8"/><circle cx="127.1" cy="134.5" r="2.3"/><circle cx="130.6" cy="175.9" r="2.5"/><circle cx="120.3" cy="204.8" r="2.0"/><circle cx="135.3" cy="172.6" r="2.7"/><circle cx="124.0" cy="123.5" r="2.2"/><circle cx="138.9" cy="87.3" r="2.8"/><circle cx="131.1" cy="206.8" r="2.5"/><circle cx="131.1" cy="135.6" r="2.5"/><circle cx="126.3" cy="184.2" r="2.3"/><circle cx="124.6" cy="214.7" r="2.2"/><circle cx="125.0" cy="214.0" r="2.2"/><circle cx="130.6" cy="167.9" r="2.5"/><circle cx="133.8" cy="210.9" r="2.6"/><circle cx="125.4" cy="149.1" r="2.3"/><circle cx="118.0" cy="214.1" r="1.8"/><circle cx="120.2" cy="183.0" r="2.0"/><circle cx="128.9" cy="102.2" r="2.4"/><circle cx="132.1" cy="199.0" r="2.6"/><circle cx="134.1" cy="117.4" r="2.6"/><circle cx="121.0" cy="220.7" r="2.0"/><circle cx="148.9" cy="92.7" r="3.1"/><circle cx="123.7" cy="192.4" r="2.2"/><circle cx="130.5" cy="116.1" r="2.5"/><circle cx="123.6" cy="166.1" r="2.2"/><circle cx="123.1" cy="145.3" r="2.1"/><circle cx="123.5" cy="206.4" r="2.2"/><circle cx="126.2" cy="132.9" r="2.3"/><circle cx="119.4" cy="188.0" r="1.9"/><circle cx="130.2" cy="214.0" r="2.5"/><circle cx="125.2" cy="97.7" r="2.3"/><circle cx="126.5" cy="187.3" r="2.3"/><circle cx="134.3" cy="103.1" r="2.6"/><circle cx="127.2" cy="195.0" r="2.4"/><circle cx="123.2" cy="204.3" r="2.1"/><circle cx="126.9" cy="114.0" r="2.3"/><circle cx="126.7" cy="207.5" r="2.3"/><circle cx="127.8" cy="153.5" r="2.4"/><circle cx="139.5" cy="137.3" r="2.8"/><circle cx="120.4" cy="217.0" r="2.0"/><circle cx="124.7" cy="146.8" r="2.2"/><circle cx="127.8" cy="124.5" r="2.4"/><circle cx="126.1" cy="139.9" r="2.3"/><circle cx="124.8" cy="209.9" r="2.2"/><circle cx="121.8" cy="219.2" r="2.1"/><circle cx="140.4" cy="155.6" r="2.8"/><circle cx="137.6" cy="160.4" r="2.8"/><circle cx="126.8" cy="173.2" r="2.3"/><circle cx="131.6" cy="202.2" r="2.5"/><circle cx="145.5" cy="71.0" r="3.0"/><circle cx="122.6" cy="197.0" r="2.1"/><circle cx="125.5" cy="217.8" r="2.3"/><circle cx="132.8" cy="149.4" r="2.6"/><circle cx="121.8" cy="153.5" r="2.1"/><circle cx="119.1" cy="216.1" r="1.9"/><circle cx="139.9" cy="149.6" r="2.8"/><circle cx="138.5" cy="145.9" r="2.8"/><circle cx="132.9" cy="204.5" r="2.6"/><circle cx="123.1" cy="157.9" r="2.1"/><circle cx="124.2" cy="179.2" r="2.2"/><circle cx="128.4" cy="134.5" r="2.4"/><circle cx="120.1" cy="183.2" r="1.9"/><circle cx="139.0" cy="144.7" r="2.8"/><circle cx="121.2" cy="195.6" r="2.0"/><circle cx="129.8" cy="160.3" r="2.5"/><circle cx="129.1" cy="211.6" r="2.4"/><circle cx="128.1" cy="167.0" r="2.4"/><circle cx="121.7" cy="204.3" r="2.1"/><circle cx="129.0" cy="153.8" r="2.4"/><circle cx="123.3" cy="181.9" r="2.2"/><circle cx="136.7" cy="132.0" r="2.7"/><circle cx="120.5" cy="171.8" r="2.0"/><circle cx="131.3" cy="181.1" r="2.5"/><circle cx="132.7" cy="121.8" r="2.6"/><circle cx="131.3" cy="166.6" r="2.5"/><circle cx="122.1" cy="211.9" r="2.1"/><circle cx="140.1" cy="123.4" r="2.8"/><circle cx="123.9" cy="159.7" r="2.2"/><circle cx="119.3" cy="201.9" r="1.9"/><circle cx="140.2" cy="152.0" r="2.8"/><circle cx="146.9" cy="84.2" r="3.0"/><circle cx="136.6" cy="164.3" r="2.7"/><circle cx="137.0" cy="156.5" r="2.7"/><circle cx="126.9" cy="212.6" r="2.3"/><circle cx="121.2" cy="181.2" r="2.0"/><circle cx="132.3" cy="194.7" r="2.6"/><circle cx="125.3" cy="144.8" r="2.3"/><circle cx="133.4" cy="208.9" r="2.6"/><circle cx="120.2" cy="200.9" r="2.0"/><circle cx="125.2" cy="104.8" r="2.3"/><circle cx="127.0" cy="180.8" r="2.3"/><circle cx="123.3" cy="209.9" r="2.2"/><circle cx="120.7" cy="179.6" r="2.0"/><circle cx="123.4" cy="217.6" r="2.2"/><circle cx="138.1" cy="131.2" r="2.8"/><circle cx="129.2" cy="172.0" r="2.4"/><circle cx="123.0" cy="165.3" r="2.1"/><circle cx="130.7" cy="135.6" r="2.5"/><circle cx="123.0" cy="195.3" r="2.1"/><circle cx="125.8" cy="152.7" r="2.3"/><circle cx="119.7" cy="179.5" r="1.9"/><circle cx="125.8" cy="195.4" r="2.3"/><circle cx="124.4" cy="188.8" r="2.2"/><circle cx="137.5" cy="106.8" r="2.7"/><circle cx="129.1" cy="94.8" r="2.4"/><circle cx="131.9" cy="199.9" r="2.5"/><circle cx="122.1" cy="179.6" r="2.1"/><circle cx="135.0" cy="115.4" r="2.7"/><circle cx="126.9" cy="112.4" r="2.3"/><circle cx="124.9" cy="160.9" r="2.2"/><circle cx="132.2" cy="120.0" r="2.6"/><circle cx="127.4" cy="212.9" r="2.4"/><circle cx="139.1" cy="126.4" r="2.8"/><circle cx="125.9" cy="214.4" r="2.3"/><circle cx="119.5" cy="187.5" r="1.9"/><circle cx="134.0" cy="168.1" r="2.6"/><circle cx="131.8" cy="182.1" r="2.5"/><circle cx="125.2" cy="184.6" r="2.3"/><circle cx="134.4" cy="134.3" r="2.6"/><circle cx="121.0" cy="159.7" r="2.0"/><circle cx="144.6" cy="98.3" r="3.0"/><circle cx="142.3" cy="92.2" r="2.9"/><circle cx="119.9" cy="214.4" r="1.9"/><circle cx="128.8" cy="203.5" r="2.4"/><circle cx="125.8" cy="192.0" r="2.3"/><circle cx="127.5" cy="107.6" r="2.4"/><circle cx="121.5" cy="176.4" r="2.0"/><circle cx="129.7" cy="187.4" r="2.5"/><circle cx="125.7" cy="152.6" r="2.3"/><circle cx="127.8" cy="146.0" r="2.4"/><circle cx="127.3" cy="188.7" r="2.4"/><circle cx="128.8" cy="72.0" r="2.4"/><circle cx="123.5" cy="157.6" r="2.2"/><circle cx="133.3" cy="130.7" r="2.6"/><circle cx="138.3" cy="154.2" r="2.8"/><circle cx="135.6" cy="167.7" r="2.7"/><circle cx="127.2" cy="151.3" r="2.3"/><circle cx="123.3" cy="206.6" r="2.1"/><circle cx="123.0" cy="207.2" r="2.1"/><circle cx="122.2" cy="192.7" r="2.1"/><circle cx="128.5" cy="196.9" r="2.4"/><circle cx="125.2" cy="161.3" r="2.3"/><circle cx="129.5" cy="132.5" r="2.5"/><circle cx="124.6" cy="199.4" r="2.2"/><circle cx="143.9" cy="110.0" r="2.9"/><circle cx="129.8" cy="172.8" r="2.5"/><circle cx="124.0" cy="177.5" r="2.2"/><circle cx="139.3" cy="108.6" r="2.8"/><circle cx="124.4" cy="123.7" r="2.2"/><circle cx="125.9" cy="182.2" r="2.3"/><circle cx="122.9" cy="204.3" r="2.1"/><circle cx="126.0" cy="147.6" r="2.3"/><circle cx="125.0" cy="165.0" r="2.2"/><circle cx="119.2" cy="186.6" r="1.9"/><circle cx="130.7" cy="171.2" r="2.5"/><circle cx="130.2" cy="156.6" r="2.5"/><circle cx="128.0" cy="178.1" r="2.4"/><circle cx="125.9" cy="186.8" r="2.3"/><circle cx="123.4" cy="197.6" r="2.2"/><circle cx="127.1" cy="168.7" r="2.3"/><circle cx="125.5" cy="180.8" r="2.3"/><circle cx="140.2" cy="122.5" r="2.8"/><circle cx="126.9" cy="117.5" r="2.3"/><circle cx="119.7" cy="198.7" r="1.9"/><circle cx="128.9" cy="126.4" r="2.4"/><circle cx="130.8" cy="153.4" r="2.5"/><circle cx="125.9" cy="207.6" r="2.3"/><circle cx="136.5" cy="115.2" r="2.7"/><circle cx="127.4" cy="183.0" r="2.4"/><circle cx="124.7" cy="129.6" r="2.2"/><circle cx="125.0" cy="176.6" r="2.2"/><circle cx="123.3" cy="199.5" r="2.2"/><circle cx="120.0" cy="199.9" r="1.9"/><circle cx="126.0" cy="194.9" r="2.3"/><circle cx="132.9" cy="163.4" r="2.6"/><circle cx="120.9" cy="166.6" r="2.0"/><circle cx="132.7" cy="119.1" r="2.6"/><circle cx="126.9" cy="110.0" r="2.3"/><circle cx="128.3" cy="191.3" r="2.4"/><circle cx="137.3" cy="93.7" r="2.7"/><circle cx="118.8" cy="213.2" r="1.8"/><circle cx="132.2" cy="121.1" r="2.6"/><circle cx="122.0" cy="188.0" r="2.1"/><circle cx="124.5" cy="154.7" r="2.2"/><circle cx="129.0" cy="175.0" r="2.4"/><circle cx="123.8" cy="192.3" r="2.2"/><circle cx="138.0" cy="135.7" r="2.8"/><circle cx="130.3" cy="200.5" r="2.5"/><circle cx="134.1" cy="192.2" r="2.6"/><circle cx="133.4" cy="171.1" r="2.6"/><circle cx="128.6" cy="170.3" r="2.4"/><circle cx="122.9" cy="146.8" r="2.1"/><circle cx="121.2" cy="217.4" r="2.0"/><circle cx="130.9" cy="147.2" r="2.5"/><circle cx="125.6" cy="128.7" r="2.3"/><circle cx="130.7" cy="168.4" r="2.5"/><circle cx="124.5" cy="211.8" r="2.2"/><circle cx="120.8" cy="212.4" r="2.0"/><circle cx="128.0" cy="170.8" r="2.4"/><circle cx="128.9" cy="147.8" r="2.4"/><circle cx="119.4" cy="191.2" r="1.9"/><circle cx="131.0" cy="168.5" r="2.5"/><circle cx="127.7" cy="200.2" r="2.4"/><circle cx="131.0" cy="201.5" r="2.5"/><circle cx="123.6" cy="185.8" r="2.2"/><circle cx="125.2" cy="217.8" r="2.3"/><circle cx="127.4" cy="179.4" r="2.4"/><circle cx="118.3" cy="218.1" r="1.8"/><circle cx="128.8" cy="179.8" r="2.4"/><circle cx="128.0" cy="125.7" r="2.4"/><circle cx="125.4" cy="176.8" r="2.3"/><circle cx="126.4" cy="193.7" r="2.3"/><circle cx="129.7" cy="151.7" r="2.5"/><circle cx="128.8" cy="118.4" r="2.4"/><circle cx="136.9" cy="142.7" r="2.7"/><circle cx="126.1" cy="195.3" r="2.3"/><circle cx="126.8" cy="124.2" r="2.3"/><circle cx="146.3" cy="72.8" r="3.0"/><circle cx="127.8" cy="206.9" r="2.4"/><circle cx="128.2" cy="217.7" r="2.4"/><circle cx="127.2" cy="205.7" r="2.3"/><circle cx="127.9" cy="197.7" r="2.4"/><circle cx="131.9" cy="189.1" r="2.5"/><circle cx="131.4" cy="167.5" r="2.5"/><circle cx="121.9" cy="179.8" r="2.1"/><circle cx="124.5" cy="191.1" r="2.2"/><circle cx="127.7" cy="139.8" r="2.4"/><circle cx="133.7" cy="123.9" r="2.6"/><circle cx="126.8" cy="184.8" r="2.3"/><circle cx="135.2" cy="173.9" r="2.7"/><circle cx="118.3" cy="219.9" r="1.8"/><circle cx="124.2" cy="150.6" r="2.2"/><circle cx="122.1" cy="150.5" r="2.1"/><circle cx="136.9" cy="111.0" r="2.7"/><circle cx="132.9" cy="75.4" r="2.6"/><circle cx="144.9" cy="114.0" r="3.0"/><circle cx="133.9" cy="172.5" r="2.6"/><circle cx="126.7" cy="216.8" r="2.3"/><circle cx="135.4" cy="109.4" r="2.7"/><circle cx="141.4" cy="117.3" r="2.9"/><circle cx="130.0" cy="183.4" r="2.5"/><circle cx="132.1" cy="136.5" r="2.6"/><circle cx="139.5" cy="91.3" r="2.8"/><circle cx="121.2" cy="207.9" r="2.0"/><circle cx="132.6" cy="115.5" r="2.6"/><circle cx="131.0" cy="153.3" r="2.5"/><circle cx="122.8" cy="192.1" r="2.1"/><circle cx="119.3" cy="195.1" r="1.9"/><circle cx="130.3" cy="215.9" r="2.5"/><circle cx="125.2" cy="172.5" r="2.3"/><circle cx="133.2" cy="115.4" r="2.6"/><circle cx="136.6" cy="102.3" r="2.7"/><circle cx="132.8" cy="178.7" r="2.6"/><circle cx="131.7" cy="165.5" r="2.5"/><circle cx="138.5" cy="129.7" r="2.8"/><circle cx="133.7" cy="118.0" r="2.6"/><circle cx="138.4" cy="142.5" r="2.8"/><circle cx="138.4" cy="134.7" r="2.8"/><circle cx="134.5" cy="143.1" r="2.6"/><circle cx="126.6" cy="142.7" r="2.3"/><circle cx="130.1" cy="191.9" r="2.5"/><circle cx="127.2" cy="156.4" r="2.4"/><circle cx="126.1" cy="203.2" r="2.3"/><circle cx="128.2" cy="161.4" r="2.4"/><circle cx="138.6" cy="135.0" r="2.8"/><circle cx="119.0" cy="212.2" r="1.9"/><circle cx="126.4" cy="179.7" r="2.3"/><circle cx="118.7" cy="202.6" r="1.8"/><circle cx="125.7" cy="127.6" r="2.3"/><circle cx="123.4" cy="217.9" r="2.2"/><circle cx="125.8" cy="177.7" r="2.3"/><circle cx="123.0" cy="145.6" r="2.1"/><circle cx="128.6" cy="130.0" r="2.4"/><circle cx="130.1" cy="106.5" r="2.5"/><circle cx="131.5" cy="85.6" r="2.5"/><circle cx="130.9" cy="122.6" r="2.5"/><circle cx="123.2" cy="137.4" r="2.1"/><circle cx="120.8" cy="165.0" r="2.0"/><circle cx="125.4" cy="148.5" r="2.3"/><circle cx="140.7" cy="91.2" r="2.9"/><circle cx="140.0" cy="114.8" r="2.8"/><circle cx="144.6" cy="77.7" r="3.0"/><circle cx="147.6" cy="89.1" r="3.1"/><circle cx="126.8" cy="135.9" r="2.3"/><circle cx="126.2" cy="178.1" r="2.3"/><circle cx="131.6" cy="116.2" r="2.5"/><circle cx="118.7" cy="207.4" r="1.8"/><circle cx="123.7" cy="219.5" r="2.2"/><circle cx="123.4" cy="175.3" r="2.2"/><circle cx="147.2" cy="92.3" r="3.0"/><circle cx="138.0" cy="120.5" r="2.8"/><circle cx="132.0" cy="162.6" r="2.6"/><circle cx="131.2" cy="213.4" r="2.5"/><circle cx="120.5" cy="218.9" r="2.0"/><circle cx="124.9" cy="190.0" r="2.2"/><circle cx="125.4" cy="208.2" r="2.3"/><circle cx="132.9" cy="106.1" r="2.6"/><circle cx="125.7" cy="162.1" r="2.3"/><circle cx="132.0" cy="158.5" r="2.6"/><circle cx="137.5" cy="125.4" r="2.7"/><circle cx="134.6" cy="169.1" r="2.6"/><circle cx="130.5" cy="168.9" r="2.5"/><circle cx="121.7" cy="217.7" r="2.1"/><circle cx="136.1" cy="98.5" r="2.7"/><circle cx="128.3" cy="136.1" r="2.4"/><circle cx="125.6" cy="118.9" r="2.3"/><circle cx="126.3" cy="126.3" r="2.3"/><circle cx="138.8" cy="138.5" r="2.8"/><circle cx="137.8" cy="144.9" r="2.8"/><circle cx="130.1" cy="216.1" r="2.5"/><circle cx="144.3" cy="139.8" r="3.0"/><circle cx="125.0" cy="159.2" r="2.2"/><circle cx="127.2" cy="118.2" r="2.3"/><circle cx="124.9" cy="126.0" r="2.2"/><circle cx="125.5" cy="125.4" r="2.3"/><circle cx="130.3" cy="169.7" r="2.5"/><circle cx="128.4" cy="136.3" r="2.4"/><circle cx="138.0" cy="133.4" r="2.8"/><circle cx="136.3" cy="164.1" r="2.7"/><circle cx="131.3" cy="76.4" r="2.5"/><circle cx="123.0" cy="205.0" r="2.1"/><circle cx="130.8" cy="93.5" r="2.5"/><circle cx="128.3" cy="150.2" r="2.4"/><circle cx="128.0" cy="219.7" r="2.4"/><circle cx="128.2" cy="118.5" r="2.4"/><circle cx="126.4" cy="91.0" r="2.3"/><circle cx="133.7" cy="159.5" r="2.6"/><circle cx="121.3" cy="177.2" r="2.0"/><circle cx="130.0" cy="146.6" r="2.5"/><circle cx="137.4" cy="125.9" r="2.7"/><circle cx="120.7" cy="184.5" r="2.0"/><circle cx="123.8" cy="172.2" r="2.2"/><circle cx="137.6" cy="142.1" r="2.8"/><circle cx="135.0" cy="175.4" r="2.7"/><circle cx="120.6" cy="202.3" r="2.0"/><circle cx="132.9" cy="163.0" r="2.6"/><circle cx="132.1" cy="147.2" r="2.6"/><circle cx="124.2" cy="175.4" r="2.2"/><circle cx="132.0" cy="161.8" r="2.6"/><circle cx="127.6" cy="106.5" r="2.4"/><circle cx="132.0" cy="209.7" r="2.6"/><circle cx="141.9" cy="111.4" r="2.9"/><circle cx="125.9" cy="190.7" r="2.3"/><circle cx="137.1" cy="152.9" r="2.7"/><circle cx="119.8" cy="195.5" r="1.9"/><circle cx="130.2" cy="164.0" r="2.5"/><circle cx="122.3" cy="200.0" r="2.1"/><circle cx="131.7" cy="157.5" r="2.5"/><circle cx="143.2" cy="129.5" r="2.9"/><circle cx="131.9" cy="194.0" r="2.5"/><circle cx="118.7" cy="200.8" r="1.8"/><circle cx="121.3" cy="161.5" r="2.0"/><circle cx="118.2" cy="212.7" r="1.8"/><circle cx="121.8" cy="186.5" r="2.1"/><circle cx="121.3" cy="213.2" r="2.0"/><circle cx="129.1" cy="122.5" r="2.4"/><circle cx="125.9" cy="214.4" r="2.3"/><circle cx="128.0" cy="193.7" r="2.4"/><circle cx="127.3" cy="214.3" r="2.4"/><circle cx="134.1" cy="142.5" r="2.6"/><circle cx="136.8" cy="168.1" r="2.7"/><circle cx="124.2" cy="208.7" r="2.2"/><circle cx="124.5" cy="182.2" r="2.2"/><circle cx="124.2" cy="134.8" r="2.2"/><circle cx="123.1" cy="134.8" r="2.1"/><circle cx="129.4" cy="214.7" r="2.4"/><circle cx="130.8" cy="182.1" r="2.5"/><circle cx="126.4" cy="94.0" r="2.3"/><circle cx="137.4" cy="130.9" r="2.7"/><circle cx="136.7" cy="168.2" r="2.7"/><circle cx="138.8" cy="121.6" r="2.8"/><circle cx="125.3" cy="157.0" r="2.3"/><circle cx="124.4" cy="181.7" r="2.2"/><circle cx="137.8" cy="103.2" r="2.8"/><circle cx="138.9" cy="130.3" r="2.8"/><circle cx="131.2" cy="207.1" r="2.5"/><circle cx="135.2" cy="89.3" r="2.7"/><circle cx="134.0" cy="109.1" r="2.6"/><circle cx="134.1" cy="199.9" r="2.6"/><circle cx="120.1" cy="182.7" r="1.9"/><circle cx="127.4" cy="157.7" r="2.4"/><circle cx="127.2" cy="204.5" r="2.3"/><circle cx="137.8" cy="124.3" r="2.8"/><circle cx="139.0" cy="67.9" r="2.8"/><circle cx="131.2" cy="199.0" r="2.5"/><circle cx="130.9" cy="178.0" r="2.5"/><circle cx="137.7" cy="140.8" r="2.8"/><circle cx="120.1" cy="170.9" r="1.9"/><circle cx="127.3" cy="102.5" r="2.4"/><circle cx="139.2" cy="137.8" r="2.8"/><circle cx="122.2" cy="169.6" r="2.1"/><circle cx="133.1" cy="202.8" r="2.6"/><circle cx="130.9" cy="138.3" r="2.5"/><circle cx="133.4" cy="96.7" r="2.6"/><circle cx="130.4" cy="104.1" r="2.5"/><circle cx="126.4" cy="137.0" r="2.3"/><circle cx="120.9" cy="176.6" r="2.0"/><circle cx="123.7" cy="186.2" r="2.2"/><circle cx="120.5" cy="184.9" r="2.0"/><circle cx="126.7" cy="206.4" r="2.3"/><circle cx="123.3" cy="183.4" r="2.1"/><circle cx="128.9" cy="182.0" r="2.4"/><circle cx="133.5" cy="172.7" r="2.6"/><circle cx="128.7" cy="181.5" r="2.4"/><circle cx="128.4" cy="189.2" r="2.4"/><circle cx="118.7" cy="218.2" r="1.8"/><circle cx="142.5" cy="120.2" r="2.9"/><circle cx="126.7" cy="178.7" r="2.3"/><circle cx="136.2" cy="111.4" r="2.7"/><circle cx="126.9" cy="124.0" r="2.3"/><circle cx="123.9" cy="212.5" r="2.2"/><circle cx="123.5" cy="149.4" r="2.2"/><circle cx="136.8" cy="169.4" r="2.7"/><circle cx="132.7" cy="124.7" r="2.6"/><circle cx="132.8" cy="162.4" r="2.6"/><circle cx="144.3" cy="81.2" r="3.0"/><circle cx="126.5" cy="171.1" r="2.3"/><circle cx="121.2" cy="215.7" r="2.0"/><circle cx="120.0" cy="184.0" r="1.9"/><circle cx="127.3" cy="181.4" r="2.4"/><circle cx="121.9" cy="167.9" r="2.1"/><circle cx="128.3" cy="138.8" r="2.4"/><circle cx="130.2" cy="194.4" r="2.5"/><circle cx="138.0" cy="147.3" r="2.8"/><circle cx="137.7" cy="140.8" r="2.8"/><circle cx="137.4" cy="167.0" r="2.7"/><circle cx="130.1" cy="218.1" r="2.5"/><circle cx="125.3" cy="189.7" r="2.3"/><circle cx="123.2" cy="182.5" r="2.1"/><circle cx="141.9" cy="112.1" r="2.9"/><circle cx="122.8" cy="198.5" r="2.1"/><circle cx="130.8" cy="151.6" r="2.5"/><circle cx="121.6" cy="176.9" r="2.0"/><circle cx="127.1" cy="168.7" r="2.3"/><circle cx="120.4" cy="195.8" r="2.0"/><circle cx="135.0" cy="85.2" r="2.7"/><circle cx="143.1" cy="106.2" r="2.9"/><circle cx="140.7" cy="133.8" r="2.9"/><circle cx="135.4" cy="123.5" r="2.7"/><circle cx="124.5" cy="183.3" r="2.2"/><circle cx="140.3" cy="110.1" r="2.8"/><circle cx="128.0" cy="105.1" r="2.4"/><circle cx="122.2" cy="164.9" r="2.1"/><circle cx="133.6" cy="98.4" r="2.6"/><circle cx="119.4" cy="196.8" r="1.9"/><circle cx="133.4" cy="139.9" r="2.6"/><circle cx="125.6" cy="136.5" r="2.3"/><circle cx="129.7" cy="173.1" r="2.5"/><circle cx="124.2" cy="218.2" r="2.2"/><circle cx="133.7" cy="134.0" r="2.6"/><circle cx="134.4" cy="126.7" r="2.6"/><circle cx="134.6" cy="144.8" r="2.6"/><circle cx="124.6" cy="195.0" r="2.2"/><circle cx="125.0" cy="213.2" r="2.2"/><circle cx="128.5" cy="116.4" r="2.4"/><circle cx="136.0" cy="84.1" r="2.7"/><circle cx="124.1" cy="136.9" r="2.2"/><circle cx="138.2" cy="138.8" r="2.8"/><circle cx="119.9" cy="191.3" r="1.9"/><circle cx="119.5" cy="183.2" r="1.9"/><circle cx="123.7" cy="191.2" r="2.2"/><circle cx="130.2" cy="147.9" r="2.5"/><circle cx="129.2" cy="152.3" r="2.4"/><circle cx="122.0" cy="214.2" r="2.1"/><circle cx="138.7" cy="92.3" r="2.8"/><circle cx="134.0" cy="79.5" r="2.6"/><circle cx="134.1" cy="76.7" r="2.6"/><circle cx="119.0" cy="199.5" r="1.9"/><circle cx="130.0" cy="163.4" r="2.5"/><circle cx="120.3" cy="184.9" r="2.0"/><circle cx="134.3" cy="180.0" r="2.6"/><circle cx="123.1" cy="199.1" r="2.1"/><circle cx="130.8" cy="164.9" r="2.5"/><circle cx="137.3" cy="139.8" r="2.7"/><circle cx="131.8" cy="109.2" r="2.5"/><circle cx="140.4" cy="150.2" r="2.8"/><circle cx="130.1" cy="122.4" r="2.5"/><circle cx="122.5" cy="212.4" r="2.1"/><circle cx="130.9" cy="193.1" r="2.5"/><circle cx="124.8" cy="134.2" r="2.2"/><circle cx="129.7" cy="162.6" r="2.5"/><circle cx="130.5" cy="157.4" r="2.5"/><circle cx="127.9" cy="174.0" r="2.4"/><circle cx="127.2" cy="214.8" r="2.3"/><circle cx="137.4" cy="133.1" r="2.7"/><circle cx="124.3" cy="175.2" r="2.2"/><circle cx="138.0" cy="161.7" r="2.8"/><circle cx="130.0" cy="215.7" r="2.5"/><circle cx="137.0" cy="125.6" r="2.7"/><circle cx="121.0" cy="179.3" r="2.0"/><circle cx="138.5" cy="104.7" r="2.8"/><circle cx="128.0" cy="166.6" r="2.4"/><circle cx="120.0" cy="216.3" r="1.9"/><circle cx="120.4" cy="187.9" r="2.0"/><circle cx="131.0" cy="84.9" r="2.5"/><circle cx="119.0" cy="219.1" r="1.9"/><circle cx="122.4" cy="166.1" r="2.1"/><circle cx="134.3" cy="171.0" r="2.6"/><circle cx="132.7" cy="214.6" r="2.6"/><circle cx="128.2" cy="171.6" r="2.4"/><circle cx="124.7" cy="126.0" r="2.2"/><circle cx="123.2" cy="152.4" r="2.1"/><circle cx="128.2" cy="191.5" r="2.4"/><circle cx="130.9" cy="148.3" r="2.5"/><circle cx="133.4" cy="118.6" r="2.6"/><circle cx="134.0" cy="147.4" r="2.6"/><circle cx="142.5" cy="107.4" r="2.9"/><circle cx="125.0" cy="106.7" r="2.2"/><circle cx="134.0" cy="110.9" r="2.6"/><circle cx="135.1" cy="162.4" r="2.7"/><circle cx="137.7" cy="138.9" r="2.8"/><circle cx="132.5" cy="120.2" r="2.6"/><circle cx="119.3" cy="190.2" r="1.9"/><circle cx="126.9" cy="174.9" r="2.3"/><circle cx="125.8" cy="199.9" r="2.3"/><circle cx="139.5" cy="117.4" r="2.8"/><circle cx="120.6" cy="175.9" r="2.0"/><circle cx="125.4" cy="131.5" r="2.3"/><circle cx="126.9" cy="160.6" r="2.3"/><circle cx="134.2" cy="154.5" r="2.6"/><circle cx="122.4" cy="171.4" r="2.1"/><circle cx="131.6" cy="169.8" r="2.5"/><circle cx="125.5" cy="211.5" r="2.3"/><circle cx="132.8" cy="176.4" r="2.6"/><circle cx="128.5" cy="142.7" r="2.4"/><circle cx="119.4" cy="196.9" r="1.9"/><circle cx="132.7" cy="117.5" r="2.6"/><circle cx="128.3" cy="194.6" r="2.4"/><circle cx="127.6" cy="170.6" r="2.4"/><circle cx="131.3" cy="131.1" r="2.5"/><circle cx="130.8" cy="191.8" r="2.5"/><circle cx="130.3" cy="109.6" r="2.5"/><circle cx="150.8" cy="86.9" r="3.1"/><circle cx="127.8" cy="132.6" r="2.4"/><circle cx="124.0" cy="161.8" r="2.2"/><circle cx="128.7" cy="177.2" r="2.4"/><circle cx="130.5" cy="138.0" r="2.5"/><circle cx="128.8" cy="170.9" r="2.4"/><circle cx="119.1" cy="218.7" r="1.9"/><circle cx="126.0" cy="220.8" r="2.3"/><circle cx="131.0" cy="188.1" r="2.5"/><circle cx="127.5" cy="136.5" r="2.4"/><circle cx="140.5" cy="158.3" r="2.8"/><circle cx="120.2" cy="198.5" r="2.0"/><circle cx="125.3" cy="207.8" r="2.3"/><circle cx="123.1" cy="215.3" r="2.1"/><circle cx="126.3" cy="147.2" r="2.3"/><circle cx="130.4" cy="141.0" r="2.5"/><circle cx="132.8" cy="140.7" r="2.6"/><circle cx="123.2" cy="195.7" r="2.1"/><circle cx="121.5" cy="216.0" r="2.0"/><circle cx="133.9" cy="169.0" r="2.6"/><circle cx="126.2" cy="154.2" r="2.3"/><circle cx="121.4" cy="181.5" r="2.0"/><circle cx="127.7" cy="151.5" r="2.4"/><circle cx="136.0" cy="169.8" r="2.7"/><circle cx="127.4" cy="121.4" r="2.4"/><circle cx="136.0" cy="106.6" r="2.7"/><circle cx="121.5" cy="149.5" r="2.0"/><circle cx="138.7" cy="132.2" r="2.8"/><circle cx="128.0" cy="116.0" r="2.4"/><circle cx="121.8" cy="216.9" r="2.1"/><circle cx="122.8" cy="185.1" r="2.1"/><circle cx="124.7" cy="147.3" r="2.2"/><circle cx="125.2" cy="220.0" r="2.3"/><circle cx="131.5" cy="108.2" r="2.5"/><circle cx="122.2" cy="142.3" r="2.1"/><circle cx="121.1" cy="207.4" r="2.0"/><circle cx="125.5" cy="217.3" r="2.3"/><circle cx="127.3" cy="196.7" r="2.4"/><circle cx="124.5" cy="121.2" r="2.2"/><circle cx="128.4" cy="169.4" r="2.4"/><circle cx="138.2" cy="99.8" r="2.8"/><circle cx="138.7" cy="97.5" r="2.8"/><circle cx="127.2" cy="205.0" r="2.4"/><circle cx="139.0" cy="64.7" r="2.8"/><circle cx="131.1" cy="106.1" r="2.5"/><circle cx="142.3" cy="107.9" r="2.9"/><circle cx="119.9" cy="187.0" r="1.9"/><circle cx="128.5" cy="176.9" r="2.4"/><circle cx="129.0" cy="125.3" r="2.4"/><circle cx="131.9" cy="150.0" r="2.5"/><circle cx="122.3" cy="215.4" r="2.1"/><circle cx="131.5" cy="124.6" r="2.5"/><circle cx="136.6" cy="98.8" r="2.7"/><circle cx="128.8" cy="179.1" r="2.4"/><circle cx="130.1" cy="108.4" r="2.5"/><circle cx="130.4" cy="168.1" r="2.5"/><circle cx="126.9" cy="130.5" r="2.3"/><circle cx="142.2" cy="85.5" r="2.9"/><circle cx="122.4" cy="180.6" r="2.1"/><circle cx="119.8" cy="191.8" r="1.9"/><circle cx="123.2" cy="138.0" r="2.1"/><circle cx="134.1" cy="117.0" r="2.6"/><circle cx="121.4" cy="218.3" r="2.0"/><circle cx="132.2" cy="129.1" r="2.6"/><circle cx="128.2" cy="129.3" r="2.4"/><circle cx="129.0" cy="144.5" r="2.4"/><circle cx="137.8" cy="128.5" r="2.8"/><circle cx="124.1" cy="129.3" r="2.2"/><circle cx="130.1" cy="212.2" r="2.5"/><circle cx="139.5" cy="102.6" r="2.8"/><circle cx="131.3" cy="201.6" r="2.5"/><circle cx="126.3" cy="165.5" r="2.3"/><circle cx="144.7" cy="86.8" r="3.0"/><circle cx="142.4" cy="115.9" r="2.9"/><circle cx="132.8" cy="180.2" r="2.6"/><circle cx="121.2" cy="168.6" r="2.0"/><circle cx="138.3" cy="128.8" r="2.8"/><circle cx="125.3" cy="135.1" r="2.3"/><circle cx="122.6" cy="212.5" r="2.1"/><circle cx="121.5" cy="190.0" r="2.0"/><circle cx="121.3" cy="181.0" r="2.0"/><circle cx="126.0" cy="212.2" r="2.3"/><circle cx="137.7" cy="127.4" r="2.8"/><circle cx="128.2" cy="139.9" r="2.4"/><circle cx="126.9" cy="202.0" r="2.3"/><circle cx="126.1" cy="153.8" r="2.3"/><circle cx="129.4" cy="154.6" r="2.4"/><circle cx="133.1" cy="198.6" r="2.6"/><circle cx="123.4" cy="220.9" r="2.2"/><circle cx="121.0" cy="207.9" r="2.0"/><circle cx="128.2" cy="194.1" r="2.4"/><circle cx="124.5" cy="154.6" r="2.2"/><circle cx="129.6" cy="186.3" r="2.5"/><circle cx="139.4" cy="126.6" r="2.8"/><circle cx="130.9" cy="130.3" r="2.5"/><circle cx="125.7" cy="123.7" r="2.3"/><circle cx="122.7" cy="183.4" r="2.1"/><circle cx="122.9" cy="214.9" r="2.1"/><circle cx="131.6" cy="192.2" r="2.5"/><circle cx="138.1" cy="131.9" r="2.8"/><circle cx="120.6" cy="180.8" r="2.0"/><circle cx="127.1" cy="142.6" r="2.3"/><circle cx="129.4" cy="200.4" r="2.4"/><circle cx="130.1" cy="159.4" r="2.5"/><circle cx="129.6" cy="129.8" r="2.5"/><circle cx="130.6" cy="135.0" r="2.5"/><circle cx="125.2" cy="103.5" r="2.3"/><circle cx="124.1" cy="143.9" r="2.2"/><circle cx="127.9" cy="141.2" r="2.4"/><circle cx="123.2" cy="156.0" r="2.1"/><circle cx="122.4" cy="180.4" r="2.1"/><circle cx="128.5" cy="212.7" r="2.4"/><circle cx="127.9" cy="199.6" r="2.4"/><circle cx="128.5" cy="170.2" r="2.4"/><circle cx="141.6" cy="143.9" r="2.9"/><circle cx="134.2" cy="118.9" r="2.6"/><circle cx="126.0" cy="172.4" r="2.3"/><circle cx="147.2" cy="97.6" r="3.0"/><circle cx="130.3" cy="94.2" r="2.5"/><circle cx="129.7" cy="178.6" r="2.5"/><circle cx="139.5" cy="117.9" r="2.8"/><circle cx="128.9" cy="203.3" r="2.4"/><circle cx="121.8" cy="181.9" r="2.1"/><circle cx="130.0" cy="164.2" r="2.5"/><circle cx="124.6" cy="213.6" r="2.2"/><circle cx="140.5" cy="112.7" r="2.8"/><circle cx="126.5" cy="137.4" r="2.3"/><circle cx="125.5" cy="162.2" r="2.3"/><circle cx="123.8" cy="217.0" r="2.2"/><circle cx="147.3" cy="101.8" r="3.0"/><circle cx="130.0" cy="173.7" r="2.5"/><circle cx="123.9" cy="211.6" r="2.2"/><circle cx="131.1" cy="114.9" r="2.5"/><circle cx="131.1" cy="186.1" r="2.5"/><circle cx="120.8" cy="184.4" r="2.0"/><circle cx="134.5" cy="143.8" r="2.6"/><circle cx="123.5" cy="165.6" r="2.2"/><circle cx="122.8" cy="213.5" r="2.1"/><circle cx="131.3" cy="157.2" r="2.5"/><circle cx="135.2" cy="155.8" r="2.7"/><circle cx="130.0" cy="169.1" r="2.5"/><circle cx="128.3" cy="85.2" r="2.4"/><circle cx="126.6" cy="198.6" r="2.3"/><circle cx="138.3" cy="93.4" r="2.8"/><circle cx="123.6" cy="218.5" r="2.2"/><circle cx="122.7" cy="217.6" r="2.1"/><circle cx="125.5" cy="199.7" r="2.3"/><circle cx="131.8" cy="208.8" r="2.5"/><circle cx="126.3" cy="175.3" r="2.3"/><circle cx="125.0" cy="136.9" r="2.2"/><circle cx="125.3" cy="173.9" r="2.3"/><circle cx="120.0" cy="183.0" r="1.9"/><circle cx="141.8" cy="114.4" r="2.9"/><circle cx="130.5" cy="194.5" r="2.5"/><circle cx="133.0" cy="136.7" r="2.6"/><circle cx="130.2" cy="162.7" r="2.5"/><circle cx="133.3" cy="131.9" r="2.6"/><circle cx="135.3" cy="133.9" r="2.7"/><circle cx="119.2" cy="206.6" r="1.9"/><circle cx="127.8" cy="194.0" r="2.4"/><circle cx="125.5" cy="97.2" r="2.3"/><circle cx="122.5" cy="194.1" r="2.1"/><circle cx="131.0" cy="212.3" r="2.5"/><circle cx="132.9" cy="186.0" r="2.6"/><circle cx="124.3" cy="184.6" r="2.2"/><circle cx="127.6" cy="131.6" r="2.4"/><circle cx="121.7" cy="185.4" r="2.1"/><circle cx="122.5" cy="146.2" r="2.1"/><circle cx="127.0" cy="212.0" r="2.3"/><circle cx="130.3" cy="186.1" r="2.5"/><circle cx="130.1" cy="139.1" r="2.5"/><circle cx="129.5" cy="207.4" r="2.5"/><circle cx="123.9" cy="194.4" r="2.2"/><circle cx="140.1" cy="123.3" r="2.8"/><circle cx="128.6" cy="125.2" r="2.4"/><circle cx="136.0" cy="74.0" r="2.7"/><circle cx="123.1" cy="193.9" r="2.1"/><circle cx="132.5" cy="103.6" r="2.6"/><circle cx="130.7" cy="133.1" r="2.5"/><circle cx="120.0" cy="189.9" r="1.9"/><circle cx="132.1" cy="136.9" r="2.6"/><circle cx="131.9" cy="134.4" r="2.5"/><circle cx="140.1" cy="98.3" r="2.8"/><circle cx="130.4" cy="93.1" r="2.5"/><circle cx="120.7" cy="170.0" r="2.0"/><circle cx="136.4" cy="113.9" r="2.7"/><circle cx="122.1" cy="216.8" r="2.1"/><circle cx="138.1" cy="82.1" r="2.8"/><circle cx="126.8" cy="138.2" r="2.3"/><circle cx="129.7" cy="120.8" r="2.5"/><circle cx="121.5" cy="209.2" r="2.0"/><circle cx="124.9" cy="191.6" r="2.2"/><circle cx="136.2" cy="109.0" r="2.7"/><circle cx="130.2" cy="94.9" r="2.5"/><circle cx="131.1" cy="102.9" r="2.5"/><circle cx="124.6" cy="190.3" r="2.2"/><circle cx="127.4" cy="191.2" r="2.4"/><circle cx="124.6" cy="177.4" r="2.2"/><circle cx="121.6" cy="159.9" r="2.1"/><circle cx="129.7" cy="156.6" r="2.5"/><circle cx="126.4" cy="172.9" r="2.3"/><circle cx="145.6" cy="108.5" r="3.0"/><circle cx="119.3" cy="196.9" r="1.9"/><circle cx="126.7" cy="194.8" r="2.3"/><circle cx="120.4" cy="183.3" r="2.0"/><circle cx="129.3" cy="128.0" r="2.4"/><circle cx="124.4" cy="125.2" r="2.2"/><circle cx="124.5" cy="218.7" r="2.2"/><circle cx="119.9" cy="215.0" r="1.9"/><circle cx="133.9" cy="191.3" r="2.6"/><circle cx="131.1" cy="195.8" r="2.5"/><circle cx="129.7" cy="156.0" r="2.5"/><circle cx="124.5" cy="206.6" r="2.2"/><circle cx="123.9" cy="184.4" r="2.2"/><circle cx="133.7" cy="153.5" r="2.6"/><circle cx="121.7" cy="183.3" r="2.1"/><circle cx="132.0" cy="102.1" r="2.6"/><circle cx="122.6" cy="148.1" r="2.1"/><circle cx="124.1" cy="202.7" r="2.2"/><circle cx="123.9" cy="158.7" r="2.2"/><circle cx="136.2" cy="168.1" r="2.7"/><circle cx="123.5" cy="168.7" r="2.2"/><circle cx="121.2" cy="214.4" r="2.0"/><circle cx="126.8" cy="123.2" r="2.3"/><circle cx="120.5" cy="183.3" r="2.0"/><circle cx="121.8" cy="154.9" r="2.1"/><circle cx="134.5" cy="127.9" r="2.6"/><circle cx="127.4" cy="92.3" r="2.4"/><circle cx="133.0" cy="174.7" r="2.6"/><circle cx="139.1" cy="120.8" r="2.8"/><circle cx="131.6" cy="171.3" r="2.5"/><circle cx="131.2" cy="152.5" r="2.5"/><circle cx="137.3" cy="149.5" r="2.7"/><circle cx="126.2" cy="207.9" r="2.3"/><circle cx="136.6" cy="104.5" r="2.7"/><circle cx="123.0" cy="168.7" r="2.1"/><circle cx="131.3" cy="150.6" r="2.5"/><circle cx="136.3" cy="115.9" r="2.7"/><circle cx="136.2" cy="148.2" r="2.7"/><circle cx="118.7" cy="205.4" r="1.8"/><circle cx="135.7" cy="122.9" r="2.7"/><circle cx="123.3" cy="183.1" r="2.2"/><circle cx="134.9" cy="132.2" r="2.7"/><circle cx="122.8" cy="163.6" r="2.1"/><circle cx="126.0" cy="167.5" r="2.3"/><circle cx="133.3" cy="99.9" r="2.6"/><circle cx="127.4" cy="198.5" r="2.4"/><circle cx="131.8" cy="146.1" r="2.5"/><circle cx="136.4" cy="124.5" r="2.7"/><circle cx="128.3" cy="124.2" r="2.4"/><circle cx="125.9" cy="219.3" r="2.3"/><circle cx="120.8" cy="214.4" r="2.0"/><circle cx="136.8" cy="157.4" r="2.7"/><circle cx="133.4" cy="132.5" r="2.6"/><circle cx="119.9" cy="186.5" r="1.9"/><circle cx="149.4" cy="94.0" r="3.1"/><circle cx="123.9" cy="204.5" r="2.2"/><circle cx="133.8" cy="68.0" r="2.6"/><circle cx="131.7" cy="92.7" r="2.5"/><circle cx="130.7" cy="140.5" r="2.5"/><circle cx="129.8" cy="155.8" r="2.5"/><circle cx="140.7" cy="67.6" r="2.9"/><circle cx="139.3" cy="134.4" r="2.8"/><circle cx="125.8" cy="219.1" r="2.3"/><circle cx="121.2" cy="194.4" r="2.0"/><circle cx="129.7" cy="95.9" r="2.5"/><circle cx="118.4" cy="206.6" r="1.8"/><circle cx="122.4" cy="157.0" r="2.1"/><circle cx="126.4" cy="219.8" r="2.3"/><circle cx="123.4" cy="138.8" r="2.2"/><circle cx="126.8" cy="137.4" r="2.3"/><circle cx="124.0" cy="183.0" r="2.2"/><circle cx="123.2" cy="159.7" r="2.1"/><circle cx="128.3" cy="133.2" r="2.4"/><circle cx="124.4" cy="164.2" r="2.2"/><circle cx="125.1" cy="178.0" r="2.2"/><circle cx="125.4" cy="137.8" r="2.3"/><circle cx="118.9" cy="200.4" r="1.8"/><circle cx="132.5" cy="191.4" r="2.6"/><circle cx="128.2" cy="191.9" r="2.4"/><circle cx="122.7" cy="180.8" r="2.1"/><circle cx="140.6" cy="127.2" r="2.8"/><circle cx="124.0" cy="186.3" r="2.2"/><circle cx="128.9" cy="119.5" r="2.4"/><circle cx="137.7" cy="114.4" r="2.8"/><circle cx="120.8" cy="161.7" r="2.0"/><circle cx="133.4" cy="119.1" r="2.6"/><circle cx="140.2" cy="112.0" r="2.8"/><circle cx="134.1" cy="172.5" r="2.6"/><circle cx="117.9" cy="218.2" r="1.7"/><circle cx="132.7" cy="94.9" r="2.6"/><circle cx="125.6" cy="154.3" r="2.3"/><circle cx="135.9" cy="104.6" r="2.7"/><circle cx="131.6" cy="166.0" r="2.5"/><circle cx="135.9" cy="170.4" r="2.7"/><circle cx="126.7" cy="160.0" r="2.3"/><circle cx="127.2" cy="88.5" r="2.3"/><circle cx="135.9" cy="185.7" r="2.7"/><circle cx="128.7" cy="162.2" r="2.4"/><circle cx="127.3" cy="170.2" r="2.4"/><circle cx="133.1" cy="181.7" r="2.6"/><circle cx="124.6" cy="210.0" r="2.2"/><circle cx="128.6" cy="153.1" r="2.4"/><circle cx="119.3" cy="210.9" r="1.9"/><circle cx="126.5" cy="119.6" r="2.3"/><circle cx="125.0" cy="155.5" r="2.2"/><circle cx="131.1" cy="119.8" r="2.5"/><circle cx="130.8" cy="145.3" r="2.5"/><circle cx="127.8" cy="209.7" r="2.4"/><circle cx="130.6" cy="218.1" r="2.5"/><circle cx="138.7" cy="157.8" r="2.8"/><circle cx="135.1" cy="133.2" r="2.7"/><circle cx="127.7" cy="139.1" r="2.4"/><circle cx="127.6" cy="209.5" r="2.4"/><circle cx="132.7" cy="153.6" r="2.6"/><circle cx="124.4" cy="122.9" r="2.2"/><circle cx="130.4" cy="201.7" r="2.5"/><circle cx="128.5" cy="162.4" r="2.4"/><circle cx="124.8" cy="152.2" r="2.2"/><circle cx="125.8" cy="209.7" r="2.3"/><circle cx="121.2" cy="191.1" r="2.0"/><circle cx="138.3" cy="74.9" r="2.8"/><circle cx="126.8" cy="217.1" r="2.3"/><circle cx="131.0" cy="155.6" r="2.5"/><circle cx="137.6" cy="120.2" r="2.8"/><circle cx="126.6" cy="210.5" r="2.3"/><circle cx="128.8" cy="151.2" r="2.4"/><circle cx="132.6" cy="183.7" r="2.6"/><circle cx="129.8" cy="191.7" r="2.5"/><circle cx="140.2" cy="122.4" r="2.8"/><circle cx="125.5" cy="219.1" r="2.3"/><circle cx="121.7" cy="168.9" r="2.1"/><circle cx="142.2" cy="95.4" r="2.9"/><circle cx="123.8" cy="165.7" r="2.2"/><circle cx="127.2" cy="77.7" r="2.4"/><circle cx="129.3" cy="218.6" r="2.4"/><circle cx="131.5" cy="181.5" r="2.5"/><circle cx="123.3" cy="146.2" r="2.2"/><circle cx="119.9" cy="197.4" r="1.9"/><circle cx="127.5" cy="196.8" r="2.4"/><circle cx="130.5" cy="185.6" r="2.5"/><circle cx="138.1" cy="127.9" r="2.8"/><circle cx="139.3" cy="105.3" r="2.8"/><circle cx="126.9" cy="204.2" r="2.3"/><circle cx="123.3" cy="208.0" r="2.1"/><circle cx="128.2" cy="141.9" r="2.4"/><circle cx="126.7" cy="147.1" r="2.3"/><circle cx="129.3" cy="149.2" r="2.4"/><circle cx="130.8" cy="133.2" r="2.5"/><circle cx="119.9" cy="213.8" r="1.9"/><circle cx="120.5" cy="165.1" r="2.0"/><circle cx="125.4" cy="186.7" r="2.3"/><circle cx="122.5" cy="174.1" r="2.1"/><circle cx="126.8" cy="104.5" r="2.3"/><circle cx="130.1" cy="100.1" r="2.5"/><circle cx="126.9" cy="115.3" r="2.3"/><circle cx="135.5" cy="160.8" r="2.7"/><circle cx="128.4" cy="176.8" r="2.4"/><circle cx="117.6" cy="220.5" r="1.7"/><circle cx="126.7" cy="209.4" r="2.3"/><circle cx="130.6" cy="190.2" r="2.5"/><circle cx="134.2" cy="146.7" r="2.6"/><circle cx="128.8" cy="141.8" r="2.4"/><circle cx="124.9" cy="185.2" r="2.2"/><circle cx="140.3" cy="142.0" r="2.8"/><circle cx="125.0" cy="193.4" r="2.2"/><circle cx="127.8" cy="189.0" r="2.4"/><circle cx="130.5" cy="110.6" r="2.5"/><circle cx="124.5" cy="198.0" r="2.2"/><circle cx="125.5" cy="105.3" r="2.3"/><circle cx="133.2" cy="138.4" r="2.6"/><circle cx="119.6" cy="218.1" r="1.9"/><circle cx="122.9" cy="179.7" r="2.1"/><circle cx="121.4" cy="204.2" r="2.0"/><circle cx="127.0" cy="212.5" r="2.3"/><circle cx="129.3" cy="131.7" r="2.4"/><circle cx="132.9" cy="197.0" r="2.6"/><circle cx="138.0" cy="145.3" r="2.8"/><circle cx="129.9" cy="97.9" r="2.5"/><circle cx="130.6" cy="108.1" r="2.5"/><circle cx="130.9" cy="111.8" r="2.5"/><circle cx="122.4" cy="177.3" r="2.1"/><circle cx="125.7" cy="178.5" r="2.3"/><circle cx="129.0" cy="203.1" r="2.4"/><circle cx="130.9" cy="135.6" r="2.5"/><circle cx="120.9" cy="193.1" r="2.0"/><circle cx="134.4" cy="132.0" r="2.6"/><circle cx="142.7" cy="137.9" r="2.9"/><circle cx="121.3" cy="180.2" r="2.0"/><circle cx="133.6" cy="147.8" r="2.6"/><circle cx="123.5" cy="220.8" r="2.2"/><circle cx="137.7" cy="138.3" r="2.8"/><circle cx="137.2" cy="128.2" r="2.7"/><circle cx="126.9" cy="206.9" r="2.3"/><circle cx="126.4" cy="206.2" r="2.3"/><circle cx="136.9" cy="117.7" r="2.7"/><circle cx="125.7" cy="140.9" r="2.3"/><circle cx="130.0" cy="162.4" r="2.5"/><circle cx="130.6" cy="98.3" r="2.5"/><circle cx="134.0" cy="145.1" r="2.6"/><circle cx="119.8" cy="194.0" r="1.9"/><circle cx="120.8" cy="193.8" r="2.0"/><circle cx="142.8" cy="115.5" r="2.9"/><circle cx="126.6" cy="136.6" r="2.3"/><circle cx="128.0" cy="132.2" r="2.4"/><circle cx="124.6" cy="183.7" r="2.2"/><circle cx="128.6" cy="112.7" r="2.4"/><circle cx="119.2" cy="219.4" r="1.9"/><circle cx="146.1" cy="109.9" r="3.0"/><circle cx="132.2" cy="164.7" r="2.6"/><circle cx="127.7" cy="186.0" r="2.4"/><circle cx="126.8" cy="215.0" r="2.3"/><circle cx="124.0" cy="175.2" r="2.2"/><circle cx="121.4" cy="204.1" r="2.0"/><circle cx="130.1" cy="165.0" r="2.5"/><circle cx="139.3" cy="126.0" r="2.8"/><circle cx="124.9" cy="151.4" r="2.2"/><circle cx="126.9" cy="174.3" r="2.3"/><circle cx="123.3" cy="165.0" r="2.2"/><circle cx="123.0" cy="195.4" r="2.1"/><circle cx="131.8" cy="166.1" r="2.5"/><circle cx="125.7" cy="146.7" r="2.3"/><circle cx="127.7" cy="163.1" r="2.4"/><circle cx="130.8" cy="163.6" r="2.5"/><circle cx="129.2" cy="71.7" r="2.4"/><circle cx="124.7" cy="139.8" r="2.2"/><circle cx="135.8" cy="170.2" r="2.7"/><circle cx="130.5" cy="187.1" r="2.5"/><circle cx="129.7" cy="152.2" r="2.5"/><circle cx="120.3" cy="191.1" r="2.0"/><circle cx="124.5" cy="161.6" r="2.2"/><circle cx="123.7" cy="145.0" r="2.2"/><circle cx="131.6" cy="128.8" r="2.5"/><circle cx="124.1" cy="197.2" r="2.2"/><circle cx="120.2" cy="211.9" r="1.9"/><circle cx="120.3" cy="189.1" r="2.0"/><circle cx="132.5" cy="125.9" r="2.6"/><circle cx="120.9" cy="186.3" r="2.0"/><circle cx="120.7" cy="161.8" r="2.0"/><circle cx="120.8" cy="212.2" r="2.0"/><circle cx="141.7" cy="68.4" r="2.9"/><circle cx="125.1" cy="194.3" r="2.2"/><circle cx="124.6" cy="157.0" r="2.2"/><circle cx="124.7" cy="204.1" r="2.2"/><circle cx="120.0" cy="174.2" r="1.9"/><circle cx="132.6" cy="69.8" r="2.6"/><circle cx="125.0" cy="184.6" r="2.2"/><circle cx="121.8" cy="165.3" r="2.1"/><circle cx="132.4" cy="128.4" r="2.6"/><circle cx="132.3" cy="111.0" r="2.6"/><circle cx="122.4" cy="148.6" r="2.1"/><circle cx="122.4" cy="168.7" r="2.1"/><circle cx="129.0" cy="158.5" r="2.4"/><circle cx="144.7" cy="76.8" r="3.0"/><circle cx="133.7" cy="115.4" r="2.6"/><circle cx="122.8" cy="183.3" r="2.1"/><circle cx="126.3" cy="166.8" r="2.3"/><circle cx="130.2" cy="190.7" r="2.5"/><circle cx="126.1" cy="150.6" r="2.3"/><circle cx="130.2" cy="130.7" r="2.5"/><circle cx="133.6" cy="197.3" r="2.6"/><circle cx="130.3" cy="125.6" r="2.5"/><circle cx="136.5" cy="96.6" r="2.7"/><circle cx="129.3" cy="144.8" r="2.4"/><circle cx="123.5" cy="155.2" r="2.2"/><circle cx="142.9" cy="124.4" r="2.9"/><circle cx="120.4" cy="215.8" r="2.0"/><circle cx="125.3" cy="127.4" r="2.3"/><circle cx="141.8" cy="111.0" r="2.9"/><circle cx="127.5" cy="180.9" r="2.4"/><circle cx="133.3" cy="114.6" r="2.6"/><circle cx="132.0" cy="133.6" r="2.6"/><circle cx="127.5" cy="150.5" r="2.4"/><circle cx="138.4" cy="132.9" r="2.8"/><circle cx="133.5" cy="180.0" r="2.6"/><circle cx="135.8" cy="114.1" r="2.7"/><circle cx="128.4" cy="178.8" r="2.4"/><circle cx="138.2" cy="109.9" r="2.8"/><circle cx="134.5" cy="171.0" r="2.6"/><circle cx="121.3" cy="218.5" r="2.0"/><circle cx="122.0" cy="196.0" r="2.1"/><circle cx="120.2" cy="214.8" r="2.0"/><circle cx="137.3" cy="166.9" r="2.7"/><circle cx="124.4" cy="117.0" r="2.2"/><circle cx="131.5" cy="145.0" r="2.5"/><circle cx="129.8" cy="194.7" r="2.5"/><circle cx="142.7" cy="112.8" r="2.9"/><circle cx="121.7" cy="181.2" r="2.1"/><circle cx="130.5" cy="139.0" r="2.5"/><circle cx="127.0" cy="211.4" r="2.3"/><circle cx="132.3" cy="142.6" r="2.6"/><circle cx="128.1" cy="139.0" r="2.4"/><circle cx="123.7" cy="132.7" r="2.2"/><circle cx="135.5" cy="166.1" r="2.7"/><circle cx="128.4" cy="215.5" r="2.4"/><circle cx="124.1" cy="166.2" r="2.2"/><circle cx="129.4" cy="190.5" r="2.4"/><circle cx="131.1" cy="163.7" r="2.5"/><circle cx="125.6" cy="102.8" r="2.3"/><circle cx="121.5" cy="171.8" r="2.0"/><circle cx="130.9" cy="172.8" r="2.5"/><circle cx="135.5" cy="173.0" r="2.7"/><circle cx="138.3" cy="136.0" r="2.8"/><circle cx="132.1" cy="132.0" r="2.6"/><circle cx="127.9" cy="139.9" r="2.4"/><circle cx="136.7" cy="84.6" r="2.7"/><circle cx="127.6" cy="117.4" r="2.4"/><circle cx="128.9" cy="134.5" r="2.4"/><circle cx="128.0" cy="162.7" r="2.4"/><circle cx="125.5" cy="210.7" r="2.3"/><circle cx="121.7" cy="185.7" r="2.1"/><circle cx="130.2" cy="163.2" r="2.5"/><circle cx="121.7" cy="187.6" r="2.1"/><circle cx="140.5" cy="154.3" r="2.8"/><circle cx="127.5" cy="91.9" r="2.4"/><circle cx="122.6" cy="183.9" r="2.1"/><circle cx="125.9" cy="186.2" r="2.3"/><circle cx="125.2" cy="180.2" r="2.3"/><circle cx="127.3" cy="203.7" r="2.4"/><circle cx="120.1" cy="195.3" r="1.9"/><circle cx="123.9" cy="201.0" r="2.2"/><circle cx="137.2" cy="91.4" r="2.7"/><circle cx="128.4" cy="221.0" r="2.4"/><circle cx="128.2" cy="172.0" r="2.4"/><circle cx="124.2" cy="172.6" r="2.2"/><circle cx="121.4" cy="175.1" r="2.0"/><circle cx="132.9" cy="132.4" r="2.6"/><circle cx="131.5" cy="136.6" r="2.5"/><circle cx="124.6" cy="206.6" r="2.2"/><circle cx="130.1" cy="173.5" r="2.5"/><circle cx="123.3" cy="216.4" r="2.2"/><circle cx="135.8" cy="124.3" r="2.7"/><circle cx="124.2" cy="171.7" r="2.2"/><circle cx="124.5" cy="173.5" r="2.2"/><circle cx="147.2" cy="87.5" r="3.0"/><circle cx="132.9" cy="176.6" r="2.6"/><circle cx="137.7" cy="146.8" r="2.8"/><circle cx="133.7" cy="152.5" r="2.6"/><circle cx="133.2" cy="121.1" r="2.6"/><circle cx="121.7" cy="172.8" r="2.1"/><circle cx="123.1" cy="182.4" r="2.1"/><circle cx="124.5" cy="208.4" r="2.2"/><circle cx="125.8" cy="202.5" r="2.3"/><circle cx="123.2" cy="218.7" r="2.1"/><circle cx="118.0" cy="218.2" r="1.8"/><circle cx="133.3" cy="185.6" r="2.6"/><circle cx="134.1" cy="133.7" r="2.6"/><circle cx="138.7" cy="166.1" r="2.8"/><circle cx="128.5" cy="103.0" r="2.4"/><circle cx="134.1" cy="169.3" r="2.6"/><circle cx="132.9" cy="136.9" r="2.6"/><circle cx="124.2" cy="165.7" r="2.2"/><circle cx="120.7" cy="191.6" r="2.0"/><circle cx="137.6" cy="96.6" r="2.8"/><circle cx="131.5" cy="206.5" r="2.5"/><circle cx="147.3" cy="88.0" r="3.0"/><circle cx="120.9" cy="160.0" r="2.0"/><circle cx="139.9" cy="125.7" r="2.8"/><circle cx="130.1" cy="88.5" r="2.5"/><circle cx="130.2" cy="158.7" r="2.5"/><circle cx="137.8" cy="131.4" r="2.8"/><circle cx="130.8" cy="102.1" r="2.5"/><circle cx="119.1" cy="200.4" r="1.9"/><circle cx="124.8" cy="129.2" r="2.2"/><circle cx="123.2" cy="213.8" r="2.1"/><circle cx="127.9" cy="174.5" r="2.4"/><circle cx="130.2" cy="143.2" r="2.5"/><circle cx="126.0" cy="96.6" r="2.3"/><circle cx="124.2" cy="204.1" r="2.2"/><circle cx="132.7" cy="108.5" r="2.6"/><circle cx="131.2" cy="194.7" r="2.5"/><circle cx="130.4" cy="164.7" r="2.5"/><circle cx="129.2" cy="155.7" r="2.4"/><circle cx="140.4" cy="102.3" r="2.8"/><circle cx="131.4" cy="151.3" r="2.5"/><circle cx="146.5" cy="76.5" r="3.0"/><circle cx="123.0" cy="193.1" r="2.1"/><circle cx="124.2" cy="186.4" r="2.2"/><circle cx="143.2" cy="113.4" r="2.9"/><circle cx="136.4" cy="162.4" r="2.7"/><circle cx="139.9" cy="120.0" r="2.8"/><circle cx="128.5" cy="187.0" r="2.4"/><circle cx="131.1" cy="121.6" r="2.5"/><circle cx="127.9" cy="119.2" r="2.4"/><circle cx="132.1" cy="134.2" r="2.6"/><circle cx="118.4" cy="217.7" r="1.8"/><circle cx="121.1" cy="199.7" r="2.0"/><circle cx="136.1" cy="149.2" r="2.7"/><circle cx="122.9" cy="196.9" r="2.1"/><circle cx="124.3" cy="143.9" r="2.2"/><circle cx="126.7" cy="121.4" r="2.3"/><circle cx="121.1" cy="209.0" r="2.0"/><circle cx="135.2" cy="87.4" r="2.7"/><circle cx="119.0" cy="196.7" r="1.9"/><circle cx="120.2" cy="216.3" r="2.0"/><circle cx="133.3" cy="103.2" r="2.6"/><circle cx="134.8" cy="204.5" r="2.7"/><circle cx="133.4" cy="195.1" r="2.6"/><circle cx="127.9" cy="89.9" r="2.4"/><circle cx="136.6" cy="154.3" r="2.7"/><circle cx="127.1" cy="131.1" r="2.3"/><circle cx="128.8" cy="146.8" r="2.4"/><circle cx="139.3" cy="146.5" r="2.8"/><circle cx="140.7" cy="148.1" r="2.9"/><circle cx="129.9" cy="71.6" r="2.5"/><circle cx="131.4" cy="132.5" r="2.5"/><circle cx="124.7" cy="134.9" r="2.2"/><circle cx="121.1" cy="179.5" r="2.0"/><circle cx="120.4" cy="185.1" r="2.0"/><circle cx="122.0" cy="191.6" r="2.1"/><circle cx="121.8" cy="178.0" r="2.1"/><circle cx="121.5" cy="208.6" r="2.0"/><circle cx="130.8" cy="168.1" r="2.5"/><circle cx="133.1" cy="137.9" r="2.6"/><circle cx="125.8" cy="89.0" r="2.3"/><circle cx="132.8" cy="188.8" r="2.6"/><circle cx="135.6" cy="168.9" r="2.7"/><circle cx="136.1" cy="117.8" r="2.7"/><circle cx="129.5" cy="162.6" r="2.5"/><circle cx="126.5" cy="214.5" r="2.3"/><circle cx="133.6" cy="174.1" r="2.6"/><circle cx="138.0" cy="137.3" r="2.8"/><circle cx="126.7" cy="198.3" r="2.3"/><circle cx="128.2" cy="148.1" r="2.4"/><circle cx="136.9" cy="75.4" r="2.7"/><circle cx="127.7" cy="102.1" r="2.4"/><circle cx="126.6" cy="216.5" r="2.3"/><circle cx="135.2" cy="105.4" r="2.7"/><circle cx="125.8" cy="195.5" r="2.3"/><circle cx="140.4" cy="84.5" r="2.8"/><circle cx="122.9" cy="151.7" r="2.1"/><circle cx="123.7" cy="133.9" r="2.2"/><circle cx="124.1" cy="141.8" r="2.2"/><circle cx="126.4" cy="104.8" r="2.3"/><circle cx="135.0" cy="149.0" r="2.7"/><circle cx="123.5" cy="192.7" r="2.2"/><circle cx="130.9" cy="164.2" r="2.5"/><circle cx="129.0" cy="112.8" r="2.4"/><circle cx="130.8" cy="198.2" r="2.5"/><circle cx="123.6" cy="206.0" r="2.2"/><circle cx="130.9" cy="155.8" r="2.5"/><circle cx="134.6" cy="143.7" r="2.6"/><circle cx="146.7" cy="77.3" r="3.0"/><circle cx="134.3" cy="99.6" r="2.6"/><circle cx="122.5" cy="145.7" r="2.1"/><circle cx="136.0" cy="109.4" r="2.7"/><circle cx="125.4" cy="217.4" r="2.3"/><circle cx="128.6" cy="178.8" r="2.4"/><circle cx="128.0" cy="137.8" r="2.4"/><circle cx="135.3" cy="171.6" r="2.7"/><circle cx="130.4" cy="118.5" r="2.5"/><circle cx="121.1" cy="211.4" r="2.0"/><circle cx="121.0" cy="161.3" r="2.0"/><circle cx="127.6" cy="185.5" r="2.4"/><circle cx="129.2" cy="120.6" r="2.4"/><circle cx="137.7" cy="158.0" r="2.8"/><circle cx="122.8" cy="187.2" r="2.1"/><circle cx="134.5" cy="147.2" r="2.6"/><circle cx="133.1" cy="98.0" r="2.6"/><circle cx="141.0" cy="157.4" r="2.9"/><circle cx="133.2" cy="200.4" r="2.6"/><circle cx="121.6" cy="156.5" r="2.0"/><circle cx="117.8" cy="218.6" r="1.7"/><circle cx="136.3" cy="168.5" r="2.7"/><circle cx="128.0" cy="207.3" r="2.4"/><circle cx="136.6" cy="85.5" r="2.7"/><circle cx="134.0" cy="177.3" r="2.6"/><circle cx="128.3" cy="162.5" r="2.4"/><circle cx="124.9" cy="143.5" r="2.2"/><circle cx="123.1" cy="209.6" r="2.1"/><circle cx="132.3" cy="105.0" r="2.6"/><circle cx="126.7" cy="159.5" r="2.3"/><circle cx="133.8" cy="137.0" r="2.6"/><circle cx="129.5" cy="216.4" r="2.4"/><circle cx="121.2" cy="195.3" r="2.0"/><circle cx="126.7" cy="123.2" r="2.3"/><circle cx="136.0" cy="112.0" r="2.7"/><circle cx="140.9" cy="80.9" r="2.9"/><circle cx="136.6" cy="120.2" r="2.7"/><circle cx="131.8" cy="212.7" r="2.5"/><circle cx="119.2" cy="206.1" r="1.9"/><circle cx="123.3" cy="197.5" r="2.1"/><circle cx="126.9" cy="148.8" r="2.3"/><circle cx="122.5" cy="159.0" r="2.1"/><circle cx="130.1" cy="170.4" r="2.5"/><circle cx="125.1" cy="198.7" r="2.2"/><circle cx="137.5" cy="66.7" r="2.7"/><circle cx="140.1" cy="120.4" r="2.8"/><circle cx="134.5" cy="171.2" r="2.6"/><circle cx="133.3" cy="114.3" r="2.6"/><circle cx="125.5" cy="213.8" r="2.3"/><circle cx="135.4" cy="90.8" r="2.7"/><circle cx="122.2" cy="217.9" r="2.1"/><circle cx="134.9" cy="125.1" r="2.7"/><circle cx="133.4" cy="122.3" r="2.6"/><circle cx="127.4" cy="151.8" r="2.4"/><circle cx="128.3" cy="178.1" r="2.4"/><circle cx="143.7" cy="133.4" r="2.9"/><circle cx="147.4" cy="83.4" r="3.0"/><circle cx="147.6" cy="157.9" r="3.1"/><circle cx="147.3" cy="129.0" r="3.0"/><circle cx="135.0" cy="191.3" r="2.7"/><circle cx="139.5" cy="184.2" r="2.8"/><circle cx="155.8" cy="83.8" r="3.3"/><circle cx="144.5" cy="102.5" r="3.0"/><circle cx="139.6" cy="151.9" r="2.8"/><circle cx="151.8" cy="94.9" r="3.2"/><circle cx="138.8" cy="169.6" r="2.8"/><circle cx="140.9" cy="149.2" r="2.9"/><circle cx="132.7" cy="197.6" r="2.6"/><circle cx="145.4" cy="112.3" r="3.0"/><circle cx="143.6" cy="150.9" r="2.9"/><circle cx="143.7" cy="141.1" r="2.9"/><circle cx="145.1" cy="150.2" r="3.0"/><circle cx="130.8" cy="196.9" r="2.5"/><circle cx="145.8" cy="112.4" r="3.0"/><circle cx="147.8" cy="98.6" r="3.1"/><circle cx="142.3" cy="166.5" r="2.9"/><circle cx="146.3" cy="88.7" r="3.0"/><circle cx="137.7" cy="135.2" r="2.8"/><circle cx="131.0" cy="190.8" r="2.5"/><circle cx="133.4" cy="173.6" r="2.6"/><circle cx="137.3" cy="151.3" r="2.7"/><circle cx="144.9" cy="66.4" r="3.0"/><circle cx="133.3" cy="208.2" r="2.6"/><circle cx="141.0" cy="123.9" r="2.9"/><circle cx="144.6" cy="105.4" r="3.0"/><circle cx="147.5" cy="77.0" r="3.1"/><circle cx="146.2" cy="87.8" r="3.0"/><circle cx="147.4" cy="73.3" r="3.0"/><circle cx="145.3" cy="136.2" r="3.0"/><circle cx="142.2" cy="115.7" r="2.9"/><circle cx="146.6" cy="105.8" r="3.0"/><circle cx="134.4" cy="168.6" r="2.6"/><circle cx="148.7" cy="79.0" r="3.1"/><circle cx="142.2" cy="120.4" r="2.9"/><circle cx="136.1" cy="166.2" r="2.7"/><circle cx="136.3" cy="170.6" r="2.7"/><circle cx="137.7" cy="153.4" r="2.8"/><circle cx="141.3" cy="132.1" r="2.9"/><circle cx="146.2" cy="89.8" r="3.0"/><circle cx="140.3" cy="117.4" r="2.8"/><circle cx="138.4" cy="155.9" r="2.8"/><circle cx="137.2" cy="162.9" r="2.7"/><circle cx="146.4" cy="142.0" r="3.0"/><circle cx="132.3" cy="184.2" r="2.6"/><circle cx="145.4" cy="136.8" r="3.0"/><circle cx="146.9" cy="173.7" r="3.0"/><circle cx="135.5" cy="185.5" r="2.7"/><circle cx="146.0" cy="90.9" r="3.0"/><circle cx="145.9" cy="88.0" r="3.0"/><circle cx="142.5" cy="212.1" r="2.9"/><circle cx="143.3" cy="106.0" r="2.9"/><circle cx="143.6" cy="123.4" r="2.9"/><circle cx="140.1" cy="120.6" r="2.8"/><circle cx="140.1" cy="173.8" r="2.8"/><circle cx="143.2" cy="66.0" r="2.9"/><circle cx="141.9" cy="128.3" r="2.9"/><circle cx="138.5" cy="125.0" r="2.8"/><circle cx="147.4" cy="81.7" r="3.0"/><circle cx="140.7" cy="123.2" r="2.9"/><circle cx="141.4" cy="178.9" r="2.9"/><circle cx="148.6" cy="74.4" r="3.1"/><circle cx="144.4" cy="100.7" r="3.0"/><circle cx="141.4" cy="141.7" r="2.9"/><circle cx="138.0" cy="134.3" r="2.8"/><circle cx="140.0" cy="159.9" r="2.8"/><circle cx="144.1" cy="111.3" r="3.0"/><circle cx="147.9" cy="85.1" r="3.1"/><circle cx="141.5" cy="114.5" r="2.9"/><circle cx="139.0" cy="170.6" r="2.8"/><circle cx="138.9" cy="122.0" r="2.8"/><circle cx="140.0" cy="117.5" r="2.8"/><circle cx="140.6" cy="163.0" r="2.8"/><circle cx="143.7" cy="139.1" r="2.9"/><circle cx="147.7" cy="86.9" r="3.1"/><circle cx="145.4" cy="115.7" r="3.0"/><circle cx="137.2" cy="186.6" r="2.7"/><circle cx="145.4" cy="70.1" r="3.0"/><circle cx="147.4" cy="160.3" r="3.0"/><circle cx="143.8" cy="107.4" r="2.9"/><circle cx="138.1" cy="158.4" r="2.8"/><circle cx="147.9" cy="90.4" r="3.1"/><circle cx="144.4" cy="147.3" r="3.0"/><circle cx="133.6" cy="176.1" r="2.6"/><circle cx="147.2" cy="76.9" r="3.0"/><circle cx="130.8" cy="199.8" r="2.5"/><circle cx="149.6" cy="82.8" r="3.1"/><circle cx="143.2" cy="66.2" r="2.9"/><circle cx="135.2" cy="169.3" r="2.7"/><circle cx="139.6" cy="130.8" r="2.8"/><circle cx="146.7" cy="71.3" r="3.0"/><circle cx="137.8" cy="147.2" r="2.8"/><circle cx="139.6" cy="130.3" r="2.8"/><circle cx="128.8" cy="216.4" r="2.4"/><circle cx="133.8" cy="206.6" r="2.6"/><circle cx="132.1" cy="179.8" r="2.6"/><circle cx="138.3" cy="132.0" r="2.8"/><circle cx="138.5" cy="168.7" r="2.8"/><circle cx="155.6" cy="156.8" r="3.3"/><circle cx="144.2" cy="103.3" r="3.0"/><circle cx="148.7" cy="158.3" r="3.1"/><circle cx="146.7" cy="105.9" r="3.0"/><circle cx="139.8" cy="120.2" r="2.8"/><circle cx="146.0" cy="79.0" r="3.0"/><circle cx="152.9" cy="86.9" r="3.2"/><circle cx="149.9" cy="129.5" r="3.1"/><circle cx="139.0" cy="171.9" r="2.8"/><circle cx="139.4" cy="164.8" r="2.8"/><circle cx="150.0" cy="89.5" r="3.1"/><circle cx="147.8" cy="134.2" r="3.1"/><circle cx="148.0" cy="107.2" r="3.1"/><circle cx="151.7" cy="95.4" r="3.2"/><circle cx="152.6" cy="114.0" r="3.2"/><circle cx="147.1" cy="150.0" r="3.0"/><circle cx="137.9" cy="190.6" r="2.8"/><circle cx="145.5" cy="81.5" r="3.0"/><circle cx="143.6" cy="105.6" r="2.9"/><circle cx="144.8" cy="158.4" r="3.0"/><circle cx="141.3" cy="129.1" r="2.9"/><circle cx="140.2" cy="116.5" r="2.8"/><circle cx="138.5" cy="166.0" r="2.8"/><circle cx="148.9" cy="67.4" r="3.1"/><circle cx="130.6" cy="196.4" r="2.5"/><circle cx="143.8" cy="103.2" r="2.9"/><circle cx="139.4" cy="173.6" r="2.8"/><circle cx="143.0" cy="171.4" r="2.9"/><circle cx="137.0" cy="171.9" r="2.7"/><circle cx="140.4" cy="143.0" r="2.8"/><circle cx="138.2" cy="146.4" r="2.8"/><circle cx="151.2" cy="73.8" r="3.2"/><circle cx="140.7" cy="121.0" r="2.9"/><circle cx="139.5" cy="143.7" r="2.8"/><circle cx="145.2" cy="103.3" r="3.0"/><circle cx="140.3" cy="150.1" r="2.8"/><circle cx="139.6" cy="135.4" r="2.8"/><circle cx="144.6" cy="148.5" r="3.0"/><circle cx="139.7" cy="175.3" r="2.8"/><circle cx="150.6" cy="110.4" r="3.1"/><circle cx="138.1" cy="143.6" r="2.8"/><circle cx="146.2" cy="74.0" r="3.0"/><circle cx="142.5" cy="165.3" r="2.9"/><circle cx="143.7" cy="168.1" r="2.9"/><circle cx="140.8" cy="150.9" r="2.9"/><circle cx="148.2" cy="151.3" r="3.1"/><circle cx="138.9" cy="136.3" r="2.8"/><circle cx="142.9" cy="109.3" r="2.9"/><circle cx="137.3" cy="165.3" r="2.7"/><circle cx="146.4" cy="86.2" r="3.0"/><circle cx="137.5" cy="138.7" r="2.7"/><circle cx="145.7" cy="83.0" r="3.0"/><circle cx="138.1" cy="158.0" r="2.8"/><circle cx="139.1" cy="129.6" r="2.8"/><circle cx="137.2" cy="144.7" r="2.7"/><circle cx="146.1" cy="91.2" r="3.0"/><circle cx="144.6" cy="119.7" r="3.0"/><circle cx="138.3" cy="147.7" r="2.8"/><circle cx="143.2" cy="122.6" r="2.9"/><circle cx="141.1" cy="155.2" r="2.9"/><circle cx="145.4" cy="79.7" r="3.0"/><circle cx="143.0" cy="113.1" r="2.9"/><circle cx="148.2" cy="83.0" r="3.1"/><circle cx="140.7" cy="157.1" r="2.9"/><circle cx="140.9" cy="117.3" r="2.9"/><circle cx="138.3" cy="158.4" r="2.8"/><circle cx="137.7" cy="159.4" r="2.8"/><circle cx="147.0" cy="71.8" r="3.0"/><circle cx="145.5" cy="143.2" r="3.0"/><circle cx="138.7" cy="166.4" r="2.8"/><circle cx="148.5" cy="188.1" r="3.1"/><circle cx="150.3" cy="80.3" r="3.1"/><circle cx="152.3" cy="80.8" r="3.2"/><circle cx="138.5" cy="122.9" r="2.8"/><circle cx="139.9" cy="158.7" r="2.8"/><circle cx="158.2" cy="83.5" r="3.3"/><circle cx="128.7" cy="218.0" r="2.4"/><circle cx="140.0" cy="153.8" r="2.8"/><circle cx="151.6" cy="66.5" r="3.2"/><circle cx="142.4" cy="157.8" r="2.9"/><circle cx="138.7" cy="121.3" r="2.8"/><circle cx="146.2" cy="91.8" r="3.0"/><circle cx="139.5" cy="148.0" r="2.8"/><circle cx="137.1" cy="154.2" r="2.7"/><circle cx="149.5" cy="143.3" r="3.1"/><circle cx="149.2" cy="101.1" r="3.1"/><circle cx="146.5" cy="92.6" r="3.0"/><circle cx="146.5" cy="75.9" r="3.0"/><circle cx="148.1" cy="90.8" r="3.1"/><circle cx="147.5" cy="113.3" r="3.1"/><circle cx="143.1" cy="110.7" r="2.9"/><circle cx="147.1" cy="77.5" r="3.0"/><circle cx="140.3" cy="173.1" r="2.8"/><circle cx="149.0" cy="93.2" r="3.1"/><circle cx="151.1" cy="79.1" r="3.1"/><circle cx="149.5" cy="95.9" r="3.1"/><circle cx="151.8" cy="122.7" r="3.2"/><circle cx="137.6" cy="143.6" r="2.8"/><circle cx="153.4" cy="79.2" r="3.2"/><circle cx="150.9" cy="88.7" r="3.1"/><circle cx="157.6" cy="69.4" r="3.3"/><circle cx="141.5" cy="117.7" r="2.9"/><circle cx="154.9" cy="220.2" r="3.2"/><circle cx="136.2" cy="162.9" r="2.7"/><circle cx="134.3" cy="174.7" r="2.6"/><circle cx="133.2" cy="187.7" r="2.6"/><circle cx="150.9" cy="97.3" r="3.1"/><circle cx="137.2" cy="146.2" r="2.7"/><circle cx="154.4" cy="119.8" r="3.2"/><circle cx="144.8" cy="113.7" r="3.0"/><circle cx="138.1" cy="159.7" r="2.8"/><circle cx="140.9" cy="136.5" r="2.9"/><circle cx="138.0" cy="143.4" r="2.8"/><circle cx="146.9" cy="103.1" r="3.0"/><circle cx="131.5" cy="194.5" r="2.5"/><circle cx="137.6" cy="147.2" r="2.8"/><circle cx="140.7" cy="144.2" r="2.9"/><circle cx="144.5" cy="159.9" r="3.0"/><circle cx="131.6" cy="187.6" r="2.5"/><circle cx="148.9" cy="91.9" r="3.1"/><circle cx="150.9" cy="102.3" r="3.1"/><circle cx="143.3" cy="205.1" r="2.9"/><circle cx="142.6" cy="149.3" r="2.9"/><circle cx="137.4" cy="181.9" r="2.7"/><circle cx="147.8" cy="110.0" r="3.1"/><circle cx="132.3" cy="211.4" r="2.6"/><circle cx="139.2" cy="121.5" r="2.8"/><circle cx="144.6" cy="166.4" r="3.0"/><circle cx="137.5" cy="187.1" r="2.7"/><circle cx="142.3" cy="131.3" r="2.9"/><circle cx="144.1" cy="119.8" r="3.0"/><circle cx="138.3" cy="129.1" r="2.8"/><circle cx="146.1" cy="85.8" r="3.0"/><circle cx="146.3" cy="77.7" r="3.0"/><circle cx="130.8" cy="196.0" r="2.5"/><circle cx="137.9" cy="146.8" r="2.8"/><circle cx="151.8" cy="79.6" r="3.2"/><circle cx="144.3" cy="139.7" r="3.0"/><circle cx="152.1" cy="100.6" r="3.2"/><circle cx="144.7" cy="172.3" r="3.0"/><circle cx="144.7" cy="113.2" r="3.0"/><circle cx="147.5" cy="67.3" r="3.1"/><circle cx="137.2" cy="148.3" r="2.7"/><circle cx="129.2" cy="216.1" r="2.4"/><circle cx="163.9" cy="156.9" r="3.5"/><circle cx="132.1" cy="201.1" r="2.6"/><circle cx="155.6" cy="82.2" r="3.3"/><circle cx="152.2" cy="105.5" r="3.2"/><circle cx="140.0" cy="162.2" r="2.8"/><circle cx="138.3" cy="125.0" r="2.8"/><circle cx="151.1" cy="92.2" r="3.1"/><circle cx="146.8" cy="111.3" r="3.0"/><circle cx="143.9" cy="104.8" r="2.9"/><circle cx="140.4" cy="152.7" r="2.8"/><circle cx="138.0" cy="161.7" r="2.8"/><circle cx="142.6" cy="156.7" r="2.9"/><circle cx="151.3" cy="148.6" r="3.2"/><circle cx="141.6" cy="158.3" r="2.9"/><circle cx="130.9" cy="190.0" r="2.5"/><circle cx="144.8" cy="102.3" r="3.0"/><circle cx="144.9" cy="104.0" r="3.0"/><circle cx="140.6" cy="209.0" r="2.8"/><circle cx="131.8" cy="180.2" r="2.5"/><circle cx="148.0" cy="148.2" r="3.1"/><circle cx="147.3" cy="164.7" r="3.0"/><circle cx="141.3" cy="145.8" r="2.9"/><circle cx="147.3" cy="107.4" r="3.0"/><circle cx="139.0" cy="136.8" r="2.8"/><circle cx="152.3" cy="100.0" r="3.2"/><circle cx="145.8" cy="81.7" r="3.0"/><circle cx="149.0" cy="110.9" r="3.1"/><circle cx="135.9" cy="167.1" r="2.7"/><circle cx="148.9" cy="87.2" r="3.1"/><circle cx="169.4" cy="73.3" r="3.6"/><circle cx="145.5" cy="99.0" r="3.0"/><circle cx="136.5" cy="163.4" r="2.7"/><circle cx="139.7" cy="180.7" r="2.8"/><circle cx="153.2" cy="103.4" r="3.2"/><circle cx="139.0" cy="49.0" r="2.8"/><circle cx="141.0" cy="51.0" r="2.9"/><circle cx="144.0" cy="50.0" r="3.0"/><circle cx="146.5" cy="52.0" r="3.0"/><circle cx="138.0" cy="53.5" r="2.8"/><circle cx="157.0" cy="50.5" r="3.3"/><circle cx="160.5" cy="48.0" r="3.4"/><circle cx="161.0" cy="55.0" r="3.4"/><circle cx="157.5" cy="54.0" r="3.3"/><circle cx="163.0" cy="52.5" r="3.4"/><circle cx="134.0" cy="57.0" r="2.6"/><circle cx="137.0" cy="60.5" r="2.7"/><circle cx="147.0" cy="61.0" r="3.0"/><circle cx="152.0" cy="57.0" r="3.2"/><circle cx="128.0" cy="66.0" r="2.4"/><circle cx="131.0" cy="69.0" r="2.5"/><circle cx="135.0" cy="72.0" r="2.7"/><circle cx="141.0" cy="70.0" r="2.9"/><circle cx="148.0" cy="74.0" r="3.1"/><circle cx="127.0" cy="78.0" r="2.3"/><circle cx="133.0" cy="80.0" r="2.6"/><circle cx="176.4" cy="17.8" r="3.7"/><circle cx="186.7" cy="58.5" r="3.9"/><circle cx="170.3" cy="56.5" r="3.6"/><circle cx="176.8" cy="63.8" r="3.7"/><circle cx="169.5" cy="65.3" r="3.6"/><circle cx="176.1" cy="72.5" r="3.7"/><circle cx="165.9" cy="92.2" r="3.5"/><circle cx="164.5" cy="83.5" r="3.5"/><circle cx="160.0" cy="71.8" r="3.4"/><circle cx="163.0" cy="101.0" r="3.4"/><circle cx="142.5" cy="22.6" r="2.9"/><circle cx="164.9" cy="22.6" r="3.5"/><circle cx="150.1" cy="26.6" r="3.1"/><circle cx="158.4" cy="27.1" r="3.3"/><circle cx="163.0" cy="30.2" r="3.4"/><circle cx="145.1" cy="31.2" r="3.0"/><circle cx="147.8" cy="32.2" r="3.1"/><circle cx="154.4" cy="30.2" r="3.2"/><circle cx="135.8" cy="38.5" r="2.7"/><circle cx="149.1" cy="38.8" r="3.1"/><circle cx="156.4" cy="37.2" r="3.3"/><circle cx="150.4" cy="34.8" r="3.1"/><circle cx="130.5" cy="49.4" r="2.5"/><circle cx="139.8" cy="47.4" r="2.8"/><circle cx="143.0" cy="46.0" r="2.9"/><circle cx="146.0" cy="48.0" r="3.0"/><circle cx="149.0" cy="47.6" r="3.1"/><circle cx="140.5" cy="52.7" r="2.8"/><circle cx="142.5" cy="50.0" r="2.9"/><circle cx="158.4" cy="46.7" r="3.3"/><circle cx="159.0" cy="52.0" r="3.3"/><circle cx="156.0" cy="49.0" r="3.3"/><circle cx="166.3" cy="49.4" r="3.5"/><circle cx="133.2" cy="54.7" r="2.6"/><circle cx="131.9" cy="57.3" r="2.5"/><circle cx="151.7" cy="58.7" r="3.2"/><circle cx="159.0" cy="59.3" r="3.3"/><circle cx="169.6" cy="56.0" r="3.6"/><circle cx="169.6" cy="65.3" r="3.6"/><circle cx="137.2" cy="62.6" r="2.7"/><circle cx="141.0" cy="64.0" r="2.9"/><circle cx="146.4" cy="65.3" r="3.0"/><circle cx="126.6" cy="71.9" r="2.3"/><circle cx="155.7" cy="71.9" r="3.3"/><circle cx="161.0" cy="70.6" r="3.4"/><circle cx="136.0" cy="60.0" r="2.7"/><circle cx="144.0" cy="58.0" r="3.0"/><circle cx="166.1" cy="92.8" r="3.5"/><circle cx="159.8" cy="90.6" r="3.4"/><circle cx="155.9" cy="95.7" r="3.3"/><circle cx="163.3" cy="100.8" r="3.4"/><circle cx="156.4" cy="106.4" r="3.3"/><circle cx="172.9" cy="112.7" r="3.6"/><circle cx="161.0" cy="118.9" r="3.4"/><circle cx="154.7" cy="122.9" r="3.2"/><circle cx="166.1" cy="129.7" r="3.5"/><circle cx="161.0" cy="133.7" r="3.4"/><circle cx="155.9" cy="139.3" r="3.3"/><circle cx="175.4" cy="141.6" r="3.7"/><circle cx="151.3" cy="133.1" r="3.2"/><circle cx="152.5" cy="115.0" r="3.2"/><circle cx="156.3" cy="141.1" r="3.3"/><circle cx="155.7" cy="151.9" r="3.3"/><circle cx="152.3" cy="145.7" r="3.2"/><circle cx="147.2" cy="151.9" r="3.0"/><circle cx="151.2" cy="163.8" r="3.1"/><circle cx="157.4" cy="166.7" r="3.3"/><circle cx="141.5" cy="169.5" r="2.9"/><circle cx="148.9" cy="174.0" r="3.1"/><circle cx="147.2" cy="178.6" r="3.0"/><circle cx="157.4" cy="180.3" r="3.3"/><circle cx="140.4" cy="175.2" r="2.8"/><circle cx="145.5" cy="187.6" r="3.0"/><circle cx="134.7" cy="184.2" r="2.7"/><circle cx="138.7" cy="197.3" r="2.8"/><circle cx="135.9" cy="189.9" r="2.7"/><circle cx="146.1" cy="187.6" r="3.0"/><circle cx="157.5" cy="181.0" r="3.3"/><circle cx="147.7" cy="180.0" r="3.1"/><circle cx="162.0" cy="80.0" r="3.4"/><circle cx="168.0" cy="76.0" r="3.5"/><circle cx="158.0" cy="84.0" r="3.3"/><circle cx="152.0" cy="90.0" r="3.2"/><circle cx="149.0" cy="111.0" r="3.1"/><circle cx="150.0" cy="125.0" r="3.1"/><circle cx="146.0" cy="140.0" r="3.0"/><circle cx="144.0" cy="160.0" r="3.0"/><circle cx="139.0" cy="200.0" r="2.8"/><circle cx="137.0" cy="206.0" r="2.7"/><circle cx="136.0" cy="212.0" r="2.7"/></g>
</g>
<line x1="115.8" y1="7.2" x2="115.8" y2="248.8" stroke="#222" stroke-width="1.1" stroke-dasharray="2.8 2.4"/>
<line x1="29.0" y1="220.4" x2="202.8" y2="220.4" stroke="#222" stroke-width="1.1" stroke-dasharray="2.8 2.4"/>
<line x1="27.0" y1="238.4" x2="29.0" y2="238.4" stroke="#333" stroke-width="0.6"/>
<text x="25.8" y="240.3" font-size="5.28" fill="#444" text-anchor="end">0</text>
<line x1="27.0" y1="170.7" x2="29.0" y2="170.7" stroke="#333" stroke-width="0.6"/>
<text x="25.8" y="172.6" font-size="5.28" fill="#444" text-anchor="end">5</text>
<line x1="27.0" y1="103.0" x2="29.0" y2="103.0" stroke="#333" stroke-width="0.6"/>
<text x="25.8" y="104.9" font-size="5.28" fill="#444" text-anchor="end">10</text>
<line x1="27.0" y1="35.3" x2="29.0" y2="35.3" stroke="#333" stroke-width="0.6"/>
<text x="25.8" y="37.2" font-size="5.28" fill="#444" text-anchor="end">15</text>
<line x1="69.2" y1="248.8" x2="69.2" y2="250.8" stroke="#333" stroke-width="0.6"/>
<text x="69.2" y="256.2" font-size="5.28" fill="#444" text-anchor="middle">&#8722;2</text>
<line x1="115.8" y1="248.8" x2="115.8" y2="250.8" stroke="#333" stroke-width="0.6"/>
<text x="115.8" y="256.2" font-size="5.28" fill="#444" text-anchor="middle">0</text>
<line x1="162.4" y1="248.8" x2="162.4" y2="250.8" stroke="#333" stroke-width="0.6"/>
<text x="162.4" y="256.2" font-size="5.28" fill="#444" text-anchor="middle">2</text>
<text x="115.8" y="263.4" font-size="6.7" fill="#000" stroke="#000" text-anchor="middle">log2(FC)</text>
<text transform="translate(16.2,128.4) rotate(-90)" font-size="6.9" fill="#000" stroke="#000" text-anchor="middle">&#8722;log10(adj.P.Val )</text>
<text x="212.9" y="86.2" font-size="6.7" fill="#000" stroke="#000">type</text>
<rect x="213.2" y="90.2" width="10.4" height="10.3" fill="#F2F2F2"/>
<circle cx="218.4" cy="95.3" r="1.1" fill="#0000FF" fill-opacity="0.5"/>
<text x="226.8" y="97.2" font-size="5.5" fill="#222" stroke="#222">down&#8722;regulated</text>
<rect x="213.2" y="100.5" width="10.4" height="10.3" fill="#F2F2F2"/>
<circle cx="218.4" cy="105.6" r="1.1" fill="#BEBEBE" fill-opacity="0.5"/>
<text x="226.8" y="107.5" font-size="5.5" fill="#222" stroke="#222">none significant</text>
<rect x="213.2" y="110.8" width="10.4" height="10.3" fill="#F2F2F2"/>
<circle cx="218.4" cy="115.9" r="1.1" fill="#FF0000" fill-opacity="0.5"/>
<text x="226.8" y="117.9" font-size="5.5" fill="#222" stroke="#222">up&#8722;regulated</text>
<text x="212.9" y="140.8" font-size="6.7" fill="#000" stroke="#000">abs(logFC)</text>
<rect x="213.2" y="144.5" width="10.4" height="10.6" fill="#F2F2F2"/>
<circle cx="218.4" cy="149.8" r="2.5" fill="#000" fill-opacity="0.45"/>
<text x="227.8" y="151.7" font-size="5.4" fill="#000" stroke="#000">1</text>
<rect x="213.2" y="155.1" width="10.4" height="10.6" fill="#F2F2F2"/>
<circle cx="218.4" cy="160.4" r="3.0" fill="#000" fill-opacity="0.45"/>
<text x="227.8" y="162.3" font-size="5.4" fill="#000" stroke="#000">2</text>
<rect x="213.2" y="165.7" width="10.4" height="10.6" fill="#F2F2F2"/>
<circle cx="218.4" cy="171.0" r="3.6" fill="#000" fill-opacity="0.45"/>
<text x="227.8" y="172.9" font-size="5.4" fill="#000" stroke="#000">3</text>
<text x="280.6" y="13" font-size="10.5" font-weight="bold" fill="#000" stroke="#000">B</text>
<rect x="304.81" y="126.2" width="4.8" height="83.6" fill="#00B300"/>
<line x1="307.21" y1="219.4" x2="307.21" y2="221.4" stroke="#000" stroke-width="0.6"/>
<text transform="translate(312.21,224.0) rotate(-74.5)" font-size="6.3" fill="#262626" stroke="#262626" text-anchor="end">import into cell</text>
<rect x="312.82" y="124.3" width="4.8" height="85.5" fill="#00B300"/>
<line x1="315.22" y1="219.4" x2="315.22" y2="221.4" stroke="#000" stroke-width="0.6"/>
<text transform="translate(320.22,224.0) rotate(-74.5)" font-size="6.3" fill="#262626" stroke="#262626" text-anchor="end">regulation of body fluid levels</text>
<rect x="320.83" y="124.3" width="4.8" height="85.5" fill="#00B300"/>
<line x1="323.23" y1="219.4" x2="323.23" y2="221.4" stroke="#000" stroke-width="0.6"/>
<text transform="translate(328.23,224.0) rotate(-74.5)" font-size="6.3" fill="#262626" stroke="#262626" text-anchor="end">regulation of endopeptidase activity</text>
<rect x="328.85" y="121.9" width="4.8" height="87.9" fill="#00B300"/>
<line x1="331.25" y1="219.4" x2="331.25" y2="221.4" stroke="#000" stroke-width="0.6"/>
<text transform="translate(336.25,224.0) rotate(-74.5)" font-size="6.3" fill="#262626" stroke="#262626" text-anchor="end">regulation of peptidase activity</text>
<rect x="336.86" y="121.0" width="4.8" height="88.8" fill="#00B300"/>
<line x1="339.26" y1="219.4" x2="339.26" y2="221.4" stroke="#000" stroke-width="0.6"/>
<text transform="translate(344.26,224.0) rotate(-74.5)" font-size="6.3" fill="#262626" stroke="#262626" text-anchor="end">vascular process in circulatory system</text>
<rect x="344.87" y="120.0" width="4.8" height="89.8" fill="#00B300"/>
<line x1="347.27" y1="219.4" x2="347.27" y2="221.4" stroke="#000" stroke-width="0.6"/>
<text transform="translate(352.27,224.0) rotate(-74.5)" font-size="6.3" fill="#262626" stroke="#262626" text-anchor="end">import across plasma membrane</text>
<rect x="352.89" y="118.1" width="4.8" height="91.7" fill="#00B300"/>
<line x1="355.29" y1="219.4" x2="355.29" y2="221.4" stroke="#000" stroke-width="0.6"/>
<text transform="translate(360.29,224.0) rotate(-74.5)" font-size="6.3" fill="#262626" stroke="#262626" text-anchor="end">amide transport</text>
<rect x="360.90" y="110.6" width="4.8" height="99.2" fill="#00B300"/>
<line x1="363.30" y1="219.4" x2="363.30" y2="221.4" stroke="#000" stroke-width="0.6"/>
<text transform="translate(368.30,224.0) rotate(-74.5)" font-size="6.3" fill="#262626" stroke="#262626" text-anchor="end">hormone metabolic process</text>
<rect x="368.91" y="107.2" width="4.8" height="102.6" fill="#00B300"/>
<line x1="371.31" y1="219.4" x2="371.31" y2="221.4" stroke="#000" stroke-width="0.6"/>
<text transform="translate(376.31,224.0) rotate(-74.5)" font-size="6.3" fill="#262626" stroke="#262626" text-anchor="end">alcohol metabolic process</text>
<rect x="376.92" y="97.1" width="4.8" height="112.7" fill="#00B300"/>
<line x1="379.32" y1="219.4" x2="379.32" y2="221.4" stroke="#000" stroke-width="0.6"/>
<text transform="translate(384.32,224.0) rotate(-74.5)" font-size="6.3" fill="#262626" stroke="#262626" text-anchor="end">cell communication by electrical coupling</text>
<rect x="384.94" y="163.0" width="4.8" height="46.8" fill="#00B2EE"/>
<line x1="387.34" y1="219.4" x2="387.34" y2="221.4" stroke="#000" stroke-width="0.6"/>
<text transform="translate(392.34,224.0) rotate(-74.5)" font-size="6.3" fill="#262626" stroke="#262626" text-anchor="end">specific granule lumen</text>
<rect x="392.95" y="155.5" width="4.8" height="54.3" fill="#00B2EE"/>
<line x1="395.35" y1="219.4" x2="395.35" y2="221.4" stroke="#000" stroke-width="0.6"/>
<text transform="translate(400.35,224.0) rotate(-74.5)" font-size="6.3" fill="#262626" stroke="#262626" text-anchor="end">intercalated disc</text>
<rect x="400.96" y="146.2" width="4.8" height="63.6" fill="#00B2EE"/>
<line x1="403.36" y1="219.4" x2="403.36" y2="221.4" stroke="#000" stroke-width="0.6"/>
<text transform="translate(408.36,224.0) rotate(-74.5)" font-size="6.3" fill="#262626" stroke="#262626" text-anchor="end">vesicle lumen</text>
<rect x="408.98" y="145.8" width="4.8" height="64.0" fill="#00B2EE"/>
<line x1="411.38" y1="219.4" x2="411.38" y2="221.4" stroke="#000" stroke-width="0.6"/>
<text transform="translate(416.38,224.0) rotate(-74.5)" font-size="6.3" fill="#262626" stroke="#262626" text-anchor="end">cytoplasmic vesicle lumen</text>
<rect x="416.99" y="145.2" width="4.8" height="64.6" fill="#00B2EE"/>
<line x1="419.39" y1="219.4" x2="419.39" y2="221.4" stroke="#000" stroke-width="0.6"/>
<text transform="translate(424.39,224.0) rotate(-74.5)" font-size="6.3" fill="#262626" stroke="#262626" text-anchor="end">secretory granule lumen</text>
<rect x="425.00" y="131.4" width="4.8" height="78.4" fill="#00B2EE"/>
<line x1="427.40" y1="219.4" x2="427.40" y2="221.4" stroke="#000" stroke-width="0.6"/>
<text transform="translate(432.40,224.0) rotate(-74.5)" font-size="6.3" fill="#262626" stroke="#262626" text-anchor="end">basal part of cell</text>
<rect x="433.02" y="128.8" width="4.8" height="81.0" fill="#00B2EE"/>
<line x1="435.42" y1="219.4" x2="435.42" y2="221.4" stroke="#000" stroke-width="0.6"/>
<text transform="translate(440.42,224.0) rotate(-74.5)" font-size="6.3" fill="#262626" stroke="#262626" text-anchor="end">basolateral plasma membrane</text>
<rect x="441.03" y="125.9" width="4.8" height="83.9" fill="#00B2EE"/>
<line x1="443.43" y1="219.4" x2="443.43" y2="221.4" stroke="#000" stroke-width="0.6"/>
<text transform="translate(448.43,224.0) rotate(-74.5)" font-size="6.3" fill="#262626" stroke="#262626" text-anchor="end">basal plasma membrane</text>
<rect x="449.04" y="47.7" width="4.8" height="162.1" fill="#00B2EE"/>
<line x1="451.44" y1="219.4" x2="451.44" y2="221.4" stroke="#000" stroke-width="0.6"/>
<text transform="translate(456.44,224.0) rotate(-74.5)" font-size="6.3" fill="#262626" stroke="#262626" text-anchor="end">apical part of cell</text>
<rect x="457.05" y="34.0" width="4.8" height="175.8" fill="#00B2EE"/>
<line x1="459.45" y1="219.4" x2="459.45" y2="221.4" stroke="#000" stroke-width="0.6"/>
<text transform="translate(464.45,224.0) rotate(-74.5)" font-size="6.3" fill="#262626" stroke="#262626" text-anchor="end">apical plasma membrane</text>
<rect x="465.07" y="136.9" width="4.8" height="72.9" fill="#E030EC"/>
<line x1="467.47" y1="219.4" x2="467.47" y2="221.4" stroke="#000" stroke-width="0.6"/>
<text transform="translate(472.47,224.0) rotate(-74.5)" font-size="6.3" fill="#262626" stroke="#262626" text-anchor="end">symporter activity</text>
<rect x="473.08" y="134.3" width="4.8" height="75.5" fill="#E030EC"/>
<line x1="475.48" y1="219.4" x2="475.48" y2="221.4" stroke="#000" stroke-width="0.6"/>
<text transform="translate(480.48,224.0) rotate(-74.5)" font-size="6.3" fill="#262626" stroke="#262626" text-anchor="end">primary active transmembrane transporter activity</text>
<rect x="481.09" y="127.0" width="4.8" height="82.8" fill="#E030EC"/>
<line x1="483.49" y1="219.4" x2="483.49" y2="221.4" stroke="#000" stroke-width="0.6"/>
<text transform="translate(488.49,224.0) rotate(-74.5)" font-size="6.3" fill="#262626" stroke="#262626" text-anchor="end">active ion transmembrane transporter activity</text>
<rect x="489.11" y="126.6" width="4.8" height="83.2" fill="#E030EC"/>
<line x1="491.51" y1="219.4" x2="491.51" y2="221.4" stroke="#000" stroke-width="0.6"/>
<text transform="translate(496.51,224.0) rotate(-74.5)" font-size="6.3" fill="#262626" stroke="#262626" text-anchor="end">serine&#8722;type endopeptidase inhibitor activity</text>
<rect x="497.12" y="122.5" width="4.8" height="87.3" fill="#E030EC"/>
<line x1="499.52" y1="219.4" x2="499.52" y2="221.4" stroke="#000" stroke-width="0.6"/>
<text transform="translate(504.52,224.0) rotate(-74.5)" font-size="6.3" fill="#262626" stroke="#262626" text-anchor="end">peptidase regulator activity</text>
<rect x="505.13" y="119.6" width="4.8" height="90.2" fill="#E030EC"/>
<line x1="507.53" y1="219.4" x2="507.53" y2="221.4" stroke="#000" stroke-width="0.6"/>
<text transform="translate(512.53,224.0) rotate(-74.5)" font-size="6.3" fill="#262626" stroke="#262626" text-anchor="end">endopeptidase regulator activity</text>
<rect x="513.15" y="113.7" width="4.8" height="96.1" fill="#E030EC"/>
<line x1="515.55" y1="219.4" x2="515.55" y2="221.4" stroke="#000" stroke-width="0.6"/>
<text transform="translate(520.55,224.0) rotate(-74.5)" font-size="6.3" fill="#262626" stroke="#262626" text-anchor="end">endopeptidase inhibitor activity</text>
<rect x="521.16" y="110.7" width="4.8" height="99.1" fill="#E030EC"/>
<line x1="523.56" y1="219.4" x2="523.56" y2="221.4" stroke="#000" stroke-width="0.6"/>
<text transform="translate(528.56,224.0) rotate(-74.5)" font-size="6.3" fill="#262626" stroke="#262626" text-anchor="end">ATPase&#8722;coupled transmembrane transporter activity</text>
<rect x="529.17" y="103.7" width="4.8" height="106.1" fill="#E030EC"/>
<line x1="531.57" y1="219.4" x2="531.57" y2="221.4" stroke="#000" stroke-width="0.6"/>
<text transform="translate(536.57,224.0) rotate(-74.5)" font-size="6.3" fill="#262626" stroke="#262626" text-anchor="end">peptidase inhibitor activity</text>
<rect x="537.18" y="94.9" width="4.8" height="114.9" fill="#E030EC"/>
<line x1="539.58" y1="219.4" x2="539.58" y2="221.4" stroke="#000" stroke-width="0.6"/>
<text transform="translate(544.58,224.0) rotate(-74.5)" font-size="6.3" fill="#262626" stroke="#262626" text-anchor="end">active transmembrane transporter activity</text>
<line x1="302.4" y1="24.5" x2="302.4" y2="219.9" stroke="#000" stroke-width="1.1"/>
<line x1="301.9" y1="219.4" x2="544.4" y2="219.4" stroke="#000" stroke-width="1.1"/>
<line x1="300.4" y1="209.8" x2="302.4" y2="209.8" stroke="#000" stroke-width="0.6"/>
<text x="299.8" y="212.4" font-size="6.0" fill="#333" stroke="#333" text-anchor="end">0.0</text>
<line x1="300.4" y1="167.2" x2="302.4" y2="167.2" stroke="#000" stroke-width="0.6"/>
<text x="299.8" y="169.8" font-size="6.0" fill="#333" stroke="#333" text-anchor="end">2.5</text>
<line x1="300.4" y1="124.6" x2="302.4" y2="124.6" stroke="#000" stroke-width="0.6"/>
<text x="299.8" y="127.2" font-size="6.0" fill="#333" stroke="#333" text-anchor="end">5.0</text>
<line x1="300.4" y1="82.0" x2="302.4" y2="82.0" stroke="#000" stroke-width="0.6"/>
<text x="299.8" y="84.6" font-size="6.0" fill="#333" stroke="#333" text-anchor="end">7.5</text>
<line x1="300.4" y1="39.4" x2="302.4" y2="39.4" stroke="#000" stroke-width="0.6"/>
<text x="299.8" y="42.0" font-size="6.0" fill="#333" stroke="#333" text-anchor="end">10.0</text>
<text transform="translate(284.7,121.4) rotate(-90)" font-size="6.06" fill="#000" stroke="#000" text-anchor="middle">&#8722;log10(P&#8722;Value)</text>
<text x="423.5" y="369.6" font-size="6.0" fill="#000" stroke="#000" text-anchor="middle">Pathway</text>
<text x="372.2" y="12.8" font-size="6.2" fill="#000" stroke="#000">ONTOLOGY</text>
<rect x="411.2" y="7.4" width="7" height="7" fill="#00B300"/>
<text x="422.4" y="12.8" font-size="5.4" fill="#000" stroke="#000">BP</text>
<rect x="433.4" y="7.4" width="7" height="7" fill="#00B2EE"/>
<text x="444.6" y="12.8" font-size="5.4" fill="#000" stroke="#000">CC</text>
<rect x="455.8" y="7.4" width="7" height="7" fill="#E030EC"/>
<text x="467.0" y="12.8" font-size="5.4" fill="#000" stroke="#000">MF</text>
<text x="4" y="295" font-size="10.5" font-weight="bold" fill="#000" stroke="#000">C</text>
<g fill="none" stroke="#F8766D" stroke-width="1.25" stroke-opacity="0.9"><path d="M150.1,295.2C143.8,350.3 193.1,385.7 247.4,365.2"/><path d="M150.1,295.2C142.9,358.0 188.4,398.9 254.3,388.6"/><path d="M150.1,295.2C141.9,366.2 180.3,409.0 255.7,412.9"/><path d="M150.1,295.2C141.0,374.5 170.3,415.5 251.5,436.8"/><path d="M150.1,295.2C140.1,382.5 160.0,418.2 242.0,459.4"/><path d="M150.1,295.2C139.2,389.9 151.0,417.8 227.6,479.4"/></g>
<g fill="none" stroke="#A3A500" stroke-width="1.25" stroke-opacity="0.9"><path d="M198.4,310.6C154.9,379.0 105.4,394.8 27.1,365.2"/><path d="M198.4,310.6C150.6,385.9 111.8,402.8 20.3,388.6"/><path d="M198.4,310.6C146.5,392.2 119.3,407.7 18.9,412.9"/><path d="M198.4,310.6C143.0,397.7 126.5,409.6 23.0,436.8"/><path d="M198.4,310.6C140.3,402.0 132.1,409.4 32.5,459.4"/><path d="M198.4,310.6C138.4,405.1 135.6,408.1 46.9,479.4"/></g>
<g fill="none" stroke="#E76BF3" stroke-width="1.25" stroke-opacity="0.9"><path d="M218.8,325.3C183.6,360.5 130.0,343.4 124.4,295.2"/><path d="M218.8,325.3C178.6,365.5 118.1,352.9 99.4,300.4"/><path d="M218.8,325.3C172.9,371.2 110.5,364.7 76.1,310.6"/><path d="M218.8,325.3C166.9,377.2 107.6,377.2 55.7,325.3"/><path d="M218.8,325.3C160.9,383.2 108.9,388.6 39.1,343.8"/><path d="M218.8,325.3C155.0,389.1 113.3,397.8 27.1,365.2"/></g>
<g fill="none" stroke="#00BF7D" stroke-width="1.25" stroke-opacity="0.9"><path d="M175.1,300.4C138.0,404.9 136.0,408.4 65.5,496.1"/><path d="M175.1,300.4C137.3,406.6 137.2,407.0 87.5,508.6"/><path d="M175.1,300.4C137.3,406.6 137.2,407.0 111.8,516.4"/><path d="M175.1,300.4C138.0,404.9 137.3,408.8 137.3,519.0"/><path d="M175.1,300.4C139.1,401.5 138.5,412.2 162.8,516.4"/><path d="M175.1,300.4C140.8,396.7 142.0,416.4 187.1,508.6"/><path d="M175.1,300.4C143.0,390.7 148.1,420.3 209.0,496.1"/></g>
<g fill="none" stroke="#00B0F6" stroke-width="1.25" stroke-opacity="0.9"><path d="M235.4,343.8C152.1,397.3 120.6,400.5 27.1,365.2"/><path d="M235.4,343.8C142.1,403.7 131.4,407.1 18.9,412.9"/><path d="M235.4,343.8C139.0,405.7 135.2,407.3 23.0,436.8"/><path d="M235.4,343.8C137.5,406.7 137.1,406.9 32.5,459.4"/></g>
<circle cx="137.3" cy="519.0" r="2.2" fill="#B3B3B3"/>
<circle cx="111.8" cy="516.4" r="2.2" fill="#B3B3B3"/>
<circle cx="87.5" cy="508.6" r="2.2" fill="#B3B3B3"/>
<circle cx="65.5" cy="496.1" r="2.2" fill="#B3B3B3"/>
<circle cx="46.9" cy="479.4" r="2.2" fill="#B3B3B3"/>
<circle cx="32.5" cy="459.4" r="2.2" fill="#B3B3B3"/>
<circle cx="23.0" cy="436.8" r="2.2" fill="#B3B3B3"/>
<circle cx="18.9" cy="412.9" r="2.2" fill="#B3B3B3"/>
<circle cx="20.3" cy="388.6" r="2.2" fill="#B3B3B3"/>
<circle cx="27.1" cy="365.2" r="2.2" fill="#B3B3B3"/>
<circle cx="39.1" cy="343.8" r="2.2" fill="#B3B3B3"/>
<circle cx="55.7" cy="325.3" r="2.2" fill="#B3B3B3"/>
<circle cx="76.1" cy="310.6" r="2.2" fill="#B3B3B3"/>
<circle cx="99.4" cy="300.4" r="2.2" fill="#B3B3B3"/>
<circle cx="124.4" cy="295.2" r="2.2" fill="#B3B3B3"/>
<circle cx="150.1" cy="295.2" r="4.2" fill="#EBC08C"/>
<circle cx="175.1" cy="300.4" r="5.0" fill="#EBC08C"/>
<circle cx="198.4" cy="310.6" r="4.25" fill="#EBC08C"/>
<circle cx="218.8" cy="325.3" r="4.25" fill="#EBC08C"/>
<circle cx="235.4" cy="343.8" r="3.1" fill="#EBC08C"/>
<circle cx="247.4" cy="365.2" r="2.2" fill="#B3B3B3"/>
<circle cx="254.3" cy="388.6" r="2.2" fill="#B3B3B3"/>
<circle cx="255.7" cy="412.9" r="2.2" fill="#B3B3B3"/>
<circle cx="251.5" cy="436.8" r="2.2" fill="#B3B3B3"/>
<circle cx="242.0" cy="459.4" r="2.2" fill="#B3B3B3"/>
<circle cx="227.6" cy="479.4" r="2.2" fill="#B3B3B3"/>
<circle cx="209.0" cy="496.1" r="2.2" fill="#B3B3B3"/>
<circle cx="187.1" cy="508.6" r="2.2" fill="#B3B3B3"/>
<circle cx="162.8" cy="516.4" r="2.2" fill="#B3B3B3"/>
<text x="109.5" y="293.1" font-size="6.85" fill="#111" stroke="#111">AOX1</text>
<text x="130.9" y="293.4" font-size="6.85" fill="#111" stroke="#111">ABC transporters</text>
<text x="121.5" y="308.1" font-size="6.85" fill="#111" stroke="#111">Complement and coagulation cascades</text>
<text x="109.5" y="316.7" font-size="6.85" fill="#111" stroke="#111">Arachidonic acid metabolism</text>
<text x="200.3" y="323.5" font-size="6.85" fill="#111" stroke="#111">Retinol metabolism</text>
<text x="159.8" y="346.3" font-size="6.85" fill="#111" stroke="#111">Linoleic acid metabolism</text>
<text x="81.4" y="307.9" font-size="6.85" fill="#111" stroke="#111">CYP3A5</text>
<text x="56.0" y="318.1" font-size="6.85" fill="#111" stroke="#111">CYP26A1</text>
<text x="40.0" y="332.5" font-size="6.85" fill="#111" stroke="#111">RDH10</text>
<text x="22.9" y="351.2" font-size="6.85" fill="#111" stroke="#111">DHRS3</text>
<text x="8.9" y="372.5" font-size="6.85" fill="#111" stroke="#111">CYP2C9</text>
<text x="16.5" y="386.3" font-size="6.85" fill="#111" stroke="#111">GPX3</text>
<text x="21.5" y="414.8" font-size="6.85" fill="#111" stroke="#111">PLA2G4D</text>
<text x="13.7" y="434.5" font-size="6.85" fill="#111" stroke="#111">PLA2G4F</text>
<text x="25.0" y="456.9" font-size="6.85" fill="#111" stroke="#111">CYP2J2</text>
<text x="32.8" y="486.5" font-size="6.85" fill="#111" stroke="#111">CBR3</text>
<text x="43.3" y="503.6" font-size="6.85" fill="#111" stroke="#111">SERPINA5</text>
<text x="71.7" y="516.0" font-size="6.85" fill="#111" stroke="#111">C4BPA</text>
<text x="107.7" y="514.4" font-size="6.85" fill="#111" stroke="#111">CD55</text>
<text x="135.8" y="516.7" font-size="6.85" fill="#111" stroke="#111">FGB</text>
<text x="153.4" y="523.3" font-size="6.85" fill="#111" stroke="#111">THBD</text>
<text x="177.8" y="516.0" font-size="6.85" fill="#111" stroke="#111">C3</text>
<text x="207.5" y="493.9" font-size="6.85" fill="#111" stroke="#111">CLU</text>
<text x="221.7" y="477.3" font-size="6.85" fill="#111" stroke="#111">DEFB1</text>
<text x="225.6" y="466.8" font-size="6.85" fill="#111" stroke="#111">ABCC3</text>
<text x="249.4" y="434.7" font-size="6.85" fill="#111" stroke="#111">TAP2</text>
<text x="239.6" y="410.8" font-size="6.85" fill="#111" stroke="#111">ABCA5</text>
<text x="235.8" y="386.5" font-size="6.85" fill="#111" stroke="#111">ABCA12</text>
<text x="240.5" y="362.4" font-size="6.85" fill="#111" stroke="#111">ABCG1</text>
<text x="270.3" y="357.6" font-size="5.4" fill="#000" stroke="#000">category</text>
<line x1="270.9" y1="365.1" x2="277.9" y2="365.1" stroke="#F8766D" stroke-width="1.3"/>
<text x="281.2" y="366.7" font-size="4.4" fill="#333">ABC transporters</text>
<line x1="270.9" y1="373.5" x2="277.9" y2="373.5" stroke="#A3A500" stroke-width="1.3"/>
<text x="281.2" y="375.1" font-size="4.4" fill="#333">Arachidonic acid metabolism</text>
<line x1="270.9" y1="381.8" x2="277.9" y2="381.8" stroke="#00BF7D" stroke-width="1.3"/>
<text x="281.2" y="383.4" font-size="4.4" fill="#333">Complement and coagulation cascades</text>
<line x1="270.9" y1="390.2" x2="277.9" y2="390.2" stroke="#00B0F6" stroke-width="1.3"/>
<text x="281.2" y="391.8" font-size="4.4" fill="#333">Linoleic acid metabolism</text>
<line x1="270.9" y1="398.5" x2="277.9" y2="398.5" stroke="#E76BF3" stroke-width="1.3"/>
<text x="281.2" y="400.1" font-size="4.4" fill="#333">Retinol metabolism</text>
<text x="270.2" y="411" font-size="5.4" fill="#000" stroke="#000">size</text>
<circle cx="275.9" cy="418.4" r="1.9" fill="#000"/>
<text x="284.3" y="420.0" font-size="4.4" fill="#444">3</text>
<circle cx="275.9" cy="427.0" r="3.4" fill="#000"/>
<text x="284.3" y="428.6" font-size="4.4" fill="#444">4</text>
<circle cx="275.9" cy="435.7" r="4.1" fill="#000"/>
<text x="284.3" y="437.3" font-size="4.4" fill="#444">5</text>
<circle cx="275.9" cy="445.4" r="4.5" fill="#000"/>
<text x="284.3" y="447.0" font-size="4.4" fill="#444">6</text>
<circle cx="275.9" cy="455.6" r="5.0" fill="#000"/>
<text x="284.3" y="457.2" font-size="4.4" fill="#444">7</text>
</svg></body></html>
